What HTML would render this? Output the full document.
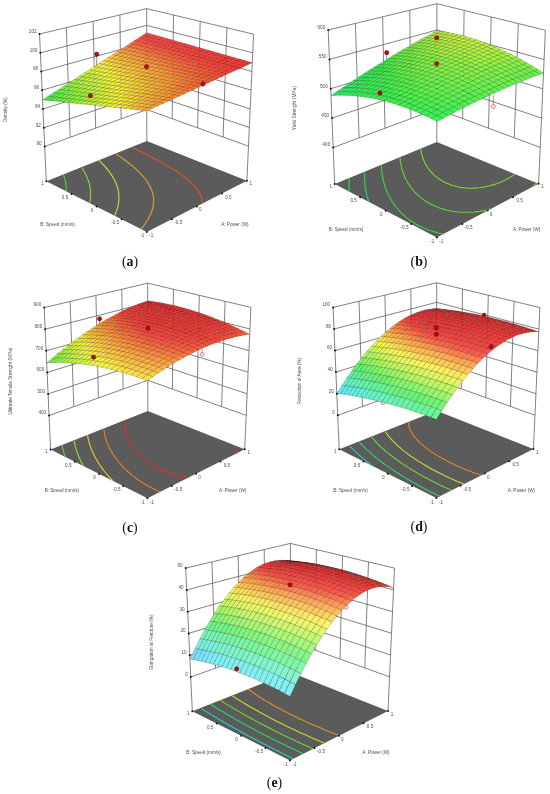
<!DOCTYPE html>
<html><head><meta charset="utf-8"><title>Figure</title>
<style>html,body{margin:0;padding:0;background:#fff}svg{display:block}</style></head>
<body><svg width="550" height="794" viewBox="0 0 550 794">
<rect width="550" height="794" fill="#fff"/>
<polygon points="46.3,181.2 146.8,232 246.9,180.8 146.8,141.1" fill="#5b5b5b"/>
<polyline points="66.3,191.3 66.3,190 66.3,188.7 66.2,187.5 66.1,186.5 66,185.5 65.9,184.5 65.7,183.3 65.5,181.9 65.2,180.7 65,179.7 64.7,178.8 64.4,177.7 64,176.3 63.7,175.3 63.3,174.4" fill="none" stroke="#44d838" stroke-width="1.1"/>
<polyline points="89.7,203.1 89.9,201.9 90.1,200.6 90.3,199.4 90.5,198.2 90.6,196.9 90.6,195.7 90.6,194.6 90.6,193.5 90.6,192.4 90.5,191.3 90.4,190.2 90.3,189.1 90.1,187.7 89.9,186.4 89.6,185.1 89.4,184.2 89.1,183.2 88.9,182.2 88.4,180.8 87.9,179.5 87.6,178.6 87.2,177.7 86.7,176.4 86.1,175.1 85.7,174.3 85.2,173.4 84.4,171.8 83.9,171 83.4,170.2 82.5,168.7 82,167.9" fill="none" stroke="#8cdc2d" stroke-width="1.1"/>
<polyline points="114.6,215.7 115.1,214.5 115.6,213.3 116.2,211.7 116.8,210.2 117.2,208.8 117.6,207.6 117.9,206.4 118.1,205.2 118.4,204 118.5,202.8 118.7,201.6 118.8,200.4 118.9,199.1 118.9,197.9 118.9,196.6 118.9,195.3 118.7,194 118.6,192.7 118.4,191.4 118.2,190.4 118,189.4 117.7,188.3 117.4,187.3 117,185.9 116.4,184.5 116.1,183.5 115.7,182.6 115.2,181.5 114.5,180 113.9,179 113.5,178.2 112.8,177 112,175.7 111.4,174.8 110.7,173.7 109.8,172.4 109.2,171.7 108.2,170.4 107.4,169.4 106.8,168.6 105.5,167.2 104.9,166.4 103.6,165 102.9,164.3 101.8,163.2 100.9,162.2 99.9,161.2 98.8,160.2" fill="none" stroke="#d1dc2d" stroke-width="1.1"/>
<polyline points="141.1,229.1 142.7,227 143.5,226 144.5,224.6 145.7,222.9 146.4,221.8 147.3,220.5 148.3,218.7 148.9,217.6 149.4,216.5 150.2,214.9 150.9,213.3 151.4,212.2 151.8,211.1 152.1,209.9 152.6,208.5 152.9,207 153.2,205.6 153.4,204.2 153.5,203 153.6,201.8 153.6,200.5 153.6,199.3 153.5,198 153.4,196.8 153.2,195.6 152.9,194.5 152.7,193.4 152.4,192.3 152.1,191.3 151.6,190 151,188.6 150.5,187.3 150,186.4 149.5,185.5 148.7,184.1 147.9,182.8 147.3,181.9 146.7,181 145.5,179.4 144.9,178.5 144.1,177.6 142.9,176.1 142.2,175.4 141,174 140.1,173.1 139.1,172.1 137.8,170.9 137.1,170.1 135.5,168.7 134.8,168 133.2,166.7 132.4,166 130.8,164.6 129.8,163.8 128.3,162.7 126.8,161.5 125.8,160.8 124.1,159.5 123.3,158.9 121.6,157.7 120,156.6 119,155.9 117.3,154.7 116.1,153.9" fill="none" stroke="#e3a32a" stroke-width="1.1"/>
<polyline points="202.2,203.7 202.2,202.3 202.2,201 202,199.7 201.8,198.5 201.5,197.4 201.1,196.3 200.7,195.2 200.2,194.1 199.7,193 198.8,191.5 197.9,190.2 197.3,189.3 196.5,188.3 195.1,186.6 194.3,185.8 193.4,184.8 191.9,183.3 191.1,182.5 189.3,181 188.4,180.2 186.6,178.7 185.7,178 183.8,176.6 182.8,175.9 180.9,174.5 179.9,173.8 178,172.5 176,171.2 175,170.5 173,169.3 170.9,168 169.9,167.4 167.9,166.2 165.8,165 164.8,164.4 162.7,163.2 160.6,162 158.6,160.9 157.5,160.3 155.5,159.2 153.4,158.1 151.3,157 150.1,156.4 148.2,155.4 146.1,154.3 144,153.2 142,152.2 140.2,151.3 138.9,150.6 136.8,149.6 134.7,148.6 132.7,147.6" fill="none" stroke="#e34e29" stroke-width="1.1"/>
<path d="M44.7,146.5 L146.8,109.6 L248.5,146.2 M43.9,127.7 L146.8,92.8 L249.4,127.5 M43,109 L146.8,75.9 L250.2,108.9 M42.1,90.2 L146.7,59.1 L251.1,90.2 M41.2,71.5 L146.7,42.3 L251.9,71.5 M40.4,52.8 L146.7,25.4 L252.8,52.8 M39.5,34 L146.7,8.6 L253.6,34.2 M70.2,137.2 L66.3,27.7 M172.2,118.8 L173.5,15 M95.7,128 L93.1,21.3 M197.6,127.9 L200.2,21.4 M121.2,118.8 L119.9,15 M223.1,137.1 L226.9,27.8 M46.3,181.2 L39.5,34 M146.8,141.1 L146.7,8.6 M246.9,180.8 L253.6,34.2" fill="none" stroke="#585858" stroke-width="0.75"/>
<g stroke="#000" stroke-opacity="0.42" stroke-width="0.42" stroke-linejoin="round">
<polygon points="146.7,36.5 150.8,33.9 146.7,32.7 142.7,35.3" fill="#f4413e"/>
<polygon points="142.6,39.1 146.7,36.5 142.7,35.3 138.5,38" fill="#f9463e"/>
<polygon points="150.9,37.6 155,35 150.8,33.9 146.7,36.5" fill="#f5413d"/>
<polygon points="138.4,41.8 142.6,39.1 138.5,38 134.3,40.7" fill="#fc4c3f"/>
<polygon points="146.7,40.2 150.9,37.6 146.7,36.5 142.6,39.1" fill="#f9463d"/>
<polygon points="155.1,38.8 159.2,36.2 155,35 150.9,37.6" fill="#f5403d"/>
<polygon points="134.2,44.5 138.4,41.8 134.3,40.7 130.1,43.4" fill="#fd623f"/>
<polygon points="142.5,42.8 146.7,40.2 142.6,39.1 138.4,41.8" fill="#fc4b3f"/>
<polygon points="151,41.3 155.1,38.8 150.9,37.6 146.7,40.2" fill="#f9453d"/>
<polygon points="159.4,39.9 163.5,37.4 159.2,36.2 155.1,38.8" fill="#f5403c"/>
<polygon points="129.8,47.2 134.2,44.5 130.1,43.4 125.8,46.2" fill="#fe773d"/>
<polygon points="138.3,45.5 142.5,42.8 138.4,41.8 134.2,44.5" fill="#fd5f3e"/>
<polygon points="146.8,43.9 151,41.3 146.7,40.2 142.5,42.8" fill="#fc493e"/>
<polygon points="155.2,42.5 159.4,39.9 155.1,38.8 151,41.3" fill="#f9453c"/>
<polygon points="163.7,41.1 167.8,38.7 163.5,37.4 159.4,39.9" fill="#f5403b"/>
<polygon points="125.5,50 129.8,47.2 125.8,46.2 121.4,49" fill="#fe8d3d"/>
<polygon points="134,48.2 138.3,45.5 134.2,44.5 129.8,47.2" fill="#fe743d"/>
<polygon points="142.5,46.6 146.8,43.9 142.5,42.8 138.3,45.5" fill="#fd5d3d"/>
<polygon points="151,45.1 155.2,42.5 151,41.3 146.8,43.9" fill="#fc493d"/>
<polygon points="159.6,43.6 163.7,41.1 159.4,39.9 155.2,42.5" fill="#f9433c"/>
<polygon points="168.1,42.3 172.2,39.9 167.8,38.7 163.7,41.1" fill="#f53f3b"/>
<polygon points="121,52.8 125.5,50 121.4,49 117,51.9" fill="#ffa23c"/>
<polygon points="129.6,51 134,48.2 129.8,47.2 125.5,50" fill="#fe8a3c"/>
<polygon points="138.2,49.3 142.5,46.6 138.3,45.5 134,48.2" fill="#fd723d"/>
<polygon points="146.8,47.7 151,45.1 146.8,43.9 142.5,46.6" fill="#fd5b3d"/>
<polygon points="155.3,46.2 159.6,43.6 155.2,42.5 151,45.1" fill="#fc473d"/>
<polygon points="163.9,44.8 168.1,42.3 163.7,41.1 159.6,43.6" fill="#f8423b"/>
<polygon points="172.6,43.6 176.6,41.2 172.2,39.9 168.1,42.3" fill="#f53f3a"/>
<polygon points="116.5,55.7 121,52.8 117,51.9 112.5,54.8" fill="#feb33c"/>
<polygon points="125.2,53.8 129.6,51 125.5,50 121,52.8" fill="#ff9f3b"/>
<polygon points="133.8,52 138.2,49.3 134,48.2 129.6,51" fill="#fe863b"/>
<polygon points="142.4,50.3 146.8,47.7 142.5,46.6 138.2,49.3" fill="#fd6f3c"/>
<polygon points="151.1,48.8 155.3,46.2 151,45.1 146.8,47.7" fill="#fd593c"/>
<polygon points="159.7,47.3 163.9,44.8 159.6,43.6 155.3,46.2" fill="#fb473c"/>
<polygon points="168.4,46 172.6,43.6 168.1,42.3 163.9,44.8" fill="#f8423a"/>
<polygon points="177.1,44.8 181.2,42.5 176.6,41.2 172.6,43.6" fill="#f53e39"/>
<polygon points="112,58.6 116.5,55.7 112.5,54.8 107.9,57.7" fill="#fdc43d"/>
<polygon points="120.7,56.6 125.2,53.8 121,52.8 116.5,55.7" fill="#feb03c"/>
<polygon points="129.4,54.7 133.8,52 129.6,51 125.2,53.8" fill="#ff9b3b"/>
<polygon points="138.1,53 142.4,50.3 138.2,49.3 133.8,52" fill="#fe833b"/>
<polygon points="146.8,51.4 151.1,48.8 146.8,47.7 142.4,50.3" fill="#fd6c3c"/>
<polygon points="155.5,49.9 159.7,47.3 155.3,46.2 151.1,48.8" fill="#fd573c"/>
<polygon points="164.2,48.5 168.4,46 163.9,44.8 159.7,47.3" fill="#fb463c"/>
<polygon points="172.9,47.2 177.1,44.8 172.6,43.6 168.4,46" fill="#f8413a"/>
<polygon points="181.7,46.1 185.8,43.8 181.2,42.5 177.1,44.8" fill="#f53e39"/>
<polygon points="107.4,61.5 112,58.6 107.9,57.7 103.3,60.7" fill="#fcd63d"/>
<polygon points="116.1,59.5 120.7,56.6 116.5,55.7 112,58.6" fill="#fdc03c"/>
<polygon points="124.9,57.5 129.4,54.7 125.2,53.8 120.7,56.6" fill="#feac3b"/>
<polygon points="133.6,55.7 138.1,53 133.8,52 129.4,54.7" fill="#ff973a"/>
<polygon points="142.4,54 146.8,51.4 142.4,50.3 138.1,53" fill="#fe803a"/>
<polygon points="151.1,52.4 155.5,49.9 151.1,48.8 146.8,51.4" fill="#fd693b"/>
<polygon points="159.9,51 164.2,48.5 159.7,47.3 155.5,49.9" fill="#fc543b"/>
<polygon points="168.7,49.7 172.9,47.2 168.4,46 164.2,48.5" fill="#fb453b"/>
<polygon points="177.5,48.5 181.7,46.1 177.1,44.8 172.9,47.2" fill="#f84139"/>
<polygon points="102.7,64.5 107.4,61.5 103.3,60.7 98.7,63.7" fill="#fbe73d"/>
<polygon points="186.3,47.4 190.4,45.1 185.8,43.8 181.7,46.1" fill="#f63d38"/>
<polygon points="111.5,62.4 116.1,59.5 112,58.6 107.4,61.5" fill="#fcd13c"/>
<polygon points="120.3,60.4 124.9,57.5 120.7,56.6 116.1,59.5" fill="#fdbb3b"/>
<polygon points="129.1,58.5 133.6,55.7 129.4,54.7 124.9,57.5" fill="#fea83b"/>
<polygon points="137.9,56.7 142.4,54 138.1,53 133.6,55.7" fill="#ff933a"/>
<polygon points="146.8,55.1 151.1,52.4 146.8,51.4 142.4,54" fill="#fe7b3a"/>
<polygon points="155.6,53.5 159.9,51 155.5,49.9 151.1,52.4" fill="#fd663b"/>
<polygon points="164.5,52.1 168.7,49.7 164.2,48.5 159.9,51" fill="#fc523b"/>
<polygon points="173.3,50.9 177.5,48.5 172.9,47.2 168.7,49.7" fill="#fb453a"/>
<polygon points="97.9,67.5 102.7,64.5 98.7,63.7 93.9,66.8" fill="#f7f63e"/>
<polygon points="182.2,49.7 186.3,47.4 181.7,46.1 177.5,48.5" fill="#f84039"/>
<polygon points="106.8,65.3 111.5,62.4 107.4,61.5 102.7,64.5" fill="#fbe23d"/>
<polygon points="191.1,48.7 195.2,46.4 190.4,45.1 186.3,47.4" fill="#f63c38"/>
<polygon points="115.7,63.2 120.3,60.4 116.1,59.5 111.5,62.4" fill="#fccc3c"/>
<polygon points="124.5,61.3 129.1,58.5 124.9,57.5 120.3,60.4" fill="#fdb73b"/>
<polygon points="133.4,59.4 137.9,56.7 133.6,55.7 129.1,58.5" fill="#ffa439"/>
<polygon points="142.3,57.7 146.8,55.1 142.4,54 137.9,56.7" fill="#ff8f39"/>
<polygon points="151.2,56.1 155.6,53.5 151.1,52.4 146.8,55.1" fill="#fe7839"/>
<polygon points="160.1,54.6 164.5,52.1 159.9,51 155.6,53.5" fill="#fd633a"/>
<polygon points="169,53.3 173.3,50.9 168.7,49.7 164.5,52.1" fill="#fc513a"/>
<polygon points="93.1,70.6 97.9,67.5 93.9,66.8 89.1,69.9" fill="#e5f63d"/>
<polygon points="178,52.1 182.2,49.7 177.5,48.5 173.3,50.9" fill="#fb4339"/>
<polygon points="102,68.3 106.8,65.3 102.7,64.5 97.9,67.5" fill="#faf43d"/>
<polygon points="186.9,51 191.1,48.7 186.3,47.4 182.2,49.7" fill="#f84038"/>
<polygon points="195.9,50 200,47.8 195.2,46.4 191.1,48.7" fill="#f63d37"/>
<polygon points="111,66.1 115.7,63.2 111.5,62.4 106.8,65.3" fill="#fbdd3c"/>
<polygon points="119.9,64.1 124.5,61.3 120.3,60.4 115.7,63.2" fill="#fdc73a"/>
<polygon points="128.8,62.2 133.4,59.4 129.1,58.5 124.5,61.3" fill="#feb339"/>
<polygon points="137.8,60.4 142.3,57.7 137.9,56.7 133.4,59.4" fill="#ffa038"/>
<polygon points="146.8,58.7 151.2,56.1 146.8,55.1 142.3,57.7" fill="#fe8a38"/>
<polygon points="155.7,57.2 160.1,54.6 155.6,53.5 151.2,56.1" fill="#fe7538"/>
<polygon points="164.7,55.8 169,53.3 164.5,52.1 160.1,54.6" fill="#fd6039"/>
<polygon points="88.2,73.7 93.1,70.6 89.1,69.9 84.2,73" fill="#d3f63c"/>
<polygon points="173.7,54.5 178,52.1 173.3,50.9 169,53.3" fill="#fc4e39"/>
<polygon points="97.2,71.3 102,68.3 97.9,67.5 93.1,70.6" fill="#ebf63c"/>
<polygon points="182.7,53.3 186.9,51 182.2,49.7 178,52.1" fill="#fb4338"/>
<polygon points="191.7,52.3 195.9,50 191.1,48.7 186.9,51" fill="#f83f37"/>
<polygon points="106.2,69.1 111,66.1 106.8,65.3 102,68.3" fill="#faed3c"/>
<polygon points="200.7,51.4 204.8,49.2 200,47.8 195.9,50" fill="#f63c36"/>
<polygon points="115.2,67 119.9,64.1 115.7,63.2 111,66.1" fill="#fcd73b"/>
<polygon points="124.2,65 128.8,62.2 124.5,61.3 119.9,64.1" fill="#fdc23a"/>
<polygon points="133.2,63.1 137.8,60.4 133.4,59.4 128.8,62.2" fill="#feae39"/>
<polygon points="142.2,61.4 146.8,58.7 142.3,57.7 137.8,60.4" fill="#ff9c38"/>
<polygon points="151.3,59.8 155.7,57.2 151.2,56.1 146.8,58.7" fill="#fe8638"/>
<polygon points="160.3,58.3 164.7,55.8 160.1,54.6 155.7,57.2" fill="#fe7138"/>
<polygon points="83.3,76.9 88.2,73.7 84.2,73 79.3,76.2" fill="#c2f53c"/>
<polygon points="169.4,56.9 173.7,54.5 169,53.3 164.7,55.8" fill="#fd5e39"/>
<polygon points="92.3,74.4 97.2,71.3 93.1,70.6 88.2,73.7" fill="#daf53c"/>
<polygon points="178.4,55.7 182.7,53.3 178,52.1 173.7,54.5" fill="#fc4c39"/>
<polygon points="187.5,54.6 191.7,52.3 186.9,51 182.7,53.3" fill="#fa4238"/>
<polygon points="101.4,72.1 106.2,69.1 102,68.3 97.2,71.3" fill="#f2f53c"/>
<polygon points="196.6,53.6 200.7,51.4 195.9,50 191.7,52.3" fill="#f83e37"/>
<polygon points="110.4,69.9 115.2,67 111,66.1 106.2,69.1" fill="#fbe73b"/>
<polygon points="205.7,52.7 209.8,50.6 204.8,49.2 200.7,51.4" fill="#f63b36"/>
<polygon points="119.5,67.8 124.2,65 119.9,64.1 115.2,67" fill="#fcd13a"/>
<polygon points="128.6,65.9 133.2,63.1 128.8,62.2 124.2,65" fill="#fdbd39"/>
<polygon points="137.7,64.1 142.2,61.4 137.8,60.4 133.2,63.1" fill="#feaa38"/>
<polygon points="146.8,62.4 151.3,59.8 146.8,58.7 142.2,61.4" fill="#ff9737"/>
<polygon points="155.9,60.8 160.3,58.3 155.7,57.2 151.3,59.8" fill="#fe8137"/>
<polygon points="78.3,80.1 83.3,76.9 79.3,76.2 74.3,79.4" fill="#b0f53b"/>
<polygon points="165,59.4 169.4,56.9 164.7,55.8 160.3,58.3" fill="#fd6d38"/>
<polygon points="87.4,77.5 92.3,74.4 88.2,73.7 83.3,76.9" fill="#c9f53b"/>
<polygon points="174.1,58.1 178.4,55.7 173.7,54.5 169.4,56.9" fill="#fd5a38"/>
<polygon points="183.3,56.9 187.5,54.6 182.7,53.3 178.4,55.7" fill="#fc4938"/>
<polygon points="96.5,75.1 101.4,72.1 97.2,71.3 92.3,74.4" fill="#e1f53b"/>
<polygon points="192.4,55.8 196.6,53.6 191.7,52.3 187.5,54.6" fill="#fa4237"/>
<polygon points="105.6,72.8 110.4,69.9 106.2,69.1 101.4,72.1" fill="#f8f53b"/>
<polygon points="201.6,54.9 205.7,52.7 200.7,51.4 196.6,53.6" fill="#f73e36"/>
<polygon points="114.7,70.7 119.5,67.8 115.2,67 110.4,69.9" fill="#fbe13a"/>
<polygon points="210.7,54.1 214.8,52 209.8,50.6 205.7,52.7" fill="#f53b35"/>
<polygon points="123.9,68.7 128.6,65.9 124.2,65 119.5,67.8" fill="#fccc39"/>
<polygon points="133,66.8 137.7,64.1 133.2,63.1 128.6,65.9" fill="#fdb838"/>
<polygon points="142.2,65 146.8,62.4 142.2,61.4 137.7,64.1" fill="#fea537"/>
<polygon points="151.4,63.4 155.9,60.8 151.3,59.8 146.8,62.4" fill="#ff9237"/>
<polygon points="73.2,83.3 78.3,80.1 74.3,79.4 69.2,82.7" fill="#9df53b"/>
<polygon points="160.5,61.9 165,59.4 160.3,58.3 155.9,60.8" fill="#fe7d37"/>
<polygon points="82.3,80.7 87.4,77.5 83.3,76.9 78.3,80.1" fill="#b7f53b"/>
<polygon points="169.7,60.5 174.1,58.1 169.4,56.9 165,59.4" fill="#fd6937"/>
<polygon points="178.9,59.2 183.3,56.9 178.4,55.7 174.1,58.1" fill="#fd5737"/>
<polygon points="91.5,78.2 96.5,75.1 92.3,74.4 87.4,77.5" fill="#d0f53b"/>
<polygon points="188.1,58.1 192.4,55.8 187.5,54.6 183.3,56.9" fill="#fc4737"/>
<polygon points="100.7,75.9 105.6,72.8 101.4,72.1 96.5,75.1" fill="#e8f53b"/>
<polygon points="197.4,57.1 201.6,54.9 196.6,53.6 192.4,55.8" fill="#fa4036"/>
<polygon points="109.9,73.6 114.7,70.7 110.4,69.9 105.6,72.8" fill="#faf13b"/>
<polygon points="206.6,56.3 210.7,54.1 205.7,52.7 201.6,54.9" fill="#f73d35"/>
<polygon points="119.1,71.5 123.9,68.7 119.5,67.8 114.7,70.7" fill="#fbdc3a"/>
<polygon points="215.9,55.5 219.9,53.5 214.8,52 210.7,54.1" fill="#f53a34"/>
<polygon points="128.3,69.6 133,66.8 128.6,65.9 123.9,68.7" fill="#fdc738"/>
<polygon points="137.5,67.7 142.2,65 137.7,64.1 133,66.8" fill="#feb337"/>
<polygon points="146.8,66 151.4,63.4 146.8,62.4 142.2,65" fill="#ffa136"/>
<polygon points="68,86.6 73.2,83.3 69.2,82.7 64,86" fill="#8bf43d"/>
<polygon points="156,64.4 160.5,61.9 155.9,60.8 151.4,63.4" fill="#ff8d36"/>
<polygon points="77.2,83.9 82.3,80.7 78.3,80.1 73.2,83.3" fill="#a6f53a"/>
<polygon points="165.3,63 169.7,60.5 165,59.4 160.5,61.9" fill="#fe7836"/>
<polygon points="174.5,61.6 178.9,59.2 174.1,58.1 169.7,60.5" fill="#fd6637"/>
<polygon points="86.5,81.3 91.5,78.2 87.4,77.5 82.3,80.7" fill="#c0f53a"/>
<polygon points="183.8,60.4 188.1,58.1 183.3,56.9 178.9,59.2" fill="#fd5537"/>
<polygon points="95.7,78.9 100.7,75.9 96.5,75.1 91.5,78.2" fill="#d8f53a"/>
<polygon points="193.1,59.4 197.4,57.1 192.4,55.8 188.1,58.1" fill="#fc4537"/>
<polygon points="105,76.6 109.9,73.6 105.6,72.8 100.7,75.9" fill="#eff53a"/>
<polygon points="202.4,58.4 206.6,56.3 201.6,54.9 197.4,57.1" fill="#fa3f36"/>
<polygon points="114.2,74.4 119.1,71.5 114.7,70.7 109.9,73.6" fill="#fbeb39"/>
<polygon points="211.7,57.6 215.9,55.5 210.7,54.1 206.6,56.3" fill="#f73d35"/>
<polygon points="123.5,72.4 128.3,69.6 123.9,68.7 119.1,71.5" fill="#fcd538"/>
<polygon points="221,57 225.1,54.9 219.9,53.5 215.9,55.5" fill="#f53a34"/>
<polygon points="132.8,70.4 137.5,67.7 133,66.8 128.3,69.6" fill="#fdc137"/>
<polygon points="142.1,68.7 146.8,66 142.2,65 137.5,67.7" fill="#feae36"/>
<polygon points="62.7,89.9 68,86.6 64,86 58.8,89.4" fill="#77f33f"/>
<polygon points="151.4,67 156,64.4 151.4,63.4 146.8,66" fill="#ff9c35"/>
<polygon points="72,87.2 77.2,83.9 73.2,83.3 68,86.6" fill="#94f53a"/>
<polygon points="160.7,65.5 165.3,63 160.5,61.9 156,64.4" fill="#fe8835"/>
<polygon points="170.1,64.1 174.5,61.6 169.7,60.5 165.3,63" fill="#fe7435"/>
<polygon points="81.3,84.5 86.5,81.3 82.3,80.7 77.2,83.9" fill="#aef539"/>
<polygon points="179.4,62.8 183.8,60.4 178.9,59.2 174.5,61.6" fill="#fd6136"/>
<polygon points="90.7,82 95.7,78.9 91.5,78.2 86.5,81.3" fill="#c7f539"/>
<polygon points="188.8,61.7 193.1,59.4 188.1,58.1 183.8,60.4" fill="#fd5136"/>
<polygon points="100,79.6 105,76.6 100.7,75.9 95.7,78.9" fill="#dff539"/>
<polygon points="198.1,60.7 202.4,58.4 197.4,57.1 193.1,59.4" fill="#fc4336"/>
<polygon points="109.3,77.3 114.2,74.4 109.9,73.6 105,76.6" fill="#f6f539"/>
<polygon points="207.5,59.8 211.7,57.6 206.6,56.3 202.4,58.4" fill="#fa3f35"/>
<polygon points="118.7,75.2 123.5,72.4 119.1,71.5 114.2,74.4" fill="#fbe439"/>
<polygon points="216.9,59 221,57 215.9,55.5 211.7,57.6" fill="#f73c34"/>
<polygon points="128,73.2 132.8,70.4 128.3,69.6 123.5,72.4" fill="#fccf38"/>
<polygon points="226.3,58.4 230.4,56.4 225.1,54.9 221,57" fill="#f63a33"/>
<polygon points="137.4,71.3 142.1,68.7 137.5,67.7 132.8,70.4" fill="#fdbc37"/>
<polygon points="57.4,93.3 62.7,89.9 58.8,89.4 53.4,92.8" fill="#64f242"/>
<polygon points="146.8,69.6 151.4,67 146.8,66 142.1,68.7" fill="#fea836"/>
<polygon points="66.8,90.5 72,87.2 68,86.6 62.7,89.9" fill="#81f43d"/>
<polygon points="156.2,68 160.7,65.5 156,64.4 151.4,67" fill="#ff9735"/>
<polygon points="165.6,66.5 170.1,64.1 165.3,63 160.7,65.5" fill="#fe8335"/>
<polygon points="76.1,87.7 81.3,84.5 77.2,83.9 72,87.2" fill="#9df539"/>
<polygon points="175,65.2 179.4,62.8 174.5,61.6 170.1,64.1" fill="#fe6f35"/>
<polygon points="85.5,85.1 90.7,82 86.5,81.3 81.3,84.5" fill="#b6f539"/>
<polygon points="184.4,64 188.8,61.7 183.8,60.4 179.4,62.8" fill="#fd5e36"/>
<polygon points="94.9,82.7 100,79.6 95.7,78.9 90.7,82" fill="#d0f539"/>
<polygon points="193.8,62.9 198.1,60.7 193.1,59.4 188.8,61.7" fill="#fc4f36"/>
<polygon points="104.3,80.3 109.3,77.3 105,76.6 100,79.6" fill="#e7f539"/>
<polygon points="203.3,62 207.5,59.8 202.4,58.4 198.1,60.7" fill="#fc4136"/>
<polygon points="113.7,78.1 118.7,75.2 114.2,74.4 109.3,77.3" fill="#faf239"/>
<polygon points="212.7,61.1 216.9,59 211.7,57.6 207.5,59.8" fill="#f93e35"/>
<polygon points="123.2,76 128,73.2 123.5,72.4 118.7,75.2" fill="#fbdc38"/>
<polygon points="222.2,60.5 226.3,58.4 221,57 216.9,59" fill="#f73b34"/>
<polygon points="132.6,74.1 137.4,71.3 132.8,70.4 128,73.2" fill="#fcc837"/>
<polygon points="231.7,59.9 235.7,57.9 230.4,56.4 226.3,58.4" fill="#f63933"/>
<polygon points="52,96.8 57.4,93.3 53.4,92.8 48,96.3" fill="#50f145"/>
<polygon points="142,72.3 146.8,69.6 142.1,68.7 137.4,71.3" fill="#fdb636"/>
<polygon points="61.4,93.8 66.8,90.5 62.7,89.9 57.4,93.3" fill="#6ef340"/>
<polygon points="151.5,70.6 156.2,68 151.4,67 146.8,69.6" fill="#fea335"/>
<polygon points="161,69 165.6,66.5 160.7,65.5 156.2,68" fill="#ff9134"/>
<polygon points="70.9,91 76.1,87.7 72,87.2 66.8,90.5" fill="#8bf43b"/>
<polygon points="170.4,67.6 175,65.2 170.1,64.1 165.6,66.5" fill="#fe7d34"/>
<polygon points="80.3,88.3 85.5,85.1 81.3,84.5 76.1,87.7" fill="#a6f538"/>
<polygon points="179.9,66.3 184.4,64 179.4,62.8 175,65.2" fill="#fd6b35"/>
<polygon points="89.8,85.8 94.9,82.7 90.7,82 85.5,85.1" fill="#c0f538"/>
<polygon points="189.4,65.2 193.8,62.9 188.8,61.7 184.4,64" fill="#fd5a35"/>
<polygon points="99.3,83.3 104.3,80.3 100,79.6 94.9,82.7" fill="#d7f538"/>
<polygon points="199,64.2 203.3,62 198.1,60.7 193.8,62.9" fill="#fc4b35"/>
<polygon points="108.7,81 113.7,78.1 109.3,77.3 104.3,80.3" fill="#eff538"/>
<polygon points="208.5,63.3 212.7,61.1 207.5,59.8 203.3,62" fill="#fb4035"/>
<polygon points="118.2,78.9 123.2,76 118.7,75.2 113.7,78.1" fill="#fbeb37"/>
<polygon points="218,62.5 222.2,60.5 216.9,59 212.7,61.1" fill="#f93d34"/>
<polygon points="127.7,76.9 132.6,74.1 128,73.2 123.2,76" fill="#fcd536"/>
<polygon points="227.6,61.9 231.7,59.9 226.3,58.4 222.2,60.5" fill="#f73b33"/>
<polygon points="46.5,100.3 52,96.8 48,96.3 42.6,99.9" fill="#3df048"/>
<polygon points="137.2,75 142,72.3 137.4,71.3 132.6,74.1" fill="#fdc235"/>
<polygon points="237.1,61.4 241.2,59.5 235.7,57.9 231.7,59.9" fill="#f63933"/>
<polygon points="56,97.2 61.4,93.8 57.4,93.3 52,96.8" fill="#5bf242"/>
<polygon points="146.8,73.2 151.5,70.6 146.8,69.6 142,72.3" fill="#feb034"/>
<polygon points="156.3,71.6 161,69 156.2,68 151.5,70.6" fill="#ff9e33"/>
<polygon points="65.5,94.3 70.9,91 66.8,90.5 61.4,93.8" fill="#79f33d"/>
<polygon points="165.9,70.1 170.4,67.6 165.6,66.5 161,69" fill="#ff8b33"/>
<polygon points="75,91.6 80.3,88.3 76.1,87.7 70.9,91" fill="#95f539"/>
<polygon points="175.4,68.7 179.9,66.3 175,65.2 170.4,67.6" fill="#fe7733"/>
<polygon points="84.6,88.9 89.8,85.8 85.5,85.1 80.3,88.3" fill="#aff538"/>
<polygon points="185,67.5 189.4,65.2 184.4,64 179.9,66.3" fill="#fd6634"/>
<polygon points="94.1,86.4 99.3,83.3 94.9,82.7 89.8,85.8" fill="#c9f538"/>
<polygon points="194.6,66.4 199,64.2 193.8,62.9 189.4,65.2" fill="#fd5634"/>
<polygon points="103.7,84 108.7,81 104.3,80.3 99.3,83.3" fill="#e0f538"/>
<polygon points="204.2,65.4 208.5,63.3 203.3,62 199,64.2" fill="#fc4834"/>
<polygon points="113.2,81.8 118.2,78.9 113.7,78.1 108.7,81" fill="#f6f538"/>
<polygon points="213.8,64.6 218,62.5 212.7,61.1 208.5,63.3" fill="#fb3f34"/>
<polygon points="122.8,79.7 127.7,76.9 123.2,76 118.2,78.9" fill="#fbe437"/>
<polygon points="223.4,63.9 227.6,61.9 222.2,60.5 218,62.5" fill="#f93c33"/>
<polygon points="132.4,77.7 137.2,75 132.6,74.1 127.7,76.9" fill="#fcce36"/>
<polygon points="233,63.4 237.1,61.4 231.7,59.9 227.6,61.9" fill="#f73a32"/>
<polygon points="50.5,100.7 56,97.2 52,96.8 46.5,100.3" fill="#48f145"/>
<polygon points="142,75.9 146.8,73.2 142,72.3 137.2,75" fill="#fdbc35"/>
<polygon points="242.7,62.9 246.7,61.1 241.2,59.5 237.1,61.4" fill="#f63832"/>
<polygon points="151.6,74.2 156.3,71.6 151.5,70.6 146.8,73.2" fill="#fea934"/>
<polygon points="60.1,97.7 65.5,94.3 61.4,93.8 56,97.2" fill="#67f340"/>
<polygon points="161.2,72.6 165.9,70.1 161,69 156.3,71.6" fill="#ff9933"/>
<polygon points="69.7,94.8 75,91.6 70.9,91 65.5,94.3" fill="#84f43b"/>
<polygon points="170.8,71.1 175.4,68.7 170.4,67.6 165.9,70.1" fill="#fe8533"/>
<polygon points="79.3,92.1 84.6,88.9 80.3,88.3 75,91.6" fill="#9ff537"/>
<polygon points="180.5,69.8 185,67.5 179.9,66.3 175.4,68.7" fill="#fe7233"/>
<polygon points="88.9,89.5 94.1,86.4 89.8,85.8 84.6,88.9" fill="#b9f537"/>
<polygon points="190.1,68.7 194.6,66.4 189.4,65.2 185,67.5" fill="#fd6134"/>
<polygon points="98.5,87.1 103.7,84 99.3,83.3 94.1,86.4" fill="#d1f537"/>
<polygon points="199.8,67.6 204.2,65.4 199,64.2 194.6,66.4" fill="#fd5234"/>
<polygon points="108.1,84.7 113.2,81.8 108.7,81 103.7,84" fill="#e9f537"/>
<polygon points="209.5,66.7 213.8,64.6 208.5,63.3 204.2,65.4" fill="#fc4434"/>
<polygon points="117.8,82.5 122.8,79.7 118.2,78.9 113.2,81.8" fill="#faf137"/>
<polygon points="219.2,66 223.4,63.9 218,62.5 213.8,64.6" fill="#fb3d34"/>
<polygon points="127.4,80.5 132.4,77.7 127.7,76.9 122.8,79.7" fill="#fbdc36"/>
<polygon points="228.9,65.3 233,63.4 227.6,61.9 223.4,63.9" fill="#f93b33"/>
<polygon points="137.1,78.6 142,75.9 137.2,75 132.4,77.7" fill="#fcc735"/>
<polygon points="238.6,64.8 242.7,62.9 237.1,61.4 233,63.4" fill="#f73932"/>
<polygon points="146.8,76.8 151.6,74.2 146.8,73.2 142,75.9" fill="#fdb534"/>
<polygon points="54.5,101.1 60.1,97.7 56,97.2 50.5,100.7" fill="#55f242"/>
<polygon points="248.3,64.5 252.3,62.7 246.7,61.1 242.7,62.9" fill="#f63732"/>
<polygon points="156.5,75.1 161.2,72.6 156.3,71.6 151.6,74.2" fill="#fea333"/>
<polygon points="64.2,98.2 69.7,94.8 65.5,94.3 60.1,97.7" fill="#72f33d"/>
<polygon points="166.2,73.6 170.8,71.1 165.9,70.1 161.2,72.6" fill="#ff9232"/>
<polygon points="73.9,95.4 79.3,92.1 75,91.6 69.7,94.8" fill="#8ef538"/>
<polygon points="175.9,72.2 180.5,69.8 175.4,68.7 170.8,71.1" fill="#fe7e32"/>
<polygon points="83.6,92.7 88.9,89.5 84.6,88.9 79.3,92.1" fill="#a9f536"/>
<polygon points="185.6,71 190.1,68.7 185,67.5 180.5,69.8" fill="#fe6d32"/>
<polygon points="93.3,90.1 98.5,87.1 94.1,86.4 88.9,89.5" fill="#c2f536"/>
<polygon points="195.3,69.9 199.8,67.6 194.6,66.4 190.1,68.7" fill="#fd5c33"/>
<polygon points="103,87.7 108.1,84.7 103.7,84 98.5,87.1" fill="#daf536"/>
<polygon points="205.1,68.9 209.5,66.7 204.2,65.4 199.8,67.6" fill="#fd4e33"/>
<polygon points="112.7,85.4 117.8,82.5 113.2,81.8 108.1,84.7" fill="#f0f536"/>
<polygon points="214.9,68 219.2,66 213.8,64.6 209.5,66.7" fill="#fc4233"/>
<polygon points="122.4,83.3 127.4,80.5 122.8,79.7 117.8,82.5" fill="#fbe936"/>
<polygon points="224.6,67.3 228.9,65.3 223.4,63.9 219.2,66" fill="#fa3d32"/>
<polygon points="132.2,81.3 137.1,78.6 132.4,77.7 127.4,80.5" fill="#fcd435"/>
<polygon points="234.4,66.8 238.6,64.8 233,63.4 228.9,65.3" fill="#f93b32"/>
<polygon points="141.9,79.4 146.8,76.8 142,75.9 137.1,78.6" fill="#fdc034"/>
<polygon points="244.2,66.4 248.3,64.5 242.7,62.9 238.6,64.8" fill="#f73931"/>
<polygon points="151.7,77.7 156.5,75.1 151.6,74.2 146.8,76.8" fill="#feaf33"/>
<polygon points="58.7,101.6 64.2,98.2 60.1,97.7 54.5,101.1" fill="#60f23f"/>
<polygon points="161.4,76.1 166.2,73.6 161.2,72.6 156.5,75.1" fill="#ff9d32"/>
<polygon points="68.4,98.7 73.9,95.4 69.7,94.8 64.2,98.2" fill="#7df43b"/>
<polygon points="171.2,74.6 175.9,72.2 170.8,71.1 166.2,73.6" fill="#ff8b32"/>
<polygon points="78.2,95.9 83.6,92.7 79.3,92.1 73.9,95.4" fill="#99f536"/>
<polygon points="181,73.3 185.6,71 180.5,69.8 175.9,72.2" fill="#fe7832"/>
<polygon points="87.9,93.3 93.3,90.1 88.9,89.5 83.6,92.7" fill="#b3f536"/>
<polygon points="190.8,72.1 195.3,69.9 190.1,68.7 185.6,71" fill="#fd6733"/>
<polygon points="97.7,90.8 103,87.7 98.5,87.1 93.3,90.1" fill="#ccf536"/>
<polygon points="200.6,71.1 205.1,68.9 199.8,67.6 195.3,69.9" fill="#fd5833"/>
<polygon points="107.5,88.4 112.7,85.4 108.1,84.7 103,87.7" fill="#e4f536"/>
<polygon points="210.5,70.2 214.9,68 209.5,66.7 205.1,68.9" fill="#fc4a32"/>
<polygon points="117.3,86.2 122.4,83.3 117.8,82.5 112.7,85.4" fill="#f9f536"/>
<polygon points="220.3,69.4 224.6,67.3 219.2,66 214.9,68" fill="#fc3e32"/>
<polygon points="127.1,84.1 132.2,81.3 127.4,80.5 122.4,83.3" fill="#fbe135"/>
<polygon points="230.2,68.8 234.4,66.8 228.9,65.3 224.6,67.3" fill="#fa3c31"/>
<polygon points="136.9,82.1 141.9,79.4 137.1,78.6 132.2,81.3" fill="#fccc34"/>
<polygon points="240.1,68.3 244.2,66.4 238.6,64.8 234.4,66.8" fill="#f83931"/>
<polygon points="146.8,80.3 151.7,77.7 146.8,76.8 141.9,79.4" fill="#fdb933"/>
<polygon points="156.6,78.6 161.4,76.1 156.5,75.1 151.7,77.7" fill="#fea832"/>
<polygon points="62.9,102 68.4,98.7 64.2,98.2 58.7,101.6" fill="#6cf33d"/>
<polygon points="166.5,77.1 171.2,74.6 166.2,73.6 161.4,76.1" fill="#ff9731"/>
<polygon points="72.7,99.1 78.2,95.9 73.9,95.4 68.4,98.7" fill="#89f438"/>
<polygon points="176.4,75.7 181,73.3 175.9,72.2 171.2,74.6" fill="#fe8331"/>
<polygon points="82.5,96.4 87.9,93.3 83.6,92.7 78.2,95.9" fill="#a3f535"/>
<polygon points="186.2,74.4 190.8,72.1 185.6,71 181,73.3" fill="#fe7231"/>
<polygon points="92.4,93.8 97.7,90.8 93.3,90.1 87.9,93.3" fill="#bdf535"/>
<polygon points="196.1,73.3 200.6,71.1 195.3,69.9 190.8,72.1" fill="#fd6132"/>
<polygon points="102.3,91.4 107.5,88.4 103,87.7 97.7,90.8" fill="#d6f535"/>
<polygon points="206,72.3 210.5,70.2 205.1,68.9 200.6,71.1" fill="#fd5332"/>
<polygon points="112.1,89.1 117.3,86.2 112.7,85.4 107.5,88.4" fill="#ecf535"/>
<polygon points="216,71.5 220.3,69.4 214.9,68 210.5,70.2" fill="#fc4632"/>
<polygon points="122,86.9 127.1,84.1 122.4,83.3 117.3,86.2" fill="#faed35"/>
<polygon points="225.9,70.8 230.2,68.8 224.6,67.3 220.3,69.4" fill="#fb3d32"/>
<polygon points="131.9,84.9 136.9,82.1 132.2,81.3 127.1,84.1" fill="#fcd833"/>
<polygon points="235.8,70.2 240.1,68.3 234.4,66.8 230.2,68.8" fill="#fa3b31"/>
<polygon points="141.8,83 146.8,80.3 141.9,79.4 136.9,82.1" fill="#fdc432"/>
<polygon points="151.7,81.2 156.6,78.6 151.7,77.7 146.8,80.3" fill="#feb231"/>
<polygon points="161.7,79.6 166.5,77.1 161.4,76.1 156.6,78.6" fill="#ffa130"/>
<polygon points="67.1,102.5 72.7,99.1 68.4,98.7 62.9,102" fill="#79f33a"/>
<polygon points="171.6,78.1 176.4,75.7 171.2,74.6 166.5,77.1" fill="#ff8f30"/>
<polygon points="77.1,99.6 82.5,96.4 78.2,95.9 72.7,99.1" fill="#94f536"/>
<polygon points="181.6,76.8 186.2,74.4 181,73.3 176.4,75.7" fill="#fe7c30"/>
<polygon points="87,97 92.4,93.8 87.9,93.3 82.5,96.4" fill="#aff535"/>
<polygon points="191.5,75.6 196.1,73.3 190.8,72.1 186.2,74.4" fill="#fe6b30"/>
<polygon points="96.9,94.4 102.3,91.4 97.7,90.8 92.4,93.8" fill="#c8f535"/>
<polygon points="201.5,74.5 206,72.3 200.6,71.1 196.1,73.3" fill="#fd5c31"/>
<polygon points="106.9,92 112.1,89.1 107.5,88.4 102.3,91.4" fill="#dff535"/>
<polygon points="211.5,73.6 216,71.5 210.5,70.2 206,72.3" fill="#fd4e31"/>
<polygon points="116.8,89.8 122,86.9 117.3,86.2 112.1,89.1" fill="#f6f535"/>
<polygon points="221.5,72.8 225.9,70.8 220.3,69.4 216,71.5" fill="#fc4231"/>
<polygon points="126.8,87.7 131.9,84.9 127.1,84.1 122,86.9" fill="#fbe434"/>
<polygon points="231.6,72.1 235.8,70.2 230.2,68.8 225.9,70.8" fill="#fb3c31"/>
<polygon points="136.8,85.7 141.8,83 136.9,82.1 131.9,84.9" fill="#fcd033"/>
<polygon points="146.8,83.8 151.7,81.2 146.8,80.3 141.8,83" fill="#fdbc32"/>
<polygon points="156.8,82.1 161.7,79.6 156.6,78.6 151.7,81.2" fill="#feaa31"/>
<polygon points="166.8,80.6 171.6,78.1 166.5,77.1 161.7,79.6" fill="#ff9a30"/>
<polygon points="71.5,102.9 77.1,99.6 72.7,99.1 67.1,102.5" fill="#84f437"/>
<polygon points="176.8,79.1 181.6,76.8 176.4,75.7 171.6,78.1" fill="#fe8830"/>
<polygon points="81.5,100.2 87,97 82.5,96.4 77.1,99.6" fill="#a0f534"/>
<polygon points="186.9,77.9 191.5,75.6 186.2,74.4 181.6,76.8" fill="#fe7530"/>
<polygon points="91.5,97.5 96.9,94.4 92.4,93.8 87,97" fill="#baf534"/>
<polygon points="197,76.7 201.5,74.5 196.1,73.3 191.5,75.6" fill="#fd6531"/>
<polygon points="101.5,95 106.9,92 102.3,91.4 96.9,94.4" fill="#d2f534"/>
<polygon points="207,75.7 211.5,73.6 206,72.3 201.5,74.5" fill="#fd5631"/>
<polygon points="111.6,92.7 116.8,89.8 112.1,89.1 106.9,92" fill="#e9f534"/>
<polygon points="217.1,74.9 221.5,72.8 216,71.5 211.5,73.6" fill="#fc4931"/>
<polygon points="121.6,90.5 126.8,87.7 122,86.9 116.8,89.8" fill="#faf034"/>
<polygon points="227.2,74.1 231.6,72.1 225.9,70.8 221.5,72.8" fill="#fc3d31"/>
<polygon points="131.7,88.4 136.8,85.7 131.9,84.9 126.8,87.7" fill="#fbda33"/>
<polygon points="141.7,86.5 146.8,83.8 141.8,83 136.8,85.7" fill="#fcc732"/>
<polygon points="151.8,84.7 156.8,82.1 151.7,81.2 146.8,83.8" fill="#fdb531"/>
<polygon points="161.9,83.1 166.8,80.6 161.7,79.6 156.8,82.1" fill="#fea330"/>
<polygon points="172,81.6 176.8,79.1 171.6,78.1 166.8,80.6" fill="#ff922f"/>
<polygon points="75.9,103.4 81.5,100.2 77.1,99.6 71.5,102.9" fill="#91f534"/>
<polygon points="182.2,80.2 186.9,77.9 181.6,76.8 176.8,79.1" fill="#fe7f2f"/>
<polygon points="86,100.7 91.5,97.5 87,97 81.5,100.2" fill="#acf533"/>
<polygon points="192.3,79 197,76.7 191.5,75.6 186.9,77.9" fill="#fe6d2f"/>
<polygon points="96.1,98.1 101.5,95 96.9,94.4 91.5,97.5" fill="#c4f533"/>
<polygon points="202.4,77.9 207,75.7 201.5,74.5 197,76.7" fill="#fd5e30"/>
<polygon points="106.2,95.7 111.6,92.7 106.9,92 101.5,95" fill="#dcf533"/>
<polygon points="212.6,77 217.1,74.9 211.5,73.6 207,75.7" fill="#fd5030"/>
<polygon points="116.3,93.4 121.6,90.5 116.8,89.8 111.6,92.7" fill="#f3f533"/>
<polygon points="222.8,76.2 227.2,74.1 221.5,72.8 217.1,74.9" fill="#fc4430"/>
<polygon points="126.5,91.2 131.7,88.4 126.8,87.7 121.6,90.5" fill="#fbe632"/>
<polygon points="136.6,89.2 141.7,86.5 136.8,85.7 131.7,88.4" fill="#fcd131"/>
<polygon points="146.8,87.3 151.8,84.7 146.8,83.8 141.7,86.5" fill="#fdbe30"/>
<polygon points="157,85.6 161.9,83.1 156.8,82.1 151.8,84.7" fill="#fead2f"/>
<polygon points="167.2,84 172,81.6 166.8,80.6 161.9,83.1" fill="#ff9c2e"/>
<polygon points="177.4,82.6 182.2,80.2 176.8,79.1 172,81.6" fill="#ff892e"/>
<polygon points="80.4,103.9 86,100.7 81.5,100.2 75.9,103.4" fill="#9df533"/>
<polygon points="187.6,81.3 192.3,79 186.9,77.9 182.2,80.2" fill="#fe772e"/>
<polygon points="90.6,101.2 96.1,98.1 91.5,97.5 86,100.7" fill="#b7f533"/>
<polygon points="197.8,80.1 202.4,77.9 197,76.7 192.3,79" fill="#fd662f"/>
<polygon points="100.8,98.7 106.2,95.7 101.5,95 96.1,98.1" fill="#d0f533"/>
<polygon points="208,79.1 212.6,77 207,75.7 202.4,77.9" fill="#fd572f"/>
<polygon points="111,96.3 116.3,93.4 111.6,92.7 106.2,95.7" fill="#e7f533"/>
<polygon points="218.3,78.2 222.8,76.2 217.1,74.9 212.6,77" fill="#fc4a2f"/>
<polygon points="121.2,94 126.5,91.2 121.6,90.5 116.3,93.4" fill="#faf233"/>
<polygon points="131.4,91.9 136.6,89.2 131.7,88.4 126.5,91.2" fill="#fbdc32"/>
<polygon points="141.7,90 146.8,87.3 141.7,86.5 136.6,89.2" fill="#fcc831"/>
<polygon points="151.9,88.2 157,85.6 151.8,84.7 146.8,87.3" fill="#fdb530"/>
<polygon points="162.2,86.5 167.2,84 161.9,83.1 157,85.6" fill="#fea42f"/>
<polygon points="172.5,85 177.4,82.6 172,81.6 167.2,84" fill="#ff932e"/>
<polygon points="182.8,83.6 187.6,81.3 182.2,80.2 177.4,82.6" fill="#fe802e"/>
<polygon points="85,104.3 90.6,101.2 86,100.7 80.4,103.9" fill="#a9f532"/>
<polygon points="193.1,82.3 197.8,80.1 192.3,79 187.6,81.3" fill="#fe6f2e"/>
<polygon points="95.2,101.7 100.8,98.7 96.1,98.1 90.6,101.2" fill="#c3f532"/>
<polygon points="203.4,81.2 208,79.1 202.4,77.9 197.8,80.1" fill="#fd5f2f"/>
<polygon points="105.5,99.2 111,96.3 106.2,95.7 100.8,98.7" fill="#dbf532"/>
<polygon points="213.7,80.3 218.3,78.2 212.6,77 208,79.1" fill="#fd512f"/>
<polygon points="115.8,96.9 121.2,94 116.3,93.4 111,96.3" fill="#f2f532"/>
<polygon points="126.1,94.7 131.4,91.9 126.5,91.2 121.2,94" fill="#fbe731"/>
<polygon points="136.5,92.7 141.7,90 136.6,89.2 131.4,91.9" fill="#fcd230"/>
<polygon points="146.8,90.8 151.9,88.2 146.8,87.3 141.7,90" fill="#fdbf2f"/>
<polygon points="157.1,89 162.2,86.5 157,85.6 151.9,88.2" fill="#feac2e"/>
<polygon points="167.5,87.4 172.5,85 167.2,84 162.2,86.5" fill="#ff9c2d"/>
<polygon points="177.9,85.9 182.8,83.6 177.4,82.6 172.5,85" fill="#ff892d"/>
<polygon points="188.3,84.6 193.1,82.3 187.6,81.3 182.8,83.6" fill="#fe772d"/>
<polygon points="89.6,104.8 95.2,101.7 90.6,101.2 85,104.3" fill="#b6f532"/>
<polygon points="198.7,83.4 203.4,81.2 197.8,80.1 193.1,82.3" fill="#fd662e"/>
<polygon points="100,102.3 105.5,99.2 100.8,98.7 95.2,101.7" fill="#cff532"/>
<polygon points="209.1,82.4 213.7,80.3 208,79.1 203.4,81.2" fill="#fd572e"/>
<polygon points="110.4,99.8 115.8,96.9 111,96.3 105.5,99.2" fill="#e7f532"/>
<polygon points="120.8,97.6 126.1,94.7 121.2,94 115.8,96.9" fill="#faf232"/>
<polygon points="131.2,95.4 136.5,92.7 131.4,91.9 126.1,94.7" fill="#fbdd31"/>
<polygon points="141.6,93.4 146.8,90.8 141.7,90 136.5,92.7" fill="#fcc830"/>
<polygon points="152,91.6 157.1,89 151.9,88.2 146.8,90.8" fill="#fdb52f"/>
<polygon points="162.5,89.9 167.5,87.4 162.2,86.5 157.1,89" fill="#fea42e"/>
<polygon points="172.9,88.3 177.9,85.9 172.5,85 167.5,87.4" fill="#ff932d"/>
<polygon points="183.4,86.9 188.3,84.6 182.8,83.6 177.9,85.9" fill="#fe7f2d"/>
<polygon points="193.9,85.7 198.7,83.4 193.1,82.3 188.3,84.6" fill="#fe6e2d"/>
<polygon points="94.4,105.3 100,102.3 95.2,101.7 89.6,104.8" fill="#c3f532"/>
<polygon points="204.4,84.6 209.1,82.4 203.4,81.2 198.7,83.4" fill="#fd5e2e"/>
<polygon points="104.8,102.8 110.4,99.8 105.5,99.2 100,102.3" fill="#dbf532"/>
<polygon points="115.3,100.4 120.8,97.6 115.8,96.9 110.4,99.8" fill="#f2f532"/>
<polygon points="125.8,98.2 131.2,95.4 126.1,94.7 120.8,97.6" fill="#fbe731"/>
<polygon points="136.3,96.1 141.6,93.4 136.5,92.7 131.2,95.4" fill="#fcd230"/>
<polygon points="146.8,94.2 152,91.6 146.8,90.8 141.6,93.4" fill="#fdbe2f"/>
<polygon points="157.3,92.4 162.5,89.9 157.1,89 152,91.6" fill="#feac2e"/>
<polygon points="167.9,90.8 172.9,88.3 167.5,87.4 162.5,89.9" fill="#ff9b2d"/>
<polygon points="178.4,89.3 183.4,86.9 177.9,85.9 172.9,88.3" fill="#ff882d"/>
<polygon points="189,88 193.9,85.7 188.3,84.6 183.4,86.9" fill="#fe762d"/>
<polygon points="199.6,86.8 204.4,84.6 198.7,83.4 193.9,85.7" fill="#fd652e"/>
<polygon points="99.2,105.8 104.8,102.8 100,102.3 94.4,105.3" fill="#d0f532"/>
<polygon points="109.7,103.4 115.3,100.4 110.4,99.8 104.8,102.8" fill="#e7f532"/>
<polygon points="120.3,101.1 125.8,98.2 120.8,97.6 115.3,100.4" fill="#faf132"/>
<polygon points="130.9,98.9 136.3,96.1 131.2,95.4 125.8,98.2" fill="#fbdc31"/>
<polygon points="141.5,96.9 146.8,94.2 141.6,93.4 136.3,96.1" fill="#fcc730"/>
<polygon points="152.1,95 157.3,92.4 152,91.6 146.8,94.2" fill="#fdb42f"/>
<polygon points="162.7,93.3 167.9,90.8 162.5,89.9 157.3,92.4" fill="#fea32e"/>
<polygon points="173.4,91.7 178.4,89.3 172.9,88.3 167.9,90.8" fill="#ff912d"/>
<polygon points="184,90.3 189,88 183.4,86.9 178.4,89.3" fill="#fe7e2d"/>
<polygon points="194.7,89 199.6,86.8 193.9,85.7 189,88" fill="#fe6c2d"/>
<polygon points="104.1,106.4 109.7,103.4 104.8,102.8 99.2,105.8" fill="#dcf532"/>
<polygon points="114.7,104 120.3,101.1 115.3,100.4 109.7,103.4" fill="#f4f532"/>
<polygon points="125.4,101.7 130.9,98.9 125.8,98.2 120.3,101.1" fill="#fbe531"/>
<polygon points="136.1,99.6 141.5,96.9 136.3,96.1 130.9,98.9" fill="#fcd030"/>
<polygon points="146.8,97.6 152.1,95 146.8,94.2 141.5,96.9" fill="#fdbc2f"/>
<polygon points="157.5,95.8 162.7,93.3 157.3,92.4 152.1,95" fill="#feaa2e"/>
<polygon points="168.2,94.1 173.4,91.7 167.9,90.8 162.7,93.3" fill="#ff992d"/>
<polygon points="179,92.6 184,90.3 178.4,89.3 173.4,91.7" fill="#fe862d"/>
<polygon points="189.7,91.3 194.7,89 189,88 184,90.3" fill="#fe732d"/>
<polygon points="109.1,106.9 114.7,104 109.7,103.4 104.1,106.4" fill="#e9f532"/>
<polygon points="119.8,104.5 125.4,101.7 120.3,101.1 114.7,104" fill="#faef32"/>
<polygon points="130.6,102.3 136.1,99.6 130.9,98.9 125.4,101.7" fill="#fbd931"/>
<polygon points="141.4,100.3 146.8,97.6 141.5,96.9 136.1,99.6" fill="#fdc52f"/>
<polygon points="152.2,98.4 157.5,95.8 152.1,95 146.8,97.6" fill="#feb22e"/>
<polygon points="163,96.6 168.2,94.1 162.7,93.3 157.5,95.8" fill="#fea02e"/>
<polygon points="173.8,95 179,92.6 173.4,91.7 168.2,94.1" fill="#ff8e2d"/>
<polygon points="184.7,93.6 189.7,91.3 184,90.3 179,92.6" fill="#fe7a2d"/>
<polygon points="114.2,107.4 119.8,104.5 114.7,104 109.1,106.9" fill="#f6f532"/>
<polygon points="125,105.1 130.6,102.3 125.4,101.7 119.8,104.5" fill="#fbe231"/>
<polygon points="135.9,103 141.4,100.3 136.1,99.6 130.6,102.3" fill="#fccd30"/>
<polygon points="146.8,101 152.2,98.4 146.8,97.6 141.4,100.3" fill="#fdb92f"/>
<polygon points="157.7,99.1 163,96.6 157.5,95.8 152.2,98.4" fill="#fea72e"/>
<polygon points="168.6,97.5 173.8,95 168.2,94.1 163,96.6" fill="#ff962d"/>
<polygon points="179.6,95.9 184.7,93.6 179,92.6 173.8,95" fill="#fe812d"/>
<polygon points="119.4,108 125,105.1 119.8,104.5 114.2,107.4" fill="#fbeb31"/>
<polygon points="130.3,105.7 135.9,103 130.6,102.3 125,105.1" fill="#fcd530"/>
<polygon points="141.3,103.6 146.8,101 141.4,100.3 135.9,103" fill="#fdc12f"/>
<polygon points="152.3,101.7 157.7,99.1 152.2,98.4 146.8,101" fill="#feae2e"/>
<polygon points="163.3,99.9 168.6,97.5 163,96.6 157.7,99.1" fill="#ff9c2d"/>
<polygon points="174.3,98.3 179.6,95.9 173.8,95 168.6,97.5" fill="#ff882d"/>
<polygon points="124.6,108.5 130.3,105.7 125,105.1 119.4,108" fill="#fbde31"/>
<polygon points="135.7,106.4 141.3,103.6 135.9,103 130.3,105.7" fill="#fcc930"/>
<polygon points="146.8,104.3 152.3,101.7 146.8,101 141.3,103.6" fill="#fdb52f"/>
<polygon points="157.9,102.4 163.3,99.9 157.7,99.1 152.3,101.7" fill="#fea22e"/>
<polygon points="169,100.7 174.3,98.3 168.6,97.5 163.3,99.9" fill="#ff8f2d"/>
<polygon points="130,109.1 135.7,106.4 130.3,105.7 124.6,108.5" fill="#fcd030"/>
<polygon points="141.2,107 146.8,104.3 141.3,103.6 135.7,106.4" fill="#fdbc2f"/>
<polygon points="152.4,105 157.9,102.4 152.3,101.7 146.8,104.3" fill="#fea82e"/>
<polygon points="163.6,103.2 169,100.7 163.3,99.9 157.9,102.4" fill="#ff962d"/>
<polygon points="135.5,109.7 141.2,107 135.7,106.4 130,109.1" fill="#fdc32f"/>
<polygon points="146.8,107.6 152.4,105 146.8,104.3 141.2,107" fill="#feaf2e"/>
<polygon points="158.1,105.7 163.6,103.2 157.9,102.4 152.4,105" fill="#ff9c2d"/>
<polygon points="141.1,110.3 146.8,107.6 141.2,107 135.5,109.7" fill="#fdb52f"/>
<polygon points="152.5,108.3 158.1,105.7 152.4,105 146.8,107.6" fill="#fea22e"/>
<polygon points="146.8,110.9 152.5,108.3 146.8,107.6 141.1,110.3" fill="#fea72e"/>
</g>
<line x1="96.7" y1="54.2" x2="96.7" y2="66" stroke="#444" stroke-width="0.6"/>
<circle cx="96.7" cy="54.2" r="2.1" fill="#b80d14" stroke="#700000" stroke-width="0.6"/>
<circle cx="90.4" cy="95.7" r="2.1" fill="#b80d14" stroke="#700000" stroke-width="0.6"/>
<circle cx="146.5" cy="66.7" r="2.1" fill="#b80d14" stroke="#700000" stroke-width="0.6"/>
<circle cx="203" cy="84" r="2.1" fill="#b80d14" stroke="#700000" stroke-width="0.6"/>
<g font-family="'Liberation Sans',sans-serif" font-size="4.6" fill="#4d4d4d">
<circle cx="44.7" cy="146.5" r="1" fill="#111"/>
<text x="41.7" y="145.3" text-anchor="end">90</text>
<circle cx="43.9" cy="127.7" r="1" fill="#111"/>
<text x="40.9" y="126.5" text-anchor="end">92</text>
<circle cx="43" cy="109" r="1" fill="#111"/>
<text x="40" y="107.8" text-anchor="end">94</text>
<circle cx="42.1" cy="90.2" r="1" fill="#111"/>
<text x="39.1" y="89" text-anchor="end">96</text>
<circle cx="41.2" cy="71.5" r="1" fill="#111"/>
<text x="38.2" y="70.3" text-anchor="end">98</text>
<circle cx="40.4" cy="52.8" r="1" fill="#111"/>
<text x="37.4" y="51.6" text-anchor="end">100</text>
<circle cx="39.5" cy="34" r="1" fill="#111"/>
<text x="36.5" y="32.8" text-anchor="end">102</text>
<circle cx="46.3" cy="181.2" r="1" fill="#111"/>
<text x="42.3" y="185.2" text-anchor="middle">1</text>
<circle cx="246.9" cy="180.8" r="1" fill="#111"/>
<text x="250.9" y="185.4" text-anchor="middle">1</text>
<circle cx="71.5" cy="193.9" r="1" fill="#111"/>
<text x="65" y="198.9" text-anchor="middle">0.5</text>
<circle cx="221.9" cy="193.6" r="1" fill="#111"/>
<text x="228.4" y="198.6" text-anchor="middle">0.5</text>
<circle cx="96.6" cy="206.6" r="1" fill="#111"/>
<text x="92.1" y="211.6" text-anchor="middle">0</text>
<circle cx="196.9" cy="206.4" r="1" fill="#111"/>
<text x="200.3" y="211.4" text-anchor="middle">0</text>
<circle cx="121.7" cy="219.3" r="1" fill="#111"/>
<text x="115.2" y="224.3" text-anchor="middle">-0.5</text>
<circle cx="171.8" cy="219.2" r="1" fill="#111"/>
<text x="178.3" y="224.2" text-anchor="middle">-0.5</text>
<circle cx="146.8" cy="232" r="1" fill="#111"/>
<text x="142.3" y="237.4" text-anchor="middle">-1</text>
<text x="151.3" y="237.4" text-anchor="middle">-1</text>
<text x="57.6" y="225.8" text-anchor="middle">B: Speed (mm/s)</text>
<text x="234.9" y="225.8" text-anchor="middle">A: Power (W)</text>
<text transform="translate(7,109.7) rotate(-90)" text-anchor="middle" font-size="4.75">Density (%)</text>
</g>
<text x="130" y="266" text-anchor="middle" font-family="'Liberation Serif',serif" font-size="13.8" fill="#111">(<tspan font-weight="bold">a</tspan>)</text>
<polygon points="334.7,183.9 436.8,237.5 538.6,183.7 436.8,141.9" fill="#5b5b5b"/>
<polyline points="349.2,191.5 349.1,190.1 349.1,188.7 349.1,187.5 349,186.4 349,185.3 349,184.3 349.1,183.2 349.1,182 349.1,180.8 349.2,179.5 349.3,178.3" fill="none" stroke="#29d86b" stroke-width="1.1"/>
<polyline points="368.9,201.8 368.5,200.6 368.1,199.6 367.8,198.5 367.3,196.8 367,195.4 366.7,194.4 366.5,193.4 366.2,192.2 365.9,190.7 365.7,189.2 365.5,188.2 365.3,187.1 365.2,186.1 365,185 364.9,183.6 364.8,182.3 364.7,180.9 364.6,179.9 364.5,178.8 364.5,177.8 364.5,176.8 364.4,175.7 364.4,174.6 364.4,173.3 364.5,172.1" fill="none" stroke="#2ad84d" stroke-width="1.1"/>
<polyline points="443.4,234 440.6,233.5 437.3,232.7 435.2,232.1 431.7,231.1 428.3,229.9 426.7,229.3 423.6,228 420.6,226.6 417.8,225.2 415.2,223.7 412.7,222.1 411.3,221.2 409.2,219.7 407.1,218.1 405.3,216.6 404.1,215.5 402.2,213.8 401.3,212.9 399.6,211.1 398.7,210.2 397.2,208.4 396.4,207.5 395,205.6 394.3,204.7 393.4,203.4 392.3,201.9 391.7,200.9 390.8,199.4 390.1,198.1 389.5,197.1 388.8,195.7 388.1,194.2 387.6,193.2 387.1,192.2 386.4,190.5 386,189.4 385.6,188.4 385.3,187.4 384.7,185.8 384.3,184.5 384,183.5 383.8,182.5 383.5,181.5 383.2,180.1 382.9,178.7 382.6,177.6 382.5,176.6 382.3,175.6 382.1,174.6 382,173.4 381.8,172.1 381.7,170.9 381.6,169.7 381.5,168.6 381.5,167.6 381.4,166.7 381.4,165.7 381.4,164.7" fill="none" stroke="#3bd83a" stroke-width="1.1"/>
<polyline points="490.7,209 487.7,209.8 485.7,210.2 482,210.9 479.9,211.3 477.6,211.6 474.2,212 471,212.2 468.4,212.3 465.8,212.3 462.9,212.3 460.2,212.2 457.8,212 455.6,211.7 452.6,211.3 449.4,210.7 447.5,210.3 443.9,209.4 442.1,208.8 439,207.8 436,206.6 433.2,205.3 430.5,204 428.1,202.6 425.7,201.2 423.8,199.9 422.5,198.9 420.5,197.4 419.4,196.4 417.8,195 416.4,193.7 415.2,192.5 414.2,191.4 413,190 412.3,189.2 410.9,187.4 410.3,186.6 409.5,185.4 408.5,183.9 407.9,183 407.3,181.9 406.4,180.3 405.9,179.4 405.5,178.5 404.9,177.2 404.2,175.8 403.9,174.9 403.5,173.9 403.1,172.8 402.7,171.5 402.3,170.2 402,169.3 401.7,168.4 401.5,167.4 401.2,166.3 401,165 400.7,163.8 400.6,162.7 400.4,161.8 400.3,160.8 400.2,159.9 400.1,158.9 400,158" fill="none" stroke="#5cda34" stroke-width="1.1"/>
<polyline points="536.6,182.9 535.5,184 534.3,185.1 532.7,186.6" fill="none" stroke="#5cda34" stroke-width="1.1"/>
<polyline points="515.2,174.1 513.3,175.4 511.3,176.6 509.2,177.8 507,179 504.8,180.2 502.4,181.3 499.8,182.4 497.2,183.4 494.4,184.4 492.9,184.9 489.8,185.8 487.6,186.3 484.7,186.9 482.9,187.2 479.7,187.7 476.8,188 474.6,188.1 472.2,188.2 469.6,188.2 466.7,188.1 464,187.8 461.9,187.6 459.6,187.2 456.4,186.5 454.4,186 451.6,185.2 448.8,184.1 446.1,183 443.7,181.7 441.4,180.5 439.4,179.2 438.3,178.4 436.4,177 435.5,176.3 433.9,174.8 433.1,174 431.6,172.5 430.9,171.7 429.7,170.3 428.9,169.3 428.3,168.5 427.3,167 426.7,166 426.2,165.2 425.5,164.1 424.8,162.7 424.4,161.8 424,160.9 423.6,160.1 423.1,158.8 422.7,157.6 422.4,156.6 422.1,155.7 421.8,154.8 421.6,153.9 421.4,152.9 421.2,151.8 421,150.7 420.8,149.6 420.7,148.6" fill="none" stroke="#7cdb2e" stroke-width="1.1"/>
<path d="M333.2,147.5 L436.8,109 L540.2,147.4 M332,118.1 L436.8,82.7 L541.5,118.1 M330.7,88.7 L436.9,56.4 L542.8,88.8 M329.5,59.4 L436.9,30 L544.1,59.5 M328.2,30 L436.9,3.7 L545.4,30.2 M359.1,137.9 L355.4,23.4 M462.7,118.6 L464.1,10.3 M385,128.2 L382.6,16.9 M488.5,128.2 L491.2,17 M410.9,118.6 L409.8,10.3 M514.3,137.8 L518.3,23.6 M334.7,183.9 L328.2,30 M436.8,141.9 L436.9,3.7 M538.6,183.7 L545.4,30.2" fill="none" stroke="#585858" stroke-width="0.75"/>
<line x1="493.3" y1="106.6" x2="493.3" y2="95" stroke="#555" stroke-width="0.6"/>
<circle cx="493.3" cy="106.6" r="2.1" fill="#fbd5dc" stroke="#c0606e" stroke-width="0.6"/>
<g stroke="#000" stroke-opacity="0.42" stroke-width="0.42" stroke-linejoin="round">
<polygon points="436.9,33.4 441.1,31.3 436.9,30.7 432.8,32.9" fill="#b9f537"/>
<polygon points="432.7,35.7 436.9,33.4 432.8,32.9 428.6,35.2" fill="#aef536"/>
<polygon points="441.1,34 445.3,31.9 441.1,31.3 436.9,33.4" fill="#bff537"/>
<polygon points="428.5,37.9 432.7,35.7 428.6,35.2 424.3,37.5" fill="#a4f536"/>
<polygon points="436.9,36.2 441.1,34 436.9,33.4 432.7,35.7" fill="#b5f537"/>
<polygon points="445.4,34.8 449.5,32.7 445.3,31.9 441.1,34" fill="#c3f538"/>
<polygon points="424.1,40.3 428.5,37.9 424.3,37.5 420,39.9" fill="#99f536"/>
<polygon points="432.7,38.5 436.9,36.2 432.7,35.7 428.5,37.9" fill="#aaf537"/>
<polygon points="441.2,36.9 445.4,34.8 441.1,34 436.9,36.2" fill="#baf537"/>
<polygon points="449.7,35.6 453.8,33.5 449.5,32.7 445.4,34.8" fill="#c4f538"/>
<polygon points="419.8,42.7 424.1,40.3 420,39.9 415.6,42.3" fill="#8df438"/>
<polygon points="428.3,40.8 432.7,38.5 428.5,37.9 424.1,40.3" fill="#a0f537"/>
<polygon points="436.9,39.1 441.2,36.9 436.9,36.2 432.7,38.5" fill="#b0f537"/>
<polygon points="445.5,37.7 449.7,35.6 445.4,34.8 441.2,36.9" fill="#bef538"/>
<polygon points="454.1,36.6 458.2,34.5 453.8,33.5 449.7,35.6" fill="#c4f539"/>
<polygon points="415.3,45.2 419.8,42.7 415.6,42.3 411.2,44.9" fill="#82f439"/>
<polygon points="424,43.2 428.3,40.8 424.1,40.3 419.8,42.7" fill="#95f537"/>
<polygon points="432.6,41.4 436.9,39.1 432.7,38.5 428.3,40.8" fill="#a6f537"/>
<polygon points="441.2,39.9 445.5,37.7 441.2,36.9 436.9,39.1" fill="#b5f538"/>
<polygon points="449.9,38.6 454.1,36.6 449.7,35.6 445.5,37.7" fill="#c2f539"/>
<polygon points="458.5,37.6 462.7,35.6 458.2,34.5 454.1,36.6" fill="#c4f539"/>
<polygon points="410.8,47.8 415.3,45.2 411.2,44.9 406.7,47.5" fill="#78f33b"/>
<polygon points="419.5,45.6 424,43.2 419.8,42.7 415.3,45.2" fill="#89f439"/>
<polygon points="428.2,43.8 432.6,41.4 428.3,40.8 424,43.2" fill="#9cf537"/>
<polygon points="436.9,42.2 441.2,39.9 436.9,39.1 432.6,41.4" fill="#abf538"/>
<polygon points="445.6,40.8 449.9,38.6 445.5,37.7 441.2,39.9" fill="#b9f538"/>
<polygon points="454.3,39.7 458.5,37.6 454.1,36.6 449.9,38.6" fill="#c4f539"/>
<polygon points="463.1,38.8 467.2,36.9 462.7,35.6 458.5,37.6" fill="#c4f53a"/>
<polygon points="406.3,50.4 410.8,47.8 406.7,47.5 402.2,50.1" fill="#6ff33c"/>
<polygon points="415,48.2 419.5,45.6 415.3,45.2 410.8,47.8" fill="#7ff43a"/>
<polygon points="423.8,46.2 428.2,43.8 424,43.2 419.5,45.6" fill="#92f538"/>
<polygon points="432.5,44.5 436.9,42.2 432.6,41.4 428.2,43.8" fill="#a2f537"/>
<polygon points="441.3,43 445.6,40.8 441.2,39.9 436.9,42.2" fill="#b0f538"/>
<polygon points="450.1,41.8 454.3,39.7 449.9,38.6 445.6,40.8" fill="#bcf539"/>
<polygon points="458.9,40.9 463.1,38.8 458.5,37.6 454.3,39.7" fill="#c4f53a"/>
<polygon points="467.7,40.2 471.8,38.3 467.2,36.9 463.1,38.8" fill="#c5f53b"/>
<polygon points="401.6,53.1 406.3,50.4 402.2,50.1 397.5,52.8" fill="#65f23e"/>
<polygon points="410.4,50.7 415,48.2 410.8,47.8 406.3,50.4" fill="#77f33c"/>
<polygon points="419.3,48.7 423.8,46.2 419.5,45.6 415,48.2" fill="#86f439"/>
<polygon points="428.1,46.9 432.5,44.5 428.2,43.8 423.8,46.2" fill="#98f537"/>
<polygon points="436.9,45.3 441.3,43 436.9,42.2 432.5,44.5" fill="#a7f538"/>
<polygon points="445.8,44 450.1,41.8 445.6,40.8 441.3,43" fill="#b4f539"/>
<polygon points="454.6,42.9 458.9,40.9 454.3,39.7 450.1,41.8" fill="#bef53a"/>
<polygon points="463.5,42.2 467.7,40.2 463.1,38.8 458.9,40.9" fill="#c5f53a"/>
<polygon points="472.3,41.6 476.5,39.8 471.8,38.3 467.7,40.2" fill="#c5f53b"/>
<polygon points="396.9,55.8 401.6,53.1 397.5,52.8 392.9,55.6" fill="#5af240"/>
<polygon points="405.8,53.4 410.4,50.7 406.3,50.4 401.6,53.1" fill="#6df33d"/>
<polygon points="414.7,51.2 419.3,48.7 415,48.2 410.4,50.7" fill="#7df43b"/>
<polygon points="423.6,49.3 428.1,46.9 423.8,46.2 419.3,48.7" fill="#8df439"/>
<polygon points="432.5,47.6 436.9,45.3 432.5,44.5 428.1,46.9" fill="#9df538"/>
<polygon points="441.4,46.2 445.8,44 441.3,43 436.9,45.3" fill="#abf539"/>
<polygon points="450.3,45.1 454.6,42.9 450.1,41.8 445.8,44" fill="#b6f539"/>
<polygon points="459.2,44.2 463.5,42.2 458.9,40.9 454.6,42.9" fill="#bff53a"/>
<polygon points="468.1,43.6 472.3,41.6 467.7,40.2 463.5,42.2" fill="#c5f53b"/>
<polygon points="477,43.3 481.2,41.4 476.5,39.8 472.3,41.6" fill="#c5f53c"/>
<polygon points="392.2,58.7 396.9,55.8 392.9,55.6 388.1,58.5" fill="#50f141"/>
<polygon points="401.1,56.1 405.8,53.4 401.6,53.1 396.9,55.8" fill="#63f23e"/>
<polygon points="410,53.8 414.7,51.2 410.4,50.7 405.8,53.4" fill="#74f33d"/>
<polygon points="419,51.8 423.6,49.3 419.3,48.7 414.7,51.2" fill="#82f43b"/>
<polygon points="427.9,50.1 432.5,47.6 428.1,46.9 423.6,49.3" fill="#93f539"/>
<polygon points="436.9,48.5 441.4,46.2 436.9,45.3 432.5,47.6" fill="#a1f538"/>
<polygon points="445.9,47.3 450.3,45.1 445.8,44 441.4,46.2" fill="#adf539"/>
<polygon points="454.9,46.3 459.2,44.2 454.6,42.9 450.3,45.1" fill="#b7f53a"/>
<polygon points="463.9,45.6 468.1,43.6 463.5,42.2 459.2,44.2" fill="#bff53b"/>
<polygon points="472.8,45.2 477,43.3 472.3,41.6 468.1,43.6" fill="#c4f53c"/>
<polygon points="481.8,45 486,43.2 481.2,41.4 477,43.3" fill="#c5f63c"/>
<polygon points="387.4,61.6 392.2,58.7 388.1,58.5 383.3,61.5" fill="#45f143"/>
<polygon points="396.3,58.9 401.1,56.1 396.9,55.8 392.2,58.7" fill="#59f240"/>
<polygon points="405.3,56.5 410,53.8 405.8,53.4 401.1,56.1" fill="#6af33e"/>
<polygon points="414.3,54.4 419,51.8 414.7,51.2 410,53.8" fill="#7af33d"/>
<polygon points="423.4,52.5 427.9,50.1 423.6,49.3 419,51.8" fill="#88f43a"/>
<polygon points="432.4,50.9 436.9,48.5 432.5,47.6 427.9,50.1" fill="#98f538"/>
<polygon points="441.4,49.6 445.9,47.3 441.4,46.2 436.9,48.5" fill="#a5f539"/>
<polygon points="450.5,48.5 454.9,46.3 450.3,45.1 445.9,47.3" fill="#aff53a"/>
<polygon points="459.5,47.7 463.9,45.6 459.2,44.2 454.9,46.3" fill="#b7f53b"/>
<polygon points="468.6,47.2 472.8,45.2 468.1,43.6 463.9,45.6" fill="#bdf53b"/>
<polygon points="477.6,46.9 481.8,45 477,43.3 472.8,45.2" fill="#c1f63c"/>
<polygon points="486.7,46.9 490.8,45.1 486,43.2 481.8,45" fill="#c2f63d"/>
<polygon points="382.5,64.6 387.4,61.6 383.3,61.5 378.4,64.5" fill="#3af045"/>
<polygon points="391.5,61.8 396.3,58.9 392.2,58.7 387.4,61.6" fill="#4ff142"/>
<polygon points="400.6,59.3 405.3,56.5 401.1,56.1 396.3,58.9" fill="#60f240"/>
<polygon points="409.6,57.1 414.3,54.4 410,53.8 405.3,56.5" fill="#70f33d"/>
<polygon points="418.7,55.1 423.4,52.5 419,51.8 414.3,54.4" fill="#7ff43c"/>
<polygon points="427.8,53.4 432.4,50.9 427.9,50.1 423.4,52.5" fill="#8df43a"/>
<polygon points="436.9,51.9 441.4,49.6 436.9,48.5 432.4,50.9" fill="#9bf539"/>
<polygon points="446,50.7 450.5,48.5 445.9,47.3 441.4,49.6" fill="#a7f53a"/>
<polygon points="455.1,49.8 459.5,47.7 454.9,46.3 450.5,48.5" fill="#b0f53a"/>
<polygon points="464.3,49.2 468.6,47.2 463.9,45.6 459.5,47.7" fill="#b6f53b"/>
<polygon points="473.4,48.8 477.6,46.9 472.8,45.2 468.6,47.2" fill="#bbf53c"/>
<polygon points="377.5,67.7 382.5,64.6 378.4,64.5 373.4,67.6" fill="#32f047"/>
<polygon points="482.5,48.7 486.7,46.9 481.8,45 477.6,46.9" fill="#bef63d"/>
<polygon points="491.6,48.9 495.8,47.2 490.8,45.1 486.7,46.9" fill="#bdf63e"/>
<polygon points="386.6,64.8 391.5,61.8 387.4,61.6 382.5,64.6" fill="#43f143"/>
<polygon points="395.7,62.2 400.6,59.3 396.3,58.9 391.5,61.8" fill="#56f241"/>
<polygon points="404.9,59.8 409.6,57.1 405.3,56.5 400.6,59.3" fill="#67f33f"/>
<polygon points="414,57.7 418.7,55.1 414.3,54.4 409.6,57.1" fill="#76f33d"/>
<polygon points="423.2,55.9 427.8,53.4 423.4,52.5 418.7,55.1" fill="#84f43c"/>
<polygon points="432.3,54.3 436.9,51.9 432.4,50.9 427.8,53.4" fill="#93f53a"/>
<polygon points="441.5,53.1 446,50.7 441.4,49.6 436.9,51.9" fill="#9ff539"/>
<polygon points="450.7,52 455.1,49.8 450.5,48.5 446,50.7" fill="#a9f53a"/>
<polygon points="459.9,51.3 464.3,49.2 459.5,47.7 455.1,49.8" fill="#b0f53b"/>
<polygon points="469.1,50.8 473.4,48.8 468.6,47.2 464.3,49.2" fill="#b5f53c"/>
<polygon points="372.4,70.8 377.5,67.7 373.4,67.6 368.4,70.8" fill="#32f04b"/>
<polygon points="478.3,50.6 482.5,48.7 477.6,46.9 473.4,48.8" fill="#b8f63d"/>
<polygon points="487.5,50.7 491.6,48.9 486.7,46.9 482.5,48.7" fill="#b8f63e"/>
<polygon points="496.7,51.1 500.8,49.4 495.8,47.2 491.6,48.9" fill="#b7f63e"/>
<polygon points="381.6,67.8 386.6,64.8 382.5,64.6 377.5,67.7" fill="#38f045"/>
<polygon points="390.8,65.1 395.7,62.2 391.5,61.8 386.6,64.8" fill="#4cf143"/>
<polygon points="400,62.6 404.9,59.8 400.6,59.3 395.7,62.2" fill="#5df241"/>
<polygon points="409.2,60.4 414,57.7 409.6,57.1 404.9,59.8" fill="#6ef33f"/>
<polygon points="418.4,58.5 423.2,55.9 418.7,55.1 414,57.7" fill="#7cf43d"/>
<polygon points="427.7,56.8 432.3,54.3 427.8,53.4 423.2,55.9" fill="#88f43b"/>
<polygon points="436.9,55.4 441.5,53.1 436.9,51.9 432.3,54.3" fill="#96f53a"/>
<polygon points="446.2,54.3 450.7,52 446,50.7 441.5,53.1" fill="#a1f53a"/>
<polygon points="455.4,53.5 459.9,51.3 455.1,49.8 450.7,52" fill="#a9f53b"/>
<polygon points="367.3,74.1 372.4,70.8 368.4,70.8 363.3,74.1" fill="#31f050"/>
<polygon points="464.7,52.9 469.1,50.8 464.3,49.2 459.9,51.3" fill="#aff53c"/>
<polygon points="473.9,52.6 478.3,50.6 473.4,48.8 469.1,50.8" fill="#b2f63d"/>
<polygon points="483.2,52.6 487.5,50.7 482.5,48.7 478.3,50.6" fill="#b3f63d"/>
<polygon points="492.5,52.9 496.7,51.1 491.6,48.9 487.5,50.7" fill="#b3f63e"/>
<polygon points="501.7,53.4 505.8,51.7 500.8,49.4 496.7,51.1" fill="#aff63f"/>
<polygon points="376.6,71 381.6,67.8 377.5,67.7 372.4,70.8" fill="#32f048"/>
<polygon points="385.8,68.1 390.8,65.1 386.6,64.8 381.6,67.8" fill="#41f144"/>
<polygon points="395.1,65.5 400,62.6 395.7,62.2 390.8,65.1" fill="#54f242"/>
<polygon points="404.4,63.2 409.2,60.4 404.9,59.8 400,62.6" fill="#65f23f"/>
<polygon points="413.6,61.2 418.4,58.5 414,57.7 409.2,60.4" fill="#73f33e"/>
<polygon points="422.9,59.4 427.7,56.8 423.2,55.9 418.4,58.5" fill="#80f43d"/>
<polygon points="432.3,57.9 436.9,55.4 432.3,54.3 427.7,56.8" fill="#8cf43b"/>
<polygon points="441.6,56.7 446.2,54.3 441.5,53.1 436.9,55.4" fill="#98f53a"/>
<polygon points="450.9,55.7 455.4,53.5 450.7,52 446.2,54.3" fill="#a1f53b"/>
<polygon points="362.1,77.4 367.3,74.1 363.3,74.1 358.1,77.5" fill="#30f056"/>
<polygon points="460.2,55 464.7,52.9 459.9,51.3 455.4,53.5" fill="#a8f53b"/>
<polygon points="469.6,54.7 473.9,52.6 469.1,50.8 464.7,52.9" fill="#acf63c"/>
<polygon points="478.9,54.6 483.2,52.6 478.3,50.6 473.9,52.6" fill="#aff63d"/>
<polygon points="488.2,54.7 492.5,52.9 487.5,50.7 483.2,52.6" fill="#aff63e"/>
<polygon points="371.4,74.2 376.6,71 372.4,70.8 367.3,74.1" fill="#32f04d"/>
<polygon points="506.9,55.9 511,54.3 505.8,51.7 501.7,53.4" fill="#a7f640"/>
<polygon points="497.6,55.2 501.7,53.4 496.7,51.1 492.5,52.9" fill="#acf63f"/>
<polygon points="380.7,71.2 385.8,68.1 381.6,67.8 376.6,71" fill="#36f046"/>
<polygon points="390.1,68.5 395.1,65.5 390.8,65.1 385.8,68.1" fill="#49f143"/>
<polygon points="399.4,66.1 404.4,63.2 400,62.6 395.1,65.5" fill="#5bf241"/>
<polygon points="408.8,63.9 413.6,61.2 409.2,60.4 404.4,63.2" fill="#6af33f"/>
<polygon points="418.2,62 422.9,59.4 418.4,58.5 413.6,61.2" fill="#78f33e"/>
<polygon points="427.5,60.4 432.3,57.9 427.7,56.8 422.9,59.4" fill="#83f43d"/>
<polygon points="436.9,59.1 441.6,56.7 436.9,55.4 432.3,57.9" fill="#8ff43c"/>
<polygon points="356.9,80.8 362.1,77.4 358.1,77.5 352.8,80.9" fill="#30f05b"/>
<polygon points="446.3,58 450.9,55.7 446.2,54.3 441.6,56.7" fill="#99f53a"/>
<polygon points="455.7,57.3 460.2,55 455.4,53.5 450.9,55.7" fill="#a1f53b"/>
<polygon points="465.1,56.8 469.6,54.7 464.7,52.9 460.2,55" fill="#a7f53c"/>
<polygon points="474.5,56.6 478.9,54.6 473.9,52.6 469.6,54.7" fill="#aaf63d"/>
<polygon points="366.2,77.5 371.4,74.2 367.3,74.1 362.1,77.4" fill="#32f052"/>
<polygon points="483.9,56.6 488.2,54.7 483.2,52.6 478.9,54.6" fill="#aaf63e"/>
<polygon points="512.1,58.6 516.2,57 511,54.3 506.9,55.9" fill="#9ef640"/>
<polygon points="493.3,57 497.6,55.2 492.5,52.9 488.2,54.7" fill="#a9f63f"/>
<polygon points="502.7,57.7 506.9,55.9 501.7,53.4 497.6,55.2" fill="#a4f63f"/>
<polygon points="375.6,74.4 380.7,71.2 376.6,71 371.4,74.2" fill="#33f049"/>
<polygon points="385,71.5 390.1,68.5 385.8,68.1 380.7,71.2" fill="#3ff145"/>
<polygon points="394.4,69 399.4,66.1 395.1,65.5 390.1,68.5" fill="#51f143"/>
<polygon points="403.8,66.7 408.8,63.9 404.4,63.2 399.4,66.1" fill="#61f241"/>
<polygon points="413.3,64.7 418.2,62 413.6,61.2 408.8,63.9" fill="#6ff340"/>
<polygon points="422.7,63 427.5,60.4 422.9,59.4 418.2,62" fill="#7bf33e"/>
<polygon points="432.2,61.6 436.9,59.1 432.3,57.9 427.5,60.4" fill="#86f43d"/>
<polygon points="351.5,84.3 356.9,80.8 352.8,80.9 347.5,84.4" fill="#30f060"/>
<polygon points="441.6,60.4 446.3,58 441.6,56.7 436.9,59.1" fill="#91f53c"/>
<polygon points="451.1,59.5 455.7,57.3 450.9,55.7 446.3,58" fill="#9af53b"/>
<polygon points="460.6,58.9 465.1,56.8 460.2,55 455.7,57.3" fill="#a0f53c"/>
<polygon points="360.9,80.8 366.2,77.5 362.1,77.4 356.9,80.8" fill="#31f056"/>
<polygon points="470.1,58.6 474.5,56.6 469.6,54.7 465.1,56.8" fill="#a4f63d"/>
<polygon points="517.4,61.4 521.5,59.8 516.2,57 512.1,58.6" fill="#93f543"/>
<polygon points="479.5,58.6 483.9,56.6 478.9,54.6 474.5,56.6" fill="#a5f63e"/>
<polygon points="508,60.3 512.1,58.6 506.9,55.9 502.7,57.7" fill="#9bf640"/>
<polygon points="489,58.9 493.3,57 488.2,54.7 483.9,56.6" fill="#a4f63e"/>
<polygon points="498.5,59.4 502.7,57.7 497.6,55.2 493.3,57" fill="#a0f63f"/>
<polygon points="370.4,77.6 375.6,74.4 371.4,74.2 366.2,77.5" fill="#32f04e"/>
<polygon points="379.9,74.7 385,71.5 380.7,71.2 375.6,74.4" fill="#34f047"/>
<polygon points="389.3,72 394.4,69 390.1,68.5 385,71.5" fill="#47f145"/>
<polygon points="398.8,69.6 403.8,66.7 399.4,66.1 394.4,69" fill="#58f243"/>
<polygon points="408.3,67.5 413.3,64.7 408.8,63.9 403.8,66.7" fill="#66f240"/>
<polygon points="417.9,65.7 422.7,63 418.2,62 413.3,64.7" fill="#74f33f"/>
<polygon points="427.4,64.1 432.2,61.6 427.5,60.4 422.7,63" fill="#7ff43e"/>
<polygon points="346.1,87.9 351.5,84.3 347.5,84.4 342.1,88.1" fill="#30f065"/>
<polygon points="436.9,62.9 441.6,60.4 436.9,59.1 432.2,61.6" fill="#88f43d"/>
<polygon points="446.5,61.9 451.1,59.5 446.3,58 441.6,60.4" fill="#92f53d"/>
<polygon points="355.6,84.3 360.9,80.8 356.9,80.8 351.5,84.3" fill="#30f05c"/>
<polygon points="456,61.2 460.6,58.9 455.7,57.3 451.1,59.5" fill="#99f53c"/>
<polygon points="465.5,60.8 470.1,58.6 465.1,56.8 460.6,58.9" fill="#9df63d"/>
<polygon points="522.8,64.4 526.9,62.9 521.5,59.8 517.4,61.4" fill="#89f545"/>
<polygon points="475.1,60.6 479.5,58.6 474.5,56.6 470.1,58.6" fill="#a0f63d"/>
<polygon points="513.3,63.1 517.4,61.4 512.1,58.6 508,60.3" fill="#91f542"/>
<polygon points="484.7,60.8 489,58.9 483.9,56.6 479.5,58.6" fill="#a0f63e"/>
<polygon points="503.7,62 508,60.3 502.7,57.7 498.5,59.4" fill="#98f641"/>
<polygon points="494.2,61.3 498.5,59.4 493.3,57 489,58.9" fill="#9ef63f"/>
<polygon points="365.1,81 370.4,77.6 366.2,77.5 360.9,80.8" fill="#32f053"/>
<polygon points="374.6,77.9 379.9,74.7 375.6,74.4 370.4,77.6" fill="#33f04b"/>
<polygon points="384.2,75.1 389.3,72 385,71.5 379.9,74.7" fill="#3df046"/>
<polygon points="393.7,72.6 398.8,69.6 394.4,69 389.3,72" fill="#4ef143"/>
<polygon points="403.3,70.4 408.3,67.5 403.8,66.7 398.8,69.6" fill="#5df242"/>
<polygon points="412.9,68.4 417.9,65.7 413.3,64.7 408.3,67.5" fill="#6cf340"/>
<polygon points="340.6,91.6 346.1,87.9 342.1,88.1 336.6,91.8" fill="#2ff06b"/>
<polygon points="422.5,66.8 427.4,64.1 422.7,63 417.9,65.7" fill="#77f33f"/>
<polygon points="432.1,65.4 436.9,62.9 432.2,61.6 427.4,64.1" fill="#81f43f"/>
<polygon points="441.7,64.3 446.5,61.9 441.6,60.4 436.9,62.9" fill="#89f43e"/>
<polygon points="350.1,87.9 355.6,84.3 351.5,84.3 346.1,87.9" fill="#30f061"/>
<polygon points="451.3,63.5 456,61.2 451.1,59.5 446.5,61.9" fill="#91f53d"/>
<polygon points="528.3,67.6 532.4,66.1 526.9,62.9 522.8,64.4" fill="#7ff448"/>
<polygon points="461,63 465.5,60.8 460.6,58.9 456,61.2" fill="#97f63d"/>
<polygon points="518.7,66.1 522.8,64.4 517.4,61.4 513.3,63.1" fill="#88f545"/>
<polygon points="470.6,62.7 475.1,60.6 470.1,58.6 465.5,60.8" fill="#9bf63d"/>
<polygon points="509.1,64.8 513.3,63.1 508,60.3 503.7,62" fill="#8ff543"/>
<polygon points="480.2,62.8 484.7,60.8 479.5,58.6 475.1,60.6" fill="#9bf63e"/>
<polygon points="499.5,63.8 503.7,62 498.5,59.4 494.2,61.3" fill="#95f641"/>
<polygon points="489.8,63.2 494.2,61.3 489,58.9 484.7,60.8" fill="#9af640"/>
<polygon points="359.7,84.4 365.1,81 360.9,80.8 355.6,84.3" fill="#31f058"/>
<polygon points="369.3,81.2 374.6,77.9 370.4,77.6 365.1,81" fill="#33f04f"/>
<polygon points="378.9,78.3 384.2,75.1 379.9,74.7 374.6,77.9" fill="#34f048"/>
<polygon points="388.6,75.7 393.7,72.6 389.3,72 384.2,75.1" fill="#44f145"/>
<polygon points="398.2,73.3 403.3,70.4 398.8,69.6 393.7,72.6" fill="#54f243"/>
<polygon points="407.9,71.3 412.9,68.4 408.3,67.5 403.3,70.4" fill="#63f242"/>
<polygon points="335,95.4 340.6,91.6 336.6,91.8 331,95.6" fill="#2ff071"/>
<polygon points="417.6,69.5 422.5,66.8 417.9,65.7 412.9,68.4" fill="#6ff341"/>
<polygon points="427.2,68 432.1,65.4 427.4,64.1 422.5,66.8" fill="#7af33f"/>
<polygon points="344.6,91.5 350.1,87.9 346.1,87.9 340.6,91.6" fill="#30f067"/>
<polygon points="436.9,66.8 441.7,64.3 436.9,62.9 432.1,65.4" fill="#82f43e"/>
<polygon points="533.8,71 537.9,69.5 532.4,66.1 528.3,67.6" fill="#75f44a"/>
<polygon points="446.6,65.9 451.3,63.5 446.5,61.9 441.7,64.3" fill="#8af43e"/>
<polygon points="524.2,69.2 528.3,67.6 522.8,64.4 518.7,66.1" fill="#7ef447"/>
<polygon points="456.3,65.2 461,63 456,61.2 451.3,63.5" fill="#91f53e"/>
<polygon points="514.5,67.7 518.7,66.1 513.3,63.1 509.1,64.8" fill="#86f546"/>
<polygon points="466,64.9 470.6,62.7 465.5,60.8 461,63" fill="#94f63e"/>
<polygon points="354.3,87.9 359.7,84.4 355.6,84.3 350.1,87.9" fill="#31f05d"/>
<polygon points="504.8,66.6 509.1,64.8 503.7,62 499.5,63.8" fill="#8df543"/>
<polygon points="475.7,64.9 480.2,62.8 475.1,60.6 470.6,62.7" fill="#96f63f"/>
<polygon points="495.1,65.7 499.5,63.8 494.2,61.3 489.8,63.2" fill="#92f541"/>
<polygon points="485.4,65.2 489.8,63.2 484.7,60.8 480.2,62.8" fill="#95f640"/>
<polygon points="363.9,84.6 369.3,81.2 365.1,81 359.7,84.4" fill="#33f054"/>
<polygon points="373.6,81.6 378.9,78.3 374.6,77.9 369.3,81.2" fill="#33f04d"/>
<polygon points="383.3,78.8 388.6,75.7 384.2,75.1 378.9,78.3" fill="#39f047"/>
<polygon points="393.1,76.3 398.2,73.3 393.7,72.6 388.6,75.7" fill="#4bf145"/>
<polygon points="402.8,74.2 407.9,71.3 403.3,70.4 398.2,73.3" fill="#5af243"/>
<polygon points="412.5,72.3 417.6,69.5 412.9,68.4 407.9,71.3" fill="#67f241"/>
<polygon points="422.3,70.7 427.2,68 422.5,66.8 417.6,69.5" fill="#72f340"/>
<polygon points="339,95.3 344.6,91.5 340.6,91.6 335,95.4" fill="#30f06c"/>
<polygon points="432,69.3 436.9,66.8 432.1,65.4 427.2,68" fill="#7cf340"/>
<polygon points="539.5,74.5 543.5,73 537.9,69.5 533.8,71" fill="#6af34d"/>
<polygon points="441.8,68.3 446.6,65.9 441.7,64.3 436.9,66.8" fill="#83f43f"/>
<polygon points="529.7,72.5 533.8,71 528.3,67.6 524.2,69.2" fill="#74f44a"/>
<polygon points="451.6,67.6 456.3,65.2 451.3,63.5 446.6,65.9" fill="#89f53f"/>
<polygon points="520,70.9 524.2,69.2 518.7,66.1 514.5,67.7" fill="#7df447"/>
<polygon points="348.7,91.6 354.3,87.9 350.1,87.9 344.6,91.5" fill="#31f062"/>
<polygon points="461.3,67.2 466,64.9 461,63 456.3,65.2" fill="#8ef53f"/>
<polygon points="510.2,69.5 514.5,67.7 509.1,64.8 504.8,66.6" fill="#85f546"/>
<polygon points="471.1,67 475.7,64.9 470.6,62.7 466,64.9" fill="#91f53f"/>
<polygon points="500.4,68.4 504.8,66.6 499.5,63.8 495.1,65.7" fill="#8af544"/>
<polygon points="480.9,67.2 485.4,65.2 480.2,62.8 475.7,64.9" fill="#90f540"/>
<polygon points="490.7,67.7 495.1,65.7 489.8,63.2 485.4,65.2" fill="#8ef542"/>
<polygon points="358.5,88.1 363.9,84.6 359.7,84.4 354.3,87.9" fill="#31f059"/>
<polygon points="368.2,84.9 373.6,81.6 369.3,81.2 363.9,84.6" fill="#33f051"/>
<polygon points="378,82.1 383.3,78.8 378.9,78.3 373.6,81.6" fill="#34f04a"/>
<polygon points="387.8,79.5 393.1,76.3 388.6,75.7 383.3,78.8" fill="#41f146"/>
<polygon points="397.6,77.2 402.8,74.2 398.2,73.3 393.1,76.3" fill="#51f144"/>
<polygon points="407.4,75.1 412.5,72.3 407.9,71.3 402.8,74.2" fill="#5ef243"/>
<polygon points="417.2,73.4 422.3,70.7 417.6,69.5 412.5,72.3" fill="#6af342"/>
<polygon points="427.1,72 432,69.3 427.2,68 422.3,70.7" fill="#75f341"/>
<polygon points="535.4,76 539.5,74.5 533.8,71 529.7,72.5" fill="#6af34c"/>
<polygon points="436.9,70.9 441.8,68.3 436.9,66.8 432,69.3" fill="#7df440"/>
<polygon points="525.5,74.2 529.7,72.5 524.2,69.2 520,70.9" fill="#74f44a"/>
<polygon points="446.8,70 451.6,67.6 446.6,65.9 441.8,68.3" fill="#83f540"/>
<polygon points="343.1,95.3 348.7,91.6 344.6,91.5 339,95.3" fill="#30f068"/>
<polygon points="515.7,72.6 520,70.9 514.5,67.7 510.2,69.5" fill="#7cf448"/>
<polygon points="456.6,69.5 461.3,67.2 456.3,65.2 451.6,67.6" fill="#87f540"/>
<polygon points="505.9,71.3 510.2,69.5 504.8,66.6 500.4,68.4" fill="#83f545"/>
<polygon points="466.5,69.2 471.1,67 466,64.9 461.3,67.2" fill="#8bf540"/>
<polygon points="496,70.3 500.4,68.4 495.1,65.7 490.7,67.7" fill="#87f544"/>
<polygon points="476.3,69.3 480.9,67.2 475.7,64.9 471.1,67" fill="#8bf541"/>
<polygon points="486.2,69.7 490.7,67.7 485.4,65.2 480.9,67.2" fill="#8af543"/>
<polygon points="352.9,91.7 358.5,88.1 354.3,87.9 348.7,91.6" fill="#31f05f"/>
<polygon points="362.7,88.4 368.2,84.9 363.9,84.6 358.5,88.1" fill="#33f056"/>
<polygon points="372.6,85.4 378,82.1 373.6,81.6 368.2,84.9" fill="#34f04e"/>
<polygon points="382.5,82.7 387.8,79.5 383.3,78.8 378,82.1" fill="#37f048"/>
<polygon points="392.3,80.2 397.6,77.2 393.1,76.3 387.8,79.5" fill="#47f146"/>
<polygon points="402.2,78.1 407.4,75.1 402.8,74.2 397.6,77.2" fill="#55f244"/>
<polygon points="412.1,76.3 417.2,73.4 412.5,72.3 407.4,75.1" fill="#63f243"/>
<polygon points="422,74.7 427.1,72 422.3,70.7 417.2,73.4" fill="#6df342"/>
<polygon points="432,73.5 436.9,70.9 432,69.3 427.1,72" fill="#76f441"/>
<polygon points="531.2,77.6 535.4,76 529.7,72.5 525.5,74.2" fill="#69f34c"/>
<polygon points="441.9,72.5 446.8,70 441.8,68.3 436.9,70.9" fill="#7df440"/>
<polygon points="521.3,75.8 525.5,74.2 520,70.9 515.7,72.6" fill="#73f44a"/>
<polygon points="451.8,71.9 456.6,69.5 451.6,67.6 446.8,70" fill="#83f541"/>
<polygon points="511.4,74.3 515.7,72.6 510.2,69.5 505.9,71.3" fill="#7bf448"/>
<polygon points="461.7,71.5 466.5,69.2 461.3,67.2 456.6,69.5" fill="#86f541"/>
<polygon points="501.5,73.2 505.9,71.3 500.4,68.4 496,70.3" fill="#81f446"/>
<polygon points="471.7,71.5 476.3,69.3 471.1,67 466.5,69.2" fill="#87f542"/>
<polygon points="491.5,72.3 496,70.3 490.7,67.7 486.2,69.7" fill="#85f544"/>
<polygon points="481.6,71.7 486.2,69.7 480.9,67.2 476.3,69.3" fill="#86f543"/>
<polygon points="347.3,95.4 352.9,91.7 348.7,91.6 343.1,95.3" fill="#31f064"/>
<polygon points="357.2,92 362.7,88.4 358.5,88.1 352.9,91.7" fill="#32f05a"/>
<polygon points="367.1,88.8 372.6,85.4 368.2,84.9 362.7,88.4" fill="#34f053"/>
<polygon points="377,86 382.5,82.7 378,82.1 372.6,85.4" fill="#34f04c"/>
<polygon points="387,83.4 392.3,80.2 387.8,79.5 382.5,82.7" fill="#3df048"/>
<polygon points="397,81.2 402.2,78.1 397.6,77.2 392.3,80.2" fill="#4cf146"/>
<polygon points="406.9,79.2 412.1,76.3 407.4,75.1 402.2,78.1" fill="#5af244"/>
<polygon points="416.9,77.5 422,74.7 417.2,73.4 412.1,76.3" fill="#66f243"/>
<polygon points="426.9,76.1 432,73.5 427.1,72 422,74.7" fill="#6ff342"/>
<polygon points="526.9,79.3 531.2,77.6 525.5,74.2 521.3,75.8" fill="#68f34c"/>
<polygon points="436.9,75.1 441.9,72.5 436.9,70.9 432,73.5" fill="#76f442"/>
<polygon points="517,77.6 521.3,75.8 515.7,72.6 511.4,74.3" fill="#72f44a"/>
<polygon points="446.9,74.3 451.8,71.9 446.8,70 441.9,72.5" fill="#7df442"/>
<polygon points="507,76.2 511.4,74.3 505.9,71.3 501.5,73.2" fill="#79f448"/>
<polygon points="456.9,73.9 461.7,71.5 456.6,69.5 451.8,71.9" fill="#81f542"/>
<polygon points="497,75.1 501.5,73.2 496,70.3 491.5,72.3" fill="#7ef446"/>
<polygon points="466.9,73.7 471.7,71.5 466.5,69.2 461.7,71.5" fill="#83f542"/>
<polygon points="487,74.3 491.5,72.3 486.2,69.7 481.6,71.7" fill="#81f544"/>
<polygon points="477,73.9 481.6,71.7 476.3,69.3 471.7,71.5" fill="#83f543"/>
<polygon points="351.5,95.6 357.2,92 352.9,91.7 347.3,95.4" fill="#32f060"/>
<polygon points="361.5,92.3 367.1,88.8 362.7,88.4 357.2,92" fill="#32f058"/>
<polygon points="371.5,89.4 377,86 372.6,85.4 367.1,88.8" fill="#34f050"/>
<polygon points="381.6,86.7 387,83.4 382.5,82.7 377,86" fill="#35f04a"/>
<polygon points="391.6,84.3 397,81.2 392.3,80.2 387,83.4" fill="#43f147"/>
<polygon points="401.7,82.2 406.9,79.2 402.2,78.1 397,81.2" fill="#52f145"/>
<polygon points="411.7,80.4 416.9,77.5 412.1,76.3 406.9,79.2" fill="#5ef244"/>
<polygon points="421.8,78.9 426.9,76.1 422,74.7 416.9,77.5" fill="#68f343"/>
<polygon points="431.9,77.7 436.9,75.1 432,73.5 426.9,76.1" fill="#71f443"/>
<polygon points="522.6,81 526.9,79.3 521.3,75.8 517,77.6" fill="#68f34c"/>
<polygon points="442,76.9 446.9,74.3 441.9,72.5 436.9,75.1" fill="#77f443"/>
<polygon points="512.6,79.4 517,77.6 511.4,74.3 507,76.2" fill="#70f44a"/>
<polygon points="452,76.3 456.9,73.9 451.8,71.9 446.9,74.3" fill="#7bf442"/>
<polygon points="502.5,78.1 507,76.2 501.5,73.2 497,75.1" fill="#77f447"/>
<polygon points="462.1,76 466.9,73.7 461.7,71.5 456.9,73.9" fill="#7ef443"/>
<polygon points="492.4,77.1 497,75.1 491.5,72.3 487,74.3" fill="#7cf446"/>
<polygon points="472.2,76.1 477,73.9 471.7,71.5 466.9,73.7" fill="#7ff444"/>
<polygon points="482.3,76.4 487,74.3 481.6,71.7 477,73.9" fill="#7ef445"/>
<polygon points="355.9,96 361.5,92.3 357.2,92 351.5,95.6" fill="#32f05d"/>
<polygon points="365.9,92.8 371.5,89.4 367.1,88.8 361.5,92.3" fill="#34f054"/>
<polygon points="376,90 381.6,86.7 377,86 371.5,89.4" fill="#35f04d"/>
<polygon points="386.2,87.5 391.6,84.3 387,83.4 381.6,86.7" fill="#3af048"/>
<polygon points="396.3,85.3 401.7,82.2 397,81.2 391.6,84.3" fill="#49f147"/>
<polygon points="406.4,83.4 411.7,80.4 406.9,79.2 401.7,82.2" fill="#55f245"/>
<polygon points="416.6,81.8 421.8,78.9 416.9,77.5 411.7,80.4" fill="#60f345"/>
<polygon points="426.8,80.5 431.9,77.7 426.9,76.1 421.8,78.9" fill="#6af344"/>
<polygon points="518.2,82.8 522.6,81 517,77.6 512.6,79.4" fill="#67f34d"/>
<polygon points="436.9,79.5 442,76.9 436.9,75.1 431.9,77.7" fill="#71f443"/>
<polygon points="508.1,81.3 512.6,79.4 507,76.2 502.5,78.1" fill="#6ff34a"/>
<polygon points="447.1,78.8 452,76.3 446.9,74.3 442,76.9" fill="#76f443"/>
<polygon points="497.9,80.1 502.5,78.1 497,75.1 492.4,77.1" fill="#75f448"/>
<polygon points="457.3,78.4 462.1,76 456.9,73.9 452,76.3" fill="#7af443"/>
<polygon points="487.8,79.2 492.4,77.1 487,74.3 482.3,76.4" fill="#79f446"/>
<polygon points="467.4,78.4 472.2,76.1 466.9,73.7 462.1,76" fill="#7bf444"/>
<polygon points="477.6,78.6 482.3,76.4 477,73.9 472.2,76.1" fill="#7bf445"/>
<polygon points="360.3,96.4 365.9,92.8 361.5,92.3 355.9,96" fill="#33f059"/>
<polygon points="370.4,93.5 376,90 371.5,89.4 365.9,92.8" fill="#35f052"/>
<polygon points="380.6,90.8 386.2,87.5 381.6,86.7 376,90" fill="#35f04c"/>
<polygon points="390.9,88.5 396.3,85.3 391.6,84.3 386.2,87.5" fill="#3ff048"/>
<polygon points="401.1,86.5 406.4,83.4 401.7,82.2 396.3,85.3" fill="#4df147"/>
<polygon points="411.3,84.7 416.6,81.8 411.7,80.4 406.4,83.4" fill="#59f245"/>
<polygon points="421.5,83.3 426.8,80.5 421.8,78.9 416.6,81.8" fill="#63f344"/>
<polygon points="513.8,84.6 518.2,82.8 512.6,79.4 508.1,81.3" fill="#66f34c"/>
<polygon points="431.8,82.2 436.9,79.5 431.9,77.7 426.8,80.5" fill="#6af444"/>
<polygon points="503.6,83.2 508.1,81.3 502.5,78.1 497.9,80.1" fill="#6df34a"/>
<polygon points="442,81.4 447.1,78.8 442,76.9 436.9,79.5" fill="#71f444"/>
<polygon points="493.3,82.1 497.9,80.1 492.4,77.1 487.8,79.2" fill="#72f448"/>
<polygon points="452.3,80.9 457.3,78.4 452,76.3 447.1,78.8" fill="#74f444"/>
<polygon points="483.1,81.3 487.8,79.2 482.3,76.4 477.6,78.6" fill="#75f447"/>
<polygon points="462.6,80.7 467.4,78.4 462.1,76 457.3,78.4" fill="#76f445"/>
<polygon points="472.8,80.9 477.6,78.6 472.2,76.1 467.4,78.4" fill="#77f445"/>
<polygon points="364.7,97 370.4,93.5 365.9,92.8 360.3,96.4" fill="#34f057"/>
<polygon points="375,94.2 380.6,90.8 376,90 370.4,93.5" fill="#35f050"/>
<polygon points="385.3,91.8 390.9,88.5 386.2,87.5 380.6,90.8" fill="#36f049"/>
<polygon points="395.6,89.6 401.1,86.5 396.3,85.3 390.9,88.5" fill="#44f148"/>
<polygon points="405.9,87.7 411.3,84.7 406.4,83.4 401.1,86.5" fill="#51f246"/>
<polygon points="416.3,86.2 421.5,83.3 416.6,81.8 411.3,84.7" fill="#5bf346"/>
<polygon points="426.6,85 431.8,82.2 426.8,80.5 421.5,83.3" fill="#63f345"/>
<polygon points="509.3,86.5 513.8,84.6 508.1,81.3 503.6,83.2" fill="#64f34c"/>
<polygon points="436.9,84 442,81.4 436.9,79.5 431.8,82.2" fill="#6bf345"/>
<polygon points="498.9,85.2 503.6,83.2 497.9,80.1 493.3,82.1" fill="#6bf34a"/>
<polygon points="447.3,83.4 452.3,80.9 447.1,78.8 442,81.4" fill="#6ff445"/>
<polygon points="488.6,84.2 493.3,82.1 487.8,79.2 483.1,81.3" fill="#6ff449"/>
<polygon points="457.6,83.2 462.6,80.7 457.3,78.4 452.3,80.9" fill="#72f445"/>
<polygon points="478.3,83.5 483.1,81.3 477.6,78.6 472.8,80.9" fill="#72f447"/>
<polygon points="467.9,83.2 472.8,80.9 467.4,78.4 462.6,80.7" fill="#73f446"/>
<polygon points="369.3,97.8 375,94.2 370.4,93.5 364.7,97" fill="#35f054"/>
<polygon points="379.7,95.2 385.3,91.8 380.6,90.8 375,94.2" fill="#36f04d"/>
<polygon points="390.1,92.9 395.6,89.6 390.9,88.5 385.3,91.8" fill="#3bf049"/>
<polygon points="400.5,90.9 405.9,87.7 401.1,86.5 395.6,89.6" fill="#48f248"/>
<polygon points="410.9,89.2 416.3,86.2 411.3,84.7 405.9,87.7" fill="#53f247"/>
<polygon points="421.3,87.8 426.6,85 421.5,83.3 416.3,86.2" fill="#5df346"/>
<polygon points="504.6,88.5 509.3,86.5 503.6,83.2 498.9,85.2" fill="#62f34c"/>
<polygon points="431.7,86.8 436.9,84 431.8,82.2 426.6,85" fill="#64f345"/>
<polygon points="494.2,87.3 498.9,85.2 493.3,82.1 488.6,84.2" fill="#68f34a"/>
<polygon points="442.1,86.1 447.3,83.4 442,81.4 436.9,84" fill="#69f345"/>
<polygon points="483.8,86.4 488.6,84.2 483.1,81.3 478.3,83.5" fill="#6cf348"/>
<polygon points="452.6,85.7 457.6,83.2 452.3,80.9 447.3,83.4" fill="#6df446"/>
<polygon points="473.4,85.8 478.3,83.5 472.8,80.9 467.9,83.2" fill="#6ef448"/>
<polygon points="463,85.6 467.9,83.2 462.6,80.7 457.6,83.2" fill="#6ef447"/>
<polygon points="374,98.6 379.7,95.2 375,94.2 369.3,97.8" fill="#36f052"/>
<polygon points="384.4,96.2 390.1,92.9 385.3,91.8 379.7,95.2" fill="#36f04c"/>
<polygon points="394.9,94.1 400.5,90.9 395.6,89.6 390.1,92.9" fill="#3ff14a"/>
<polygon points="405.4,92.3 410.9,89.2 405.9,87.7 400.5,90.9" fill="#4bf248"/>
<polygon points="415.9,90.8 421.3,87.8 416.3,86.2 410.9,89.2" fill="#56f247"/>
<polygon points="426.4,89.6 431.7,86.8 426.6,85 421.3,87.8" fill="#5df346"/>
<polygon points="500,90.6 504.6,88.5 498.9,85.2 494.2,87.3" fill="#61f34d"/>
<polygon points="436.9,88.8 442.1,86.1 436.9,84 431.7,86.8" fill="#63f346"/>
<polygon points="489.5,89.5 494.2,87.3 488.6,84.2 483.8,86.4" fill="#66f34b"/>
<polygon points="447.4,88.3 452.6,85.7 447.3,83.4 442.1,86.1" fill="#68f347"/>
<polygon points="479,88.7 483.8,86.4 478.3,83.5 473.4,85.8" fill="#69f349"/>
<polygon points="457.9,88.1 463,85.6 457.6,83.2 452.6,85.7" fill="#6af347"/>
<polygon points="468.5,88.2 473.4,85.8 467.9,83.2 463,85.6" fill="#6af347"/>
<polygon points="378.7,99.6 384.4,96.2 379.7,95.2 374,98.6" fill="#36f04f"/>
<polygon points="389.3,97.4 394.9,94.1 390.1,92.9 384.4,96.2" fill="#37f14a"/>
<polygon points="399.9,95.5 405.4,92.3 400.5,90.9 394.9,94.1" fill="#42f249"/>
<polygon points="410.4,93.9 415.9,90.8 410.9,89.2 405.4,92.3" fill="#4ef248"/>
<polygon points="421,92.6 426.4,89.6 421.3,87.8 415.9,90.8" fill="#56f248"/>
<polygon points="495.2,92.7 500,90.6 494.2,87.3 489.5,89.5" fill="#5ef34c"/>
<polygon points="431.6,91.6 436.9,88.8 431.7,86.8 426.4,89.6" fill="#5ef348"/>
<polygon points="484.6,91.7 489.5,89.5 483.8,86.4 479,88.7" fill="#63f34b"/>
<polygon points="442.2,91 447.4,88.3 442.1,86.1 436.9,88.8" fill="#62f348"/>
<polygon points="474,91 479,88.7 473.4,85.8 468.5,88.2" fill="#66f349"/>
<polygon points="452.8,90.6 457.9,88.1 452.6,85.7 447.4,88.3" fill="#66f347"/>
<polygon points="463.4,90.7 468.5,88.2 463,85.6 457.9,88.1" fill="#66f348"/>
<polygon points="383.5,100.8 389.3,97.4 384.4,96.2 378.7,99.6" fill="#37f04e"/>
<polygon points="394.2,98.7 399.9,95.5 394.9,94.1 389.3,97.4" fill="#3bf14b"/>
<polygon points="404.9,97 410.4,93.9 405.4,92.3 399.9,95.5" fill="#46f24a"/>
<polygon points="415.5,95.6 421,92.6 415.9,90.8 410.4,93.9" fill="#4ff249"/>
<polygon points="426.2,94.5 431.6,91.6 426.4,89.6 421,92.6" fill="#57f248"/>
<polygon points="490.3,94.9 495.2,92.7 489.5,89.5 484.6,91.7" fill="#5cf34d"/>
<polygon points="436.9,93.7 442.2,91 436.9,88.8 431.6,91.6" fill="#5cf348"/>
<polygon points="479.7,94 484.6,91.7 479,88.7 474,91" fill="#60f34b"/>
<polygon points="447.6,93.3 452.8,90.6 447.4,88.3 442.2,91" fill="#60f348"/>
<polygon points="469,93.4 474,91 468.5,88.2 463.4,90.7" fill="#62f34a"/>
<polygon points="458.3,93.2 463.4,90.7 457.9,88.1 452.8,90.6" fill="#62f349"/>
<polygon points="388.5,102.1 394.2,98.7 389.3,97.4 383.5,100.8" fill="#37f14e"/>
<polygon points="399.2,100.2 404.9,97 399.9,95.5 394.2,98.7" fill="#3df14b"/>
<polygon points="410,98.7 415.5,95.6 410.4,93.9 404.9,97" fill="#48f249"/>
<polygon points="420.8,97.5 426.2,94.5 421,92.6 415.5,95.6" fill="#50f249"/>
<polygon points="485.4,97.2 490.3,94.9 484.6,91.7 479.7,94" fill="#59f24d"/>
<polygon points="431.5,96.6 436.9,93.7 431.6,91.6 426.2,94.5" fill="#56f249"/>
<polygon points="474.6,96.4 479.7,94 474,91 469,93.4" fill="#5cf34b"/>
<polygon points="442.3,96 447.6,93.3 442.2,91 436.9,93.7" fill="#5bf349"/>
<polygon points="463.9,95.9 469,93.4 463.4,90.7 458.3,93.2" fill="#5ef34a"/>
<polygon points="453.1,95.8 458.3,93.2 452.8,90.6 447.6,93.3" fill="#5df34a"/>
<polygon points="393.5,103.6 399.2,100.2 394.2,98.7 388.5,102.1" fill="#38f14c"/>
<polygon points="404.3,101.9 410,98.7 404.9,97 399.2,100.2" fill="#40f14b"/>
<polygon points="415.2,100.6 420.8,97.5 415.5,95.6 410,98.7" fill="#49f24a"/>
<polygon points="480.4,99.5 485.4,97.2 479.7,94 474.6,96.4" fill="#56f24e"/>
<polygon points="426,99.5 431.5,96.6 426.2,94.5 420.8,97.5" fill="#50f24a"/>
<polygon points="469.5,98.8 474.6,96.4 469,93.4 463.9,95.9" fill="#59f24c"/>
<polygon points="436.9,98.9 442.3,96 436.9,93.7 431.5,96.6" fill="#55f24a"/>
<polygon points="458.7,98.5 463.9,95.9 458.3,93.2 453.1,95.8" fill="#59f24b"/>
<polygon points="447.8,98.5 453.1,95.8 447.6,93.3 442.3,96" fill="#59f24a"/>
<polygon points="398.6,105.2 404.3,101.9 399.2,100.2 393.5,103.6" fill="#39f14c"/>
<polygon points="409.5,103.7 415.2,100.6 410,98.7 404.3,101.9" fill="#41f14c"/>
<polygon points="420.5,102.6 426,99.5 420.8,97.5 415.2,100.6" fill="#4af24b"/>
<polygon points="475.3,102 480.4,99.5 474.6,96.4 469.5,98.8" fill="#53f24e"/>
<polygon points="431.4,101.8 436.9,98.9 431.5,96.6 426,99.5" fill="#4ff24a"/>
<polygon points="464.3,101.4 469.5,98.8 463.9,95.9 458.7,98.5" fill="#55f24d"/>
<polygon points="442.4,101.3 447.8,98.5 442.3,96 436.9,98.9" fill="#53f24b"/>
<polygon points="453.4,101.2 458.7,98.5 453.1,95.8 447.8,98.5" fill="#55f24b"/>
<polygon points="403.7,107 409.5,103.7 404.3,101.9 398.6,105.2" fill="#3af14c"/>
<polygon points="414.8,105.7 420.5,102.6 415.2,100.6 409.5,103.7" fill="#43f14b"/>
<polygon points="470.1,104.5 475.3,102 469.5,98.8 464.3,101.4" fill="#4ff24e"/>
<polygon points="425.9,104.8 431.4,101.8 426,99.5 420.5,102.6" fill="#49f24b"/>
<polygon points="459,104 464.3,101.4 458.7,98.5 453.4,101.2" fill="#51f24d"/>
<polygon points="436.9,104.2 442.4,101.3 436.9,98.9 431.4,101.8" fill="#4ef24c"/>
<polygon points="448,103.9 453.4,101.2 447.8,98.5 442.4,101.3" fill="#50f24c"/>
<polygon points="409,109 414.8,105.7 409.5,103.7 403.7,107" fill="#3bf14d"/>
<polygon points="420.2,107.9 425.9,104.8 420.5,102.6 414.8,105.7" fill="#42f14d"/>
<polygon points="464.8,107.1 470.1,104.5 464.3,101.4 459,104" fill="#4cf24e"/>
<polygon points="431.3,107.2 436.9,104.2 431.4,101.8 425.9,104.8" fill="#48f24d"/>
<polygon points="453.7,106.8 459,104 453.4,101.2 448,103.9" fill="#4cf24d"/>
<polygon points="442.5,106.8 448,103.9 442.4,101.3 436.9,104.2" fill="#4bf24d"/>
<polygon points="414.4,111.1 420.2,107.9 414.8,105.7 409,109" fill="#3cf14e"/>
<polygon points="459.4,109.8 464.8,107.1 459,104 453.7,106.8" fill="#47f24f"/>
<polygon points="425.7,110.2 431.3,107.2 425.9,104.8 420.2,107.9" fill="#41f14d"/>
<polygon points="448.2,109.6 453.7,106.8 448,103.9 442.5,106.8" fill="#47f24e"/>
<polygon points="436.9,109.7 442.5,106.8 436.9,104.2 431.3,107.2" fill="#46f14d"/>
<polygon points="419.9,113.4 425.7,110.2 420.2,107.9 414.4,111.1" fill="#3bf14e"/>
<polygon points="453.9,112.6 459.4,109.8 453.7,106.8 448.2,109.6" fill="#43f150"/>
<polygon points="431.2,112.8 436.9,109.7 431.3,107.2 425.7,110.2" fill="#40f14e"/>
<polygon points="442.6,112.5 448.2,109.6 442.5,106.8 436.9,109.7" fill="#43f14f"/>
<polygon points="448.4,115.5 453.9,112.6 448.2,109.6 442.6,112.5" fill="#3ff150"/>
<polygon points="425.5,115.9 431.2,112.8 425.7,110.2 419.9,113.4" fill="#3cf150"/>
<polygon points="436.9,115.5 442.6,112.5 436.9,109.7 431.2,112.8" fill="#3ef150"/>
<polygon points="442.7,118.4 448.4,115.5 442.6,112.5 436.9,115.5" fill="#3df152"/>
<polygon points="431.1,118.6 436.9,115.5 431.2,112.8 425.5,115.9" fill="#3df151"/>
<polygon points="436.9,121.5 442.7,118.4 436.9,115.5 431.1,118.6" fill="#3df154"/>
</g>
<line x1="386.7" y1="52.7" x2="386.7" y2="60" stroke="#444" stroke-width="0.6"/>
<circle cx="386.7" cy="52.7" r="2.1" fill="#b80d14" stroke="#700000" stroke-width="0.6"/>
<circle cx="436.7" cy="37.9" r="2.1" fill="#b80d14" stroke="#700000" stroke-width="0.6"/>
<circle cx="436.7" cy="63.6" r="2.1" fill="#b80d14" stroke="#700000" stroke-width="0.6"/>
<circle cx="380" cy="93.1" r="2.1" fill="#b80d14" stroke="#700000" stroke-width="0.6"/>
<g font-family="'Liberation Sans',sans-serif" font-size="4.6" fill="#4d4d4d">
<circle cx="333.2" cy="147.5" r="1" fill="#111"/>
<text x="330.2" y="146.3" text-anchor="end">400</text>
<circle cx="332" cy="118.1" r="1" fill="#111"/>
<text x="329" y="116.9" text-anchor="end">450</text>
<circle cx="330.7" cy="88.7" r="1" fill="#111"/>
<text x="327.7" y="87.5" text-anchor="end">500</text>
<circle cx="329.5" cy="59.4" r="1" fill="#111"/>
<text x="326.5" y="58.2" text-anchor="end">550</text>
<circle cx="328.2" cy="30" r="1" fill="#111"/>
<text x="325.2" y="28.8" text-anchor="end">600</text>
<circle cx="334.7" cy="183.9" r="1" fill="#111"/>
<text x="330.7" y="187.9" text-anchor="middle">1</text>
<circle cx="538.6" cy="183.7" r="1" fill="#111"/>
<text x="542.6" y="188.3" text-anchor="middle">1</text>
<circle cx="360.2" cy="197.3" r="1" fill="#111"/>
<text x="353.7" y="202.3" text-anchor="middle">0.5</text>
<circle cx="513.1" cy="197.2" r="1" fill="#111"/>
<text x="519.6" y="202.2" text-anchor="middle">0.5</text>
<circle cx="385.7" cy="210.7" r="1" fill="#111"/>
<text x="381.2" y="215.7" text-anchor="middle">0</text>
<circle cx="487.7" cy="210.6" r="1" fill="#111"/>
<text x="491.1" y="215.6" text-anchor="middle">0</text>
<circle cx="411.2" cy="224.1" r="1" fill="#111"/>
<text x="404.7" y="229.1" text-anchor="middle">-0.5</text>
<circle cx="462.2" cy="224.1" r="1" fill="#111"/>
<text x="468.7" y="229.1" text-anchor="middle">-0.5</text>
<circle cx="436.8" cy="237.5" r="1" fill="#111"/>
<text x="432.3" y="242.9" text-anchor="middle">-1</text>
<text x="441.3" y="242.9" text-anchor="middle">-1</text>
<text x="346" y="231.3" text-anchor="middle">B: Speed (mm/s)</text>
<text x="526.6" y="231.3" text-anchor="middle">A: Power (W)</text>
<text transform="translate(295.7,108.2) rotate(-90)" text-anchor="middle" font-size="4.75">Yield Strenght (MPa)</text>
</g>
<text x="419" y="265.5" text-anchor="middle" font-family="'Liberation Serif',serif" font-size="13.8" fill="#111">(<tspan font-weight="bold">b</tspan>)</text>
<polygon points="50.6,449.4 147.4,498.3 244.7,449.3 147.8,411" fill="#5b5b5b"/>
<polyline points="65.1,456.7 64.7,455.6 64.4,454.7 64.2,453.8 63.7,452.3 63.4,451.1 63.2,450.2 63,449.4 62.7,448.2 62.4,446.8 62.2,445.8 62,445" fill="none" stroke="#57d935" stroke-width="1.1"/>
<polyline points="83.3,465.9 82.7,464.7 82.2,463.9 81.5,462.5 80.9,461.2 80.5,460.3 79.9,459.2 79.3,457.7 78.9,456.8 78.5,456 78,454.5 77.5,453.3 77.2,452.5 76.9,451.6 76.4,450.2 76.1,449 75.8,448.1 75.5,447.2 75.2,446.1 74.9,444.8 74.6,443.7 74.5,442.8 74.3,442 74.1,440.9" fill="none" stroke="#a1dc2d" stroke-width="1.1"/>
<polyline points="113.1,481 111.5,479.4 110.6,478.4 109.2,476.8 108.4,476 106.9,474.3 106.2,473.5 104.8,471.8 104.1,470.9 103,469.4 102.2,468.4 101.5,467.4 100.4,465.8 99.8,465 98.9,463.6 98.1,462.4 97.6,461.6 96.8,460.1 96.1,459 95.6,458.1 94.9,456.8 94.3,455.6 93.9,454.7 93.3,453.6 92.7,452.1 92.3,451.3 91.9,450.4 91.4,449.2 90.9,447.8 90.6,447 90.3,446.1 89.9,445.1 89.5,443.7 89.2,442.7 89,441.8 88.7,440.9 88.5,439.9 88.2,438.7 87.9,437.5 87.8,436.6 87.6,435.7 87.5,434.9" fill="none" stroke="#e1d12c" stroke-width="1.1"/>
<polyline points="160.2,491.9 157.3,490.7 154.5,489.3 151.8,488 149.2,486.6 146.7,485.2 144.3,483.8 142,482.4 140.9,481.6 138.7,480.2 136.6,478.7 135.1,477.5 133.6,476.4 131.7,474.9 130.8,474.1 128.9,472.5 127.7,471.5 126.4,470.2 125.1,468.9 123.9,467.8 122.8,466.6 121.7,465.4 120.8,464.4 119.5,463 118.8,462.1 117.5,460.5 116.9,459.7 116,458.6 115.1,457.2 114.5,456.4 113.6,455.1 112.8,453.9 112.3,453.1 111.6,451.8 110.9,450.6 110.4,449.8 109.9,448.8 109.2,447.3 108.7,446.4 108.3,445.6 107.9,444.5 107.3,443.1 107,442.2 106.6,441.3 106.3,440.5 106,439.3 105.6,438 105.3,437.1 105.1,436.2 104.9,435.3 104.7,434.5 104.5,433.3 104.3,432.2 104.1,431.1 104,430.2 103.9,429.3 103.8,428.4" fill="none" stroke="#e58228" stroke-width="1.1"/>
<polyline points="188.6,477.6 186.5,477.3 183.5,476.9 180.6,476.4 178.8,476 175.3,475.1 172.7,474.4 170.5,473.6 167.6,472.6 164.7,471.4 162.1,470.3 159.5,469 157.1,467.8 154.8,466.5 152.6,465.1 151.5,464.5 149.4,463.1 147.5,461.7 146.5,461 144.7,459.5 143.8,458.7 142.1,457.3 141.2,456.4 139.8,455 139,454.3 137.6,452.8 136.9,452 135.6,450.5 134.9,449.6 134.3,448.8 133.1,447.3 132.6,446.5 132,445.6 131.1,444.2 130.5,443.3 130.1,442.4 129.5,441.3 128.8,440 128.4,439.1 128,438.3 127.7,437.4 127.2,436.2 126.8,435 126.5,434.1 126.3,433.2 126.1,432.4 125.9,431.5 125.6,430.5 125.5,429.4 125.3,428.3 125.2,427.3 125.1,426.3 125.1,425.4 125.1,424.5 125.1,423.5 125.2,422.6 125.3,421.7 125.4,420.8 125.5,419.8" fill="none" stroke="#df2e27" stroke-width="1.1"/>
<polyline points="236.7,446.1 236.7,447.3 236.6,448.5 236.5,449.8 236.4,450.9 236.3,451.8 236.1,452.7 235.9,453.8" fill="none" stroke="#df2e27" stroke-width="1.1"/>
<path d="M49.1,415.5 L147.8,380.3 L246.2,415.4 M48.1,393.9 L147.7,360.9 L247.1,393.8 M47.2,372.4 L147.7,341.5 L248.1,372.2 M46.2,350.8 L147.7,322.1 L249,350.6 M45.2,329.2 L147.7,302.7 L250,329 M44.2,307.6 L147.7,283.2 L250.9,307.4 M73.8,406.7 L70.1,301.5 M172.4,389.1 L173.5,289.3 M98.4,397.9 L95.9,295.4 M197,397.8 L199.3,295.3 M123.1,389.1 L121.8,289.3 M221.6,406.6 L225.1,301.4 M50.6,449.4 L44.2,307.6 M147.8,411 L147.7,283.2 M244.7,449.3 L250.9,307.4" fill="none" stroke="#585858" stroke-width="0.75"/>
<line x1="202.2" y1="354.4" x2="202.2" y2="349" stroke="#555" stroke-width="0.6"/>
<circle cx="202.2" cy="354.4" r="2.1" fill="#fbd5dc" stroke="#c0606e" stroke-width="0.6"/>
<g stroke="#000" stroke-opacity="0.42" stroke-width="0.42" stroke-linejoin="round">
<polygon points="147.7,302.6 151.7,301.3 147.7,300.8 143.7,302.2" fill="#f32e2a"/>
<polygon points="143.7,304.1 147.7,302.6 143.7,302.2 139.7,303.6" fill="#f4302b"/>
<polygon points="151.7,303.2 155.7,301.9 151.7,301.3 147.7,302.6" fill="#f22d2a"/>
<polygon points="139.6,305.7 143.7,304.1 139.7,303.6 135.6,305.2" fill="#f5312b"/>
<polygon points="147.7,304.6 151.7,303.2 147.7,302.6 143.7,304.1" fill="#f32e2a"/>
<polygon points="155.8,303.8 159.7,302.6 155.7,301.9 151.7,303.2" fill="#f22d2a"/>
<polygon points="135.4,307.3 139.6,305.7 135.6,305.2 131.5,307" fill="#f7342c"/>
<polygon points="143.6,306.1 147.7,304.6 143.7,304.1 139.6,305.7" fill="#f42f2b"/>
<polygon points="151.7,305.2 155.8,303.8 151.7,303.2 147.7,304.6" fill="#f22d2a"/>
<polygon points="159.9,304.6 163.9,303.3 159.7,302.6 155.8,303.8" fill="#f22d2a"/>
<polygon points="131.3,309.2 135.4,307.3 131.5,307 127.3,308.8" fill="#f9362d"/>
<polygon points="139.5,307.8 143.6,306.1 139.6,305.7 135.4,307.3" fill="#f5312b"/>
<polygon points="147.7,306.7 151.7,305.2 147.7,304.6 143.6,306.1" fill="#f22d2a"/>
<polygon points="155.9,305.9 159.9,304.6 155.8,303.8 151.7,305.2" fill="#f22d2a"/>
<polygon points="164.1,305.4 168.1,304.2 163.9,303.3 159.9,304.6" fill="#f22d2a"/>
<polygon points="127,311.1 131.3,309.2 127.3,308.8 123.1,310.8" fill="#fb3a2f"/>
<polygon points="135.3,309.6 139.5,307.8 135.4,307.3 131.3,309.2" fill="#f7342d"/>
<polygon points="143.5,308.3 147.7,306.7 143.6,306.1 139.5,307.8" fill="#f42f2b"/>
<polygon points="151.8,307.4 155.9,305.9 151.7,305.2 147.7,306.7" fill="#f22d2a"/>
<polygon points="160.1,306.7 164.1,305.4 159.9,304.6 155.9,305.9" fill="#f22d2a"/>
<polygon points="168.3,306.3 172.3,305.1 168.1,304.2 164.1,305.4" fill="#f22d2a"/>
<polygon points="122.7,313.2 127,311.1 123.1,310.8 118.8,312.9" fill="#fc4430"/>
<polygon points="131,311.5 135.3,309.6 131.3,309.2 127,311.1" fill="#f9372e"/>
<polygon points="139.3,310.1 143.5,308.3 139.5,307.8 135.3,309.6" fill="#f5322c"/>
<polygon points="147.6,309 151.8,307.4 147.7,306.7 143.5,308.3" fill="#f22e2b"/>
<polygon points="156,308.1 160.1,306.7 155.9,305.9 151.8,307.4" fill="#f22d2a"/>
<polygon points="164.3,307.5 168.3,306.3 164.1,305.4 160.1,306.7" fill="#f22d2a"/>
<polygon points="172.7,307.3 176.6,306.1 172.3,305.1 168.3,306.3" fill="#f22d2a"/>
<polygon points="118.3,315.4 122.7,313.2 118.8,312.9 114.4,315.2" fill="#fd5430"/>
<polygon points="126.7,313.5 131,311.5 127,311.1 122.7,313.2" fill="#fc3b30"/>
<polygon points="135.1,312 139.3,310.1 135.3,309.6 131,311.5" fill="#f7352e"/>
<polygon points="143.4,310.7 147.6,309 143.5,308.3 139.3,310.1" fill="#f4302c"/>
<polygon points="151.8,309.7 156,308.1 151.8,307.4 147.6,309" fill="#f22e2b"/>
<polygon points="160.2,308.9 164.3,307.5 160.1,306.7 156,308.1" fill="#f22e2b"/>
<polygon points="168.6,308.5 172.7,307.3 168.3,306.3 164.3,307.5" fill="#f22d2a"/>
<polygon points="177.1,308.3 181,307.3 176.6,306.1 172.7,307.3" fill="#f22d2a"/>
<polygon points="113.9,317.8 118.3,315.4 114.4,315.2 110,317.6" fill="#fd6531"/>
<polygon points="122.3,315.7 126.7,313.5 122.7,313.2 118.3,315.4" fill="#fc4831"/>
<polygon points="130.7,314 135.1,312 131,311.5 126.7,313.5" fill="#fa392f"/>
<polygon points="139.2,312.5 143.4,310.7 139.3,310.1 135.1,312" fill="#f6342d"/>
<polygon points="147.6,311.3 151.8,309.7 147.6,309 143.4,310.7" fill="#f32f2c"/>
<polygon points="156.1,310.4 160.2,308.9 156,308.1 151.8,309.7" fill="#f22e2b"/>
<polygon points="164.6,309.8 168.6,308.5 164.3,307.5 160.2,308.9" fill="#f22e2b"/>
<polygon points="173,309.5 177.1,308.3 172.7,307.3 168.6,308.5" fill="#f22e2b"/>
<polygon points="181.5,309.5 185.5,308.5 181,307.3 177.1,308.3" fill="#f22d2a"/>
<polygon points="109.4,320.3 113.9,317.8 110,317.6 105.5,320.1" fill="#fe7831"/>
<polygon points="117.9,318.1 122.3,315.7 118.3,315.4 113.9,317.8" fill="#fd5931"/>
<polygon points="126.4,316.1 130.7,314 126.7,313.5 122.3,315.7" fill="#fc3e31"/>
<polygon points="134.9,314.5 139.2,312.5 135.1,312 130.7,314" fill="#f8372f"/>
<polygon points="143.4,313.1 147.6,311.3 143.4,310.7 139.2,312.5" fill="#f4322d"/>
<polygon points="151.9,312.1 156.1,310.4 151.8,309.7 147.6,311.3" fill="#f22f2c"/>
<polygon points="160.4,311.3 164.6,309.8 160.2,308.9 156.1,310.4" fill="#f22f2c"/>
<polygon points="168.9,310.9 173,309.5 168.6,308.5 164.6,309.8" fill="#f22e2b"/>
<polygon points="177.5,310.7 181.5,309.5 177.1,308.3 173,309.5" fill="#f22e2b"/>
<polygon points="186,310.8 190,309.8 185.5,308.5 181.5,309.5" fill="#f22e2b"/>
<polygon points="104.8,322.9 109.4,320.3 105.5,320.1 100.9,322.8" fill="#ff8c31"/>
<polygon points="113.4,320.5 117.9,318.1 113.9,317.8 109.4,320.3" fill="#fe6b31"/>
<polygon points="121.9,318.4 126.4,316.1 122.3,315.7 117.9,318.1" fill="#fd4d32"/>
<polygon points="130.5,316.6 134.9,314.5 130.7,314 126.4,316.1" fill="#fa3b30"/>
<polygon points="139,315.1 143.4,313.1 139.2,312.5 134.9,314.5" fill="#f6362f"/>
<polygon points="147.6,313.9 151.9,312.1 147.6,311.3 143.4,313.1" fill="#f3302d"/>
<polygon points="156.2,312.9 160.4,311.3 156.1,310.4 151.9,312.1" fill="#f22f2c"/>
<polygon points="164.8,312.3 168.9,310.9 164.6,309.8 160.4,311.3" fill="#f22f2c"/>
<polygon points="173.4,312 177.5,310.7 173,309.5 168.9,310.9" fill="#f22f2c"/>
<polygon points="182,311.9 186,310.8 181.5,309.5 177.5,310.7" fill="#f22e2b"/>
<polygon points="100.2,325.7 104.8,322.9 100.9,322.8 96.3,325.6" fill="#ffa032"/>
<polygon points="190.6,312.2 194.6,311.2 190,309.8 186,310.8" fill="#f22e2b"/>
<polygon points="108.8,323.1 113.4,320.5 109.4,320.3 104.8,322.9" fill="#fe7f32"/>
<polygon points="117.4,320.9 121.9,318.4 117.9,318.1 113.4,320.5" fill="#fd5f32"/>
<polygon points="126,318.9 130.5,316.6 126.4,316.1 121.9,318.4" fill="#fc4332"/>
<polygon points="134.6,317.2 139,315.1 134.9,314.5 130.5,316.6" fill="#f93931"/>
<polygon points="143.3,315.8 147.6,313.9 143.4,313.1 139,315.1" fill="#f5342e"/>
<polygon points="151.9,314.7 156.2,312.9 151.9,312.1 147.6,313.9" fill="#f2302d"/>
<polygon points="160.6,313.9 164.8,312.3 160.4,311.3 156.2,312.9" fill="#f2302d"/>
<polygon points="95.5,328.7 100.2,325.7 96.3,325.6 91.7,328.6" fill="#feb234"/>
<polygon points="169.3,313.4 173.4,312 168.9,310.9 164.8,312.3" fill="#f22f2c"/>
<polygon points="177.9,313.2 182,311.9 177.5,310.7 173.4,312" fill="#f22f2c"/>
<polygon points="186.6,313.3 190.6,312.2 186,310.8 182,311.9" fill="#f22f2c"/>
<polygon points="195.3,313.6 199.2,312.7 194.6,311.2 190.6,312.2" fill="#f22e2b"/>
<polygon points="104.2,325.9 108.8,323.1 104.8,322.9 100.2,325.7" fill="#ff9432"/>
<polygon points="112.8,323.4 117.4,320.9 113.4,320.5 108.8,323.1" fill="#fe7232"/>
<polygon points="121.5,321.3 126,318.9 121.9,318.4 117.4,320.9" fill="#fd5433"/>
<polygon points="130.2,319.4 134.6,317.2 130.5,316.6 126,318.9" fill="#fb3d32"/>
<polygon points="138.9,317.8 143.3,315.8 139,315.1 134.6,317.2" fill="#f73830"/>
<polygon points="147.6,316.6 151.9,314.7 147.6,313.9 143.3,315.8" fill="#f4322f"/>
<polygon points="90.8,331.8 95.5,328.7 91.7,328.6 86.9,331.7" fill="#fdc635"/>
<polygon points="156.3,315.6 160.6,313.9 156.2,312.9 151.9,314.7" fill="#f2302d"/>
<polygon points="165,314.9 169.3,313.4 164.8,312.3 160.6,313.9" fill="#f2302d"/>
<polygon points="173.8,314.5 177.9,313.2 173.4,312 169.3,313.4" fill="#f2302d"/>
<polygon points="99.5,328.8 104.2,325.9 100.2,325.7 95.5,328.7" fill="#fea734"/>
<polygon points="182.5,314.5 186.6,313.3 182,311.9 177.9,313.2" fill="#f22f2c"/>
<polygon points="191.2,314.7 195.3,313.6 190.6,312.2 186.6,313.3" fill="#f22f2c"/>
<polygon points="200,315.2 203.9,314.3 199.2,312.7 195.3,313.6" fill="#f22f2c"/>
<polygon points="108.2,326.2 112.8,323.4 108.8,323.1 104.2,325.9" fill="#fe8633"/>
<polygon points="116.9,323.8 121.5,321.3 117.4,320.9 112.8,323.4" fill="#fd6633"/>
<polygon points="125.7,321.8 130.2,319.4 126,318.9 121.5,321.3" fill="#fc4933"/>
<polygon points="134.4,320 138.9,317.8 134.6,317.2 130.2,319.4" fill="#fa3b32"/>
<polygon points="143.2,318.6 147.6,316.6 143.3,315.8 138.9,317.8" fill="#f63630"/>
<polygon points="86,335 90.8,331.8 86.9,331.7 82.1,335" fill="#fbda38"/>
<polygon points="152,317.4 156.3,315.6 151.9,314.7 147.6,316.6" fill="#f3322e"/>
<polygon points="160.8,316.6 165,314.9 160.6,313.9 156.3,315.6" fill="#f2312e"/>
<polygon points="94.7,331.9 99.5,328.8 95.5,328.7 90.8,331.8" fill="#fdb936"/>
<polygon points="169.6,316 173.8,314.5 169.3,313.4 165,314.9" fill="#f2302d"/>
<polygon points="178.4,315.8 182.5,314.5 177.9,313.2 173.8,314.5" fill="#f2302d"/>
<polygon points="187.2,315.9 191.2,314.7 186.6,313.3 182.5,314.5" fill="#f2302d"/>
<polygon points="196,316.2 200,315.2 195.3,313.6 191.2,314.7" fill="#f22f2c"/>
<polygon points="204.8,316.9 208.7,316.1 203.9,314.3 200,315.2" fill="#f22f2c"/>
<polygon points="103.5,329.1 108.2,326.2 104.2,325.9 99.5,328.8" fill="#ff9c33"/>
<polygon points="112.3,326.5 116.9,323.8 112.8,323.4 108.2,326.2" fill="#fe7a33"/>
<polygon points="121.1,324.3 125.7,321.8 121.5,321.3 116.9,323.8" fill="#fd5b34"/>
<polygon points="129.9,322.4 134.4,320 130.2,319.4 125.7,321.8" fill="#fc4133"/>
<polygon points="81.1,338.5 86,335 82.1,335 77.3,338.5" fill="#faf03a"/>
<polygon points="138.7,320.7 143.2,318.6 138.9,317.8 134.4,320" fill="#f83a31"/>
<polygon points="147.6,319.4 152,317.4 147.6,316.6 143.2,318.6" fill="#f53530"/>
<polygon points="89.9,335.1 94.7,331.9 90.8,331.8 86,335" fill="#fccd37"/>
<polygon points="156.4,318.4 160.8,316.6 156.3,315.6 152,317.4" fill="#f2312e"/>
<polygon points="165.3,317.7 169.6,316 165,314.9 160.8,316.6" fill="#f2312e"/>
<polygon points="174.2,317.3 178.4,315.8 173.8,314.5 169.6,316" fill="#f2312e"/>
<polygon points="98.7,332.1 103.5,329.1 99.5,328.8 94.7,331.9" fill="#feae35"/>
<polygon points="183,317.2 187.2,315.9 182.5,314.5 178.4,315.8" fill="#f2302d"/>
<polygon points="191.9,317.4 196,316.2 191.2,314.7 187.2,315.9" fill="#f2302d"/>
<polygon points="200.8,317.9 204.8,316.9 200,315.2 196,316.2" fill="#f2302d"/>
<polygon points="209.7,318.7 213.6,317.9 208.7,316.1 204.8,316.9" fill="#f3302c"/>
<polygon points="107.6,329.4 112.3,326.5 108.2,326.2 103.5,329.1" fill="#ff9034"/>
<polygon points="116.4,326.9 121.1,324.3 116.9,323.8 112.3,326.5" fill="#fe6e33"/>
<polygon points="125.3,324.8 129.9,322.4 125.7,321.8 121.1,324.3" fill="#fd5234"/>
<polygon points="76.2,342.1 81.1,338.5 77.3,338.5 72.3,342.1" fill="#eaf53a"/>
<polygon points="134.2,323 138.7,320.7 134.4,320 129.9,322.4" fill="#fb3d34"/>
<polygon points="85,338.5 89.9,335.1 86,335 81.1,338.5" fill="#fbe239"/>
<polygon points="143.1,321.5 147.6,319.4 143.2,318.6 138.7,320.7" fill="#f73831"/>
<polygon points="152,320.3 156.4,318.4 152,317.4 147.6,319.4" fill="#f43430"/>
<polygon points="161,319.5 165.3,317.7 160.8,316.6 156.4,318.4" fill="#f2322f"/>
<polygon points="93.9,335.3 98.7,332.1 94.7,331.9 89.9,335.1" fill="#fdc137"/>
<polygon points="169.9,318.9 174.2,317.3 169.6,316 165.3,317.7" fill="#f2312e"/>
<polygon points="178.8,318.6 183,317.2 178.4,315.8 174.2,317.3" fill="#f2312e"/>
<polygon points="187.8,318.7 191.9,317.4 187.2,315.9 183,317.2" fill="#f2312e"/>
<polygon points="102.8,332.4 107.6,329.4 103.5,329.1 98.7,332.1" fill="#fea335"/>
<polygon points="196.7,319 200.8,317.9 196,316.2 191.9,317.4" fill="#f2302d"/>
<polygon points="214.6,320.7 218.5,319.9 213.6,317.9 209.7,318.7" fill="#f4332e"/>
<polygon points="205.7,319.7 209.7,318.7 204.8,316.9 200.8,317.9" fill="#f2302d"/>
<polygon points="111.7,329.8 116.4,326.9 112.3,326.5 107.6,329.4" fill="#fe8334"/>
<polygon points="71.2,345.8 76.2,342.1 72.3,342.1 67.4,345.9" fill="#d2f53b"/>
<polygon points="120.7,327.5 125.3,324.8 121.1,324.3 116.4,326.9" fill="#fd6435"/>
<polygon points="129.6,325.5 134.2,323 129.9,322.4 125.3,324.8" fill="#fc4934"/>
<polygon points="80.1,342.1 85,338.5 81.1,338.5 76.2,342.1" fill="#f7f53b"/>
<polygon points="138.6,323.8 143.1,321.5 138.7,320.7 134.2,323" fill="#f93d33"/>
<polygon points="147.6,322.4 152,320.3 147.6,319.4 143.1,321.5" fill="#f63732"/>
<polygon points="89,338.7 93.9,335.3 89.9,335.1 85,338.5" fill="#fcd638"/>
<polygon points="156.6,321.4 161,319.5 156.4,318.4 152,320.3" fill="#f3342f"/>
<polygon points="165.6,320.6 169.9,318.9 165.3,317.7 161,319.5" fill="#f2322f"/>
<polygon points="98,335.6 102.8,332.4 98.7,332.1 93.9,335.3" fill="#fdb637"/>
<polygon points="174.6,320.2 178.8,318.6 174.2,317.3 169.9,318.9" fill="#f2322f"/>
<polygon points="183.6,320.1 187.8,318.7 183,317.2 178.8,318.6" fill="#f2312e"/>
<polygon points="192.6,320.3 196.7,319 191.9,317.4 187.8,318.7" fill="#f2312e"/>
<polygon points="219.6,322.7 223.5,321.9 218.5,319.9 214.6,320.7" fill="#f6352f"/>
<polygon points="201.6,320.8 205.7,319.7 200.8,317.9 196.7,319" fill="#f2312e"/>
<polygon points="210.6,321.6 214.6,320.7 209.7,318.7 205.7,319.7" fill="#f3322e"/>
<polygon points="107,332.8 111.7,329.8 107.6,329.4 102.8,332.4" fill="#ff9a35"/>
<polygon points="66.1,349.8 71.2,345.8 67.4,345.9 62.3,349.9" fill="#baf53c"/>
<polygon points="116,330.3 120.7,327.5 116.4,326.9 111.7,329.8" fill="#fe7834"/>
<polygon points="125,328.1 129.6,325.5 125.3,324.8 120.7,327.5" fill="#fd5b35"/>
<polygon points="75.1,345.8 80.1,342.1 76.2,342.1 71.2,345.8" fill="#e0f53b"/>
<polygon points="134,326.2 138.6,323.8 134.2,323 129.6,325.5" fill="#fc4135"/>
<polygon points="84.1,342.2 89,338.7 85,338.5 80.1,342.1" fill="#fbec3a"/>
<polygon points="143,324.7 147.6,322.4 143.1,321.5 138.6,323.8" fill="#f83b33"/>
<polygon points="152.1,323.4 156.6,321.4 152,320.3 147.6,322.4" fill="#f53731"/>
<polygon points="93.1,338.9 98,335.6 93.9,335.3 89,338.7" fill="#fcca39"/>
<polygon points="161.2,322.5 165.6,320.6 161,319.5 156.6,321.4" fill="#f33430"/>
<polygon points="170.2,321.9 174.6,320.2 169.9,318.9 165.6,320.6" fill="#f2322f"/>
<polygon points="179.3,321.6 183.6,320.1 178.8,318.6 174.6,320.2" fill="#f2322f"/>
<polygon points="102.1,335.9 107,332.8 102.8,332.4 98,335.6" fill="#feab36"/>
<polygon points="188.4,321.6 192.6,320.3 187.8,318.7 183.6,320.1" fill="#f2322f"/>
<polygon points="224.7,324.9 228.6,324.1 223.5,321.9 219.6,322.7" fill="#f83830"/>
<polygon points="197.5,322 201.6,320.8 196.7,319 192.6,320.3" fill="#f2312e"/>
<polygon points="61,353.9 66.1,349.8 62.3,349.9 57.2,354" fill="#a0f63c"/>
<polygon points="215.6,323.6 219.6,322.7 214.6,320.7 210.6,321.6" fill="#f5352f"/>
<polygon points="206.6,322.6 210.6,321.6 205.7,319.7 201.6,320.8" fill="#f3322e"/>
<polygon points="111.2,333.2 116,330.3 111.7,329.8 107,332.8" fill="#ff8d35"/>
<polygon points="70,349.8 75.1,345.8 71.2,345.8 66.1,349.8" fill="#c9f53c"/>
<polygon points="120.2,330.8 125,328.1 120.7,327.5 116,330.3" fill="#fe6e35"/>
<polygon points="129.3,328.8 134,326.2 129.6,325.5 125,328.1" fill="#fd5235"/>
<polygon points="79,345.9 84.1,342.2 80.1,342.1 75.1,345.8" fill="#eef53c"/>
<polygon points="138.4,327 143,324.7 138.6,323.8 134,326.2" fill="#fb4035"/>
<polygon points="147.6,325.6 152.1,323.4 147.6,322.4 143,324.7" fill="#f73a33"/>
<polygon points="88.1,342.4 93.1,338.9 89,338.7 84.1,342.2" fill="#fbdf3a"/>
<polygon points="156.7,324.5 161.2,322.5 156.6,321.4 152.1,323.4" fill="#f53631"/>
<polygon points="165.8,323.7 170.2,321.9 165.6,320.6 161.2,322.5" fill="#f33430"/>
<polygon points="55.8,358.2 61,353.9 57.2,354 52,358.4" fill="#85f541"/>
<polygon points="97.2,339.2 102.1,335.9 98,335.6 93.1,338.9" fill="#fdc038"/>
<polygon points="175,323.3 179.3,321.6 174.6,320.2 170.2,321.9" fill="#f23330"/>
<polygon points="184.1,323.1 188.4,321.6 183.6,320.1 179.3,321.6" fill="#f2322f"/>
<polygon points="229.9,327.1 233.8,326.5 228.6,324.1 224.7,324.9" fill="#fb3b31"/>
<polygon points="193.3,323.3 197.5,322 192.6,320.3 188.4,321.6" fill="#f2322f"/>
<polygon points="220.7,325.7 224.7,324.9 219.6,322.7 215.6,323.6" fill="#f73830"/>
<polygon points="202.4,323.8 206.6,322.6 201.6,320.8 197.5,322" fill="#f2332f"/>
<polygon points="211.6,324.6 215.6,323.6 210.6,321.6 206.6,322.6" fill="#f4342f"/>
<polygon points="106.3,336.3 111.2,333.2 107,332.8 102.1,335.9" fill="#ffa236"/>
<polygon points="64.8,353.9 70,349.8 66.1,349.8 61,353.9" fill="#aff63d"/>
<polygon points="115.4,333.8 120.2,330.8 116,330.3 111.2,333.2" fill="#fe8335"/>
<polygon points="73.9,349.8 79,345.9 75.1,345.8 70,349.8" fill="#d6f53c"/>
<polygon points="124.6,331.5 129.3,328.8 125,328.1 120.2,330.8" fill="#fd6536"/>
<polygon points="133.8,329.6 138.4,327 134,326.2 129.3,328.8" fill="#fc4c36"/>
<polygon points="83.1,346.1 88.1,342.4 84.1,342.2 79,345.9" fill="#faf53c"/>
<polygon points="143,328 147.6,325.6 143,324.7 138.4,327" fill="#fa3e34"/>
<polygon points="50.5,362.7 55.8,358.2 52,358.4 46.7,362.9" fill="#69f347"/>
<polygon points="152.2,326.7 156.7,324.5 152.1,323.4 147.6,325.6" fill="#f73a33"/>
<polygon points="92.2,342.7 97.2,339.2 93.1,338.9 88.1,342.4" fill="#fcd43a"/>
<polygon points="161.4,325.7 165.8,323.7 161.2,322.5 156.7,324.5" fill="#f43632"/>
<polygon points="170.6,325.1 175,323.3 170.2,321.9 165.8,323.7" fill="#f33430"/>
<polygon points="179.8,324.7 184.1,323.1 179.3,321.6 175,323.3" fill="#f23330"/>
<polygon points="101.4,339.6 106.3,336.3 102.1,335.9 97.2,339.2" fill="#feb537"/>
<polygon points="59.6,358.2 64.8,353.9 61,353.9 55.8,358.2" fill="#95f63e"/>
<polygon points="189,324.7 193.3,323.3 188.4,321.6 184.1,323.1" fill="#f23330"/>
<polygon points="235.1,329.6 239,328.9 233.8,326.5 229.9,327.1" fill="#fc4532"/>
<polygon points="198.2,325.1 202.4,323.8 197.5,322 193.3,323.3" fill="#f2322f"/>
<polygon points="225.9,328 229.9,327.1 224.7,324.9 220.7,325.7" fill="#f93b31"/>
<polygon points="207.5,325.7 211.6,324.6 206.6,322.6 202.4,323.8" fill="#f43430"/>
<polygon points="216.7,326.7 220.7,325.7 215.6,323.6 211.6,324.6" fill="#f63731"/>
<polygon points="110.6,336.8 115.4,333.8 111.2,333.2 106.3,336.3" fill="#ff9a36"/>
<polygon points="68.8,353.9 73.9,349.8 70,349.8 64.8,353.9" fill="#bef63d"/>
<polygon points="119.8,334.4 124.6,331.5 120.2,330.8 115.4,333.8" fill="#fe7a36"/>
<polygon points="129,332.3 133.8,329.6 129.3,328.8 124.6,331.5" fill="#fd5e36"/>
<polygon points="77.9,350 83.1,346.1 79,345.9 73.9,349.8" fill="#e3f63d"/>
<polygon points="138.3,330.5 143,328 138.4,327 133.8,329.6" fill="#fc4536"/>
<polygon points="87.1,346.3 92.2,342.7 88.1,342.4 83.1,346.1" fill="#fbea3b"/>
<polygon points="147.5,329 152.2,326.7 147.6,325.6 143,328" fill="#f93d35"/>
<polygon points="156.8,327.8 161.4,325.7 156.7,324.5 152.2,326.7" fill="#f63933"/>
<polygon points="54.3,362.6 59.6,358.2 55.8,358.2 50.5,362.7" fill="#79f445"/>
<polygon points="166.1,327 170.6,325.1 165.8,323.7 161.4,325.7" fill="#f43732"/>
<polygon points="96.4,343.1 101.4,339.6 97.2,339.2 92.2,342.7" fill="#fcca3a"/>
<polygon points="175.4,326.5 179.8,324.7 175,323.3 170.6,325.1" fill="#f33531"/>
<polygon points="184.7,326.3 189,324.7 184.1,323.1 179.8,324.7" fill="#f23330"/>
<polygon points="240.5,332.1 244.3,331.5 239,328.9 235.1,329.6" fill="#fd5432"/>
<polygon points="194,326.5 198.2,325.1 193.3,323.3 189,324.7" fill="#f33430"/>
<polygon points="231.2,330.3 235.1,329.6 229.9,327.1 225.9,328" fill="#fc3e33"/>
<polygon points="203.3,327 207.5,325.7 202.4,323.8 198.2,325.1" fill="#f43531"/>
<polygon points="221.9,328.9 225.9,328 220.7,325.7 216.7,326.7" fill="#f83a32"/>
<polygon points="105.6,340.1 110.6,336.8 106.3,336.3 101.4,339.6" fill="#feac38"/>
<polygon points="212.6,327.8 216.7,326.7 211.6,324.6 207.5,325.7" fill="#f63730"/>
<polygon points="63.5,358.2 68.8,353.9 64.8,353.9 59.6,358.2" fill="#a3f63e"/>
<polygon points="114.9,337.4 119.8,334.4 115.4,333.8 110.6,336.8" fill="#ff8f36"/>
<polygon points="72.8,354 77.9,350 73.9,349.8 68.8,353.9" fill="#cbf63d"/>
<polygon points="124.2,335.1 129,332.3 124.6,331.5 119.8,334.4" fill="#fe7136"/>
<polygon points="133.5,333.1 138.3,330.5 133.8,329.6 129,332.3" fill="#fd5737"/>
<polygon points="82,350.2 87.1,346.3 83.1,346.1 77.9,350" fill="#eff63d"/>
<polygon points="142.9,331.5 147.5,329 143,328 138.3,330.5" fill="#fc4236"/>
<polygon points="152.2,330.1 156.8,327.8 152.2,326.7 147.5,329" fill="#f83d35"/>
<polygon points="91.3,346.7 96.4,343.1 92.2,342.7 87.1,346.3" fill="#fbdf3c"/>
<polygon points="161.6,329.1 166.1,327 161.4,325.7 156.8,327.8" fill="#f63934"/>
<polygon points="170.9,328.4 175.4,326.5 170.6,325.1 166.1,327" fill="#f43732"/>
<polygon points="58.2,362.6 63.5,358.2 59.6,358.2 54.3,362.6" fill="#89f542"/>
<polygon points="100.6,343.5 105.6,340.1 101.4,339.6 96.4,343.1" fill="#fdbf39"/>
<polygon points="180.3,328.1 184.7,326.3 179.8,324.7 175.4,326.5" fill="#f33631"/>
<polygon points="245.9,334.8 249.7,334.2 244.3,331.5 240.5,332.1" fill="#fd6533"/>
<polygon points="189.7,328 194,326.5 189,324.7 184.7,326.3" fill="#f33531"/>
<polygon points="236.5,332.8 240.5,332.1 235.1,329.6 231.2,330.3" fill="#fc4c33"/>
<polygon points="199,328.4 203.3,327 198.2,325.1 194,326.5" fill="#f43531"/>
<polygon points="227.2,331.2 231.2,330.3 225.9,328 221.9,328.9" fill="#fb3d32"/>
<polygon points="208.4,329 212.6,327.8 207.5,325.7 203.3,327" fill="#f53731"/>
<polygon points="217.8,329.9 221.9,328.9 216.7,326.7 212.6,327.8" fill="#f83932"/>
<polygon points="110,340.7 114.9,337.4 110.6,336.8 105.6,340.1" fill="#ffa437"/>
<polygon points="67.5,358.2 72.8,354 68.8,353.9 63.5,358.2" fill="#b2f63e"/>
<polygon points="119.3,338.1 124.2,335.1 119.8,334.4 114.9,337.4" fill="#fe8637"/>
<polygon points="76.8,354.2 82,350.2 77.9,350 72.8,354" fill="#d7f63e"/>
<polygon points="128.7,335.9 133.5,333.1 129,332.3 124.2,335.1" fill="#fd6a37"/>
<polygon points="138.1,334.1 142.9,331.5 138.3,330.5 133.5,333.1" fill="#fd5237"/>
<polygon points="86.2,350.5 91.3,346.7 87.1,346.3 82,350.2" fill="#faf63d"/>
<polygon points="147.5,332.6 152.2,330.1 147.5,329 142.9,331.5" fill="#fb4137"/>
<polygon points="156.9,331.4 161.6,329.1 156.8,327.8 152.2,330.1" fill="#f83d34"/>
<polygon points="95.6,347.1 100.6,343.5 96.4,343.1 91.3,346.7" fill="#fcd43b"/>
<polygon points="166.4,330.5 170.9,328.4 166.1,327 161.6,329.1" fill="#f63a34"/>
<polygon points="175.8,330 180.3,328.1 175.4,326.5 170.9,328.4" fill="#f43733"/>
<polygon points="185.3,329.7 189.7,328 184.7,326.3 180.3,328.1" fill="#f43632"/>
<polygon points="241.9,335.5 245.9,334.8 240.5,332.1 236.5,332.8" fill="#fd5c33"/>
<polygon points="194.7,329.9 199,328.4 194,326.5 189.7,328" fill="#f43732"/>
<polygon points="105,344.1 110,340.7 105.6,340.1 100.6,343.5" fill="#fdb73a"/>
<polygon points="232.5,333.7 236.5,332.8 231.2,330.3 227.2,331.2" fill="#fc4634"/>
<polygon points="62.2,362.7 67.5,358.2 63.5,358.2 58.2,362.6" fill="#97f640"/>
<polygon points="204.2,330.3 208.4,329 203.3,327 199,328.4" fill="#f53832"/>
<polygon points="223.1,332.3 227.2,331.2 221.9,328.9 217.8,329.9" fill="#fa3d33"/>
<polygon points="213.6,331.1 217.8,329.9 212.6,327.8 208.4,329" fill="#f73a32"/>
<polygon points="114.4,341.3 119.3,338.1 114.9,337.4 110,340.7" fill="#ff9c37"/>
<polygon points="71.6,358.4 76.8,354.2 72.8,354 67.5,358.2" fill="#bff63e"/>
<polygon points="123.8,338.9 128.7,335.9 124.2,335.1 119.3,338.1" fill="#fe7d37"/>
<polygon points="133.3,336.9 138.1,334.1 133.5,333.1 128.7,335.9" fill="#fd6338"/>
<polygon points="81,354.5 86.2,350.5 82,350.2 76.8,354.2" fill="#e4f63e"/>
<polygon points="142.8,335.2 147.5,332.6 142.9,331.5 138.1,334.1" fill="#fc4d37"/>
<polygon points="152.3,333.8 156.9,331.4 152.2,330.1 147.5,332.6" fill="#fa4036"/>
<polygon points="90.4,350.9 95.6,347.1 91.3,346.7 86.2,350.5" fill="#fbea3d"/>
<polygon points="161.8,332.7 166.4,330.5 161.6,329.1 156.9,331.4" fill="#f83d35"/>
<polygon points="171.3,332 175.8,330 170.9,328.4 166.4,330.5" fill="#f63a34"/>
<polygon points="99.9,347.6 105,344.1 100.6,343.5 95.6,347.1" fill="#fccb3b"/>
<polygon points="180.8,331.6 185.3,329.7 180.3,328.1 175.8,330" fill="#f53933"/>
<polygon points="190.3,331.5 194.7,329.9 189.7,328 185.3,329.7" fill="#f53833"/>
<polygon points="237.9,336.3 241.9,335.5 236.5,332.8 232.5,333.7" fill="#fd5534"/>
<polygon points="199.9,331.8 204.2,330.3 199,328.4 194.7,329.9" fill="#f53832"/>
<polygon points="228.4,334.7 232.5,333.7 227.2,331.2 223.1,332.3" fill="#fc4134"/>
<polygon points="209.4,332.5 213.6,331.1 208.4,329 204.2,330.3" fill="#f73a33"/>
<polygon points="218.9,333.4 223.1,332.3 217.8,329.9 213.6,331.1" fill="#f93c34"/>
<polygon points="109.4,344.7 114.4,341.3 110,340.7 105,344.1" fill="#feae39"/>
<polygon points="66.2,362.8 71.6,358.4 67.5,358.2 62.2,362.7" fill="#a5f63f"/>
<polygon points="118.9,342.1 123.8,338.9 119.3,338.1 114.4,341.3" fill="#ff9438"/>
<polygon points="75.7,358.7 81,354.5 76.8,354.2 71.6,358.4" fill="#cbf63f"/>
<polygon points="128.4,339.8 133.3,336.9 128.7,335.9 123.8,338.9" fill="#fe7737"/>
<polygon points="137.9,337.9 142.8,335.2 138.1,334.1 133.3,336.9" fill="#fd5e38"/>
<polygon points="85.2,354.9 90.4,350.9 86.2,350.5 81,354.5" fill="#eef63e"/>
<polygon points="147.5,336.3 152.3,333.8 147.5,332.6 142.8,335.2" fill="#fc4a38"/>
<polygon points="157.1,335.1 161.8,332.7 156.9,331.4 152.3,333.8" fill="#fa4136"/>
<polygon points="94.7,351.4 99.9,347.6 95.6,347.1 90.4,350.9" fill="#fbe13d"/>
<polygon points="166.7,334.2 171.3,332 166.4,330.5 161.8,332.7" fill="#f83e35"/>
<polygon points="176.3,333.6 180.8,331.6 175.8,330 171.3,332" fill="#f63b35"/>
<polygon points="185.9,333.4 190.3,331.5 185.3,329.7 180.8,331.6" fill="#f63a34"/>
<polygon points="104.3,348.2 109.4,344.7 105,344.1 99.9,347.6" fill="#fdc33b"/>
<polygon points="195.5,333.5 199.9,331.8 194.7,329.9 190.3,331.5" fill="#f63a34"/>
<polygon points="233.9,337.3 237.9,336.3 232.5,333.7 228.4,334.7" fill="#fd5035"/>
<polygon points="205.1,333.9 209.4,332.5 204.2,330.3 199.9,331.8" fill="#f73a34"/>
<polygon points="224.3,335.8 228.4,334.7 223.1,332.3 218.9,333.4" fill="#fb4035"/>
<polygon points="214.7,334.7 218.9,333.4 213.6,331.1 209.4,332.5" fill="#f93d34"/>
<polygon points="113.8,345.4 118.9,342.1 114.4,341.3 109.4,344.7" fill="#fea739"/>
<polygon points="70.3,363 75.7,358.7 71.6,358.4 66.2,362.8" fill="#b1f63f"/>
<polygon points="123.4,343 128.4,339.8 123.8,338.9 118.9,342.1" fill="#fe8c38"/>
<polygon points="133,340.8 137.9,337.9 133.3,336.9 128.4,339.8" fill="#fe7138"/>
<polygon points="79.9,359 85.2,354.9 81,354.5 75.7,358.7" fill="#d7f63f"/>
<polygon points="142.7,339 147.5,336.3 142.8,335.2 137.9,337.9" fill="#fd5b38"/>
<polygon points="89.5,355.3 94.7,351.4 90.4,350.9 85.2,354.9" fill="#f8f63f"/>
<polygon points="152.3,337.6 157.1,335.1 152.3,333.8 147.5,336.3" fill="#fc4738"/>
<polygon points="162,336.5 166.7,334.2 161.8,332.7 157.1,335.1" fill="#fa4037"/>
<polygon points="171.7,335.7 176.3,333.6 171.3,332 166.7,334.2" fill="#f83e35"/>
<polygon points="99.1,352 104.3,348.2 99.9,347.6 94.7,351.4" fill="#fcd73c"/>
<polygon points="181.3,335.3 185.9,333.4 180.8,331.6 176.3,333.6" fill="#f73d35"/>
<polygon points="191,335.2 195.5,333.5 190.3,331.5 185.9,333.4" fill="#f73b35"/>
<polygon points="200.7,335.5 205.1,333.9 199.9,331.8 195.5,333.5" fill="#f73c34"/>
<polygon points="229.7,338.4 233.9,337.3 228.4,334.7 224.3,335.8" fill="#fc4c35"/>
<polygon points="210.4,336.1 214.7,334.7 209.4,332.5 205.1,333.9" fill="#f93e35"/>
<polygon points="220,337.1 224.3,335.8 218.9,333.4 214.7,334.7" fill="#fb4036"/>
<polygon points="108.7,348.9 113.8,345.4 109.4,344.7 104.3,348.2" fill="#fdbb3b"/>
<polygon points="118.4,346.3 123.4,343 118.9,342.1 113.8,345.4" fill="#ffa239"/>
<polygon points="74.5,363.3 79.9,359 75.7,358.7 70.3,363" fill="#bef640"/>
<polygon points="128.1,343.9 133,340.8 128.4,339.8 123.4,343" fill="#fe8538"/>
<polygon points="137.8,341.9 142.7,339 137.9,337.9 133,340.8" fill="#fd6c39"/>
<polygon points="84.2,359.4 89.5,355.3 85.2,354.9 79.9,359" fill="#e1f63f"/>
<polygon points="147.5,340.3 152.3,337.6 147.5,336.3 142.7,339" fill="#fd5739"/>
<polygon points="157.2,339 162,336.5 157.1,335.1 152.3,337.6" fill="#fc4738"/>
<polygon points="93.8,355.9 99.1,352 94.7,351.4 89.5,355.3" fill="#faed3f"/>
<polygon points="167,338 171.7,335.7 166.7,334.2 162,336.5" fill="#fa4137"/>
<polygon points="176.7,337.4 181.3,335.3 176.3,333.6 171.7,335.7" fill="#f93f37"/>
<polygon points="103.5,352.6 108.7,348.9 104.3,348.2 99.1,352" fill="#fccf3d"/>
<polygon points="186.5,337.2 191,335.2 185.9,333.4 181.3,335.3" fill="#f83e35"/>
<polygon points="196.2,337.3 200.7,335.5 195.5,333.5 191,335.2" fill="#f83e35"/>
<polygon points="206,337.7 210.4,336.1 205.1,333.9 200.7,335.5" fill="#f93e36"/>
<polygon points="225.5,339.6 229.7,338.4 224.3,335.8 220,337.1" fill="#fc4836"/>
<polygon points="215.8,338.5 220,337.1 214.7,334.7 210.4,336.1" fill="#fb4036"/>
<polygon points="113.3,349.7 118.4,346.3 113.8,345.4 108.7,348.9" fill="#feb43a"/>
<polygon points="123,347.2 128.1,343.9 123.4,343 118.4,346.3" fill="#ff9b39"/>
<polygon points="78.8,363.8 84.2,359.4 79.9,359 74.5,363.3" fill="#c9f640"/>
<polygon points="132.8,345 137.8,341.9 133,340.8 128.1,343.9" fill="#fe8039"/>
<polygon points="142.6,343.2 147.5,340.3 142.7,339 137.8,341.9" fill="#fd6939"/>
<polygon points="88.5,360 93.8,355.9 89.5,355.3 84.2,359.4" fill="#ebf640"/>
<polygon points="152.4,341.7 157.2,339 152.3,337.6 147.5,340.3" fill="#fd5539"/>
<polygon points="162.2,340.5 167,338 162,336.5 157.2,339" fill="#fc4739"/>
<polygon points="98.3,356.5 103.5,352.6 99.1,352 93.8,355.9" fill="#fbe53e"/>
<polygon points="172,339.7 176.7,337.4 171.7,335.7 167,338" fill="#fb4237"/>
<polygon points="181.9,339.2 186.5,337.2 181.3,335.3 176.7,337.4" fill="#f94137"/>
<polygon points="191.7,339.1 196.2,337.3 191,335.2 186.5,337.2" fill="#f93f37"/>
<polygon points="201.5,339.4 206,337.7 200.7,335.5 196.2,337.3" fill="#fa4036"/>
<polygon points="108.1,353.4 113.3,349.7 108.7,348.9 103.5,352.6" fill="#fdc83c"/>
<polygon points="211.4,340 215.8,338.5 210.4,336.1 206,337.7" fill="#fb4237"/>
<polygon points="221.2,340.9 225.5,339.6 220,337.1 215.8,338.5" fill="#fc4837"/>
<polygon points="117.9,350.6 123,347.2 118.4,346.3 113.3,349.7" fill="#fead3b"/>
<polygon points="127.7,348.2 132.8,345 128.1,343.9 123,347.2" fill="#ff9639"/>
<polygon points="137.6,346.2 142.6,343.2 137.8,341.9 132.8,345" fill="#fe7c39"/>
<polygon points="83.1,364.3 88.5,360 84.2,359.4 78.8,363.8" fill="#d4f640"/>
<polygon points="147.5,344.5 152.4,341.7 147.5,340.3 142.6,343.2" fill="#fd663a"/>
<polygon points="92.9,360.6 98.3,356.5 93.8,355.9 88.5,360" fill="#f5f640"/>
<polygon points="157.4,343.1 162.2,340.5 157.2,339 152.4,341.7" fill="#fd5539"/>
<polygon points="167.3,342.1 172,339.7 167,338 162.2,340.5" fill="#fc4839"/>
<polygon points="177.2,341.5 181.9,339.2 176.7,337.4 172,339.7" fill="#fb4339"/>
<polygon points="102.8,357.3 108.1,353.4 103.5,352.6 98.3,356.5" fill="#fbdc3f"/>
<polygon points="187.1,341.2 191.7,339.1 186.5,337.2 181.9,339.2" fill="#fa4237"/>
<polygon points="197,341.2 201.5,339.4 196.2,337.3 191.7,339.1" fill="#fa4237"/>
<polygon points="206.9,341.7 211.4,340 206,337.7 201.5,339.4" fill="#fb4238"/>
<polygon points="216.9,342.4 221.2,340.9 215.8,338.5 211.4,340" fill="#fc4937"/>
<polygon points="112.7,354.3 117.9,350.6 113.3,349.7 108.1,353.4" fill="#fdc13c"/>
<polygon points="122.6,351.7 127.7,348.2 123,347.2 117.9,350.6" fill="#fea93b"/>
<polygon points="132.5,349.4 137.6,346.2 132.8,345 127.7,348.2" fill="#ff903a"/>
<polygon points="142.5,347.5 147.5,344.5 142.6,343.2 137.6,346.2" fill="#fe7839"/>
<polygon points="87.5,364.8 92.9,360.6 88.5,360 83.1,364.3" fill="#def641"/>
<polygon points="152.5,345.9 157.4,343.1 152.4,341.7 147.5,344.5" fill="#fd653a"/>
<polygon points="162.4,344.7 167.3,342.1 162.2,340.5 157.4,343.1" fill="#fd563a"/>
<polygon points="97.5,361.3 102.8,357.3 98.3,356.5 92.9,360.6" fill="#faf340"/>
<polygon points="172.4,343.9 177.2,341.5 172,339.7 167.3,342.1" fill="#fc4b39"/>
<polygon points="182.4,343.4 187.1,341.2 181.9,339.2 177.2,341.5" fill="#fc4439"/>
<polygon points="192.4,343.3 197,341.2 191.7,339.1 187.1,341.2" fill="#fc4339"/>
<polygon points="107.4,358.1 112.7,354.3 108.1,353.4 102.8,357.3" fill="#fcd53e"/>
<polygon points="202.4,343.5 206.9,341.7 201.5,339.4 197,341.2" fill="#fc4438"/>
<polygon points="212.4,344.1 216.9,342.4 211.4,340 206.9,341.7" fill="#fc4a38"/>
<polygon points="117.4,355.3 122.6,351.7 117.9,350.6 112.7,354.3" fill="#fdbb3d"/>
<polygon points="127.4,352.8 132.5,349.4 127.7,348.2 122.6,351.7" fill="#ffa43a"/>
<polygon points="137.4,350.7 142.5,347.5 137.6,346.2 132.5,349.4" fill="#fe8d3a"/>
<polygon points="147.5,348.9 152.5,345.9 147.5,344.5 142.5,347.5" fill="#fe773a"/>
<polygon points="92,365.5 97.5,361.3 92.9,360.6 87.5,364.8" fill="#e7f641"/>
<polygon points="157.5,347.5 162.4,344.7 157.4,343.1 152.5,345.9" fill="#fd653a"/>
<polygon points="167.6,346.4 172.4,343.9 167.3,342.1 162.4,344.7" fill="#fd573a"/>
<polygon points="177.7,345.8 182.4,343.4 177.2,341.5 172.4,343.9" fill="#fc4e3a"/>
<polygon points="102.1,362.1 107.4,358.1 102.8,357.3 97.5,361.3" fill="#fbeb40"/>
<polygon points="187.7,345.4 192.4,343.3 187.1,341.2 182.4,343.4" fill="#fc4a39"/>
<polygon points="197.8,345.5 202.4,343.5 197,341.2 192.4,343.3" fill="#fc4a39"/>
<polygon points="207.9,345.9 212.4,344.1 206.9,341.7 202.4,343.5" fill="#fc4e39"/>
<polygon points="112.1,359.1 117.4,355.3 112.7,354.3 107.4,358.1" fill="#fccf3e"/>
<polygon points="122.2,356.4 127.4,352.8 122.6,351.7 117.4,355.3" fill="#feb63c"/>
<polygon points="132.3,354 137.4,350.7 132.5,349.4 127.4,352.8" fill="#ffa13b"/>
<polygon points="142.4,352 147.5,348.9 142.5,347.5 137.4,350.7" fill="#fe893a"/>
<polygon points="152.5,350.4 157.5,347.5 152.5,345.9 147.5,348.9" fill="#fe753a"/>
<polygon points="162.7,349.2 167.6,346.4 162.4,344.7 157.5,347.5" fill="#fd663b"/>
<polygon points="96.6,366.3 102.1,362.1 97.5,361.3 92,365.5" fill="#eef641"/>
<polygon points="172.8,348.3 177.7,345.8 172.4,343.9 167.6,346.4" fill="#fd5a3a"/>
<polygon points="183,347.8 187.7,345.4 182.4,343.4 177.7,345.8" fill="#fc533a"/>
<polygon points="106.7,363 112.1,359.1 107.4,358.1 102.1,362.1" fill="#fbe440"/>
<polygon points="193.2,347.6 197.8,345.5 192.4,343.3 187.7,345.4" fill="#fc513a"/>
<polygon points="203.3,347.8 207.9,345.9 202.4,343.5 197.8,345.5" fill="#fc5339"/>
<polygon points="116.9,360.1 122.2,356.4 117.4,355.3 112.1,359.1" fill="#fdc93e"/>
<polygon points="127,357.6 132.3,354 127.4,352.8 122.2,356.4" fill="#feb23c"/>
<polygon points="137.2,355.4 142.4,352 137.4,350.7 132.3,354" fill="#ff9e3b"/>
<polygon points="147.4,353.5 152.5,350.4 147.5,348.9 142.4,352" fill="#fe873b"/>
<polygon points="157.7,352.1 162.7,349.2 157.5,347.5 152.5,350.4" fill="#fe763a"/>
<polygon points="167.9,351 172.8,348.3 167.6,346.4 162.7,349.2" fill="#fd683b"/>
<polygon points="101.3,367.2 106.7,363 102.1,362.1 96.6,366.3" fill="#f6f642"/>
<polygon points="178.1,350.3 183,347.8 177.7,345.8 172.8,348.3" fill="#fd5f3b"/>
<polygon points="188.4,349.9 193.2,347.6 187.7,345.4 183,347.8" fill="#fd5a3a"/>
<polygon points="198.7,349.9 203.3,347.8 197.8,345.5 193.2,347.6" fill="#fd593a"/>
<polygon points="111.5,364.1 116.9,360.1 112.1,359.1 106.7,363" fill="#fbde40"/>
<polygon points="121.7,361.3 127,357.6 122.2,356.4 116.9,360.1" fill="#fdc53e"/>
<polygon points="132,358.9 137.2,355.4 132.3,354 127,357.6" fill="#feaf3d"/>
<polygon points="142.3,356.8 147.4,353.5 142.4,352 137.2,355.4" fill="#ff9b3c"/>
<polygon points="152.6,355.2 157.7,352.1 152.5,350.4 147.4,353.5" fill="#fe883b"/>
<polygon points="162.9,353.9 167.9,351 162.7,349.2 157.7,352.1" fill="#fe783b"/>
<polygon points="173.2,352.9 178.1,350.3 172.8,348.3 167.9,351" fill="#fd6c3b"/>
<polygon points="183.6,352.4 188.4,349.9 183,347.8 178.1,350.3" fill="#fd643b"/>
<polygon points="106,368.2 111.5,364.1 106.7,363 101.3,367.2" fill="#faf442"/>
<polygon points="193.9,352.2 198.7,349.9 193.2,347.6 188.4,349.9" fill="#fd613b"/>
<polygon points="116.3,365.2 121.7,361.3 116.9,360.1 111.5,364.1" fill="#fcd940"/>
<polygon points="126.7,362.6 132,358.9 127,357.6 121.7,361.3" fill="#fdc13e"/>
<polygon points="137,360.3 142.3,356.8 137.2,355.4 132,358.9" fill="#feac3d"/>
<polygon points="147.4,358.4 152.6,355.2 147.4,353.5 142.3,356.8" fill="#ff9b3c"/>
<polygon points="157.8,356.9 162.9,353.9 157.7,352.1 152.6,355.2" fill="#fe883c"/>
<polygon points="168.2,355.8 173.2,352.9 167.9,351 162.9,353.9" fill="#fe7b3b"/>
<polygon points="178.6,355 183.6,352.4 178.1,350.3 173.2,352.9" fill="#fd703c"/>
<polygon points="189.1,354.6 193.9,352.2 188.4,349.9 183.6,352.4" fill="#fd6b3b"/>
<polygon points="110.9,369.4 116.3,365.2 111.5,364.1 106,368.2" fill="#faee42"/>
<polygon points="121.3,366.5 126.7,362.6 121.7,361.3 116.3,365.2" fill="#fcd540"/>
<polygon points="131.7,364 137,360.3 132,358.9 126.7,362.6" fill="#fdbe3f"/>
<polygon points="142.2,361.9 147.4,358.4 142.3,356.8 137,360.3" fill="#feab3e"/>
<polygon points="152.7,360.2 157.8,356.9 152.6,355.2 147.4,358.4" fill="#ff9b3c"/>
<polygon points="163.1,358.8 168.2,355.8 162.9,353.9 157.8,356.9" fill="#fe8a3c"/>
<polygon points="173.6,357.8 178.6,355 173.2,352.9 168.2,355.8" fill="#fe7f3c"/>
<polygon points="184.2,357.2 189.1,354.6 183.6,352.4 178.6,355" fill="#fe773b"/>
<polygon points="115.8,370.6 121.3,366.5 116.3,365.2 110.9,369.4" fill="#fbe942"/>
<polygon points="126.3,367.9 131.7,364 126.7,362.6 121.3,366.5" fill="#fcd140"/>
<polygon points="136.8,365.5 142.2,361.9 137,360.3 131.7,364" fill="#fdbc3f"/>
<polygon points="147.4,363.6 152.7,360.2 147.4,358.4 142.2,361.9" fill="#feaa3e"/>
<polygon points="158,362 163.1,358.8 157.8,356.9 152.7,360.2" fill="#ff9c3d"/>
<polygon points="168.6,360.8 173.6,357.8 168.2,355.8 163.1,358.8" fill="#fe8d3c"/>
<polygon points="179.2,360 184.2,357.2 178.6,355 173.6,357.8" fill="#fe833c"/>
<polygon points="120.8,372 126.3,367.9 121.3,366.5 115.8,370.6" fill="#fbe442"/>
<polygon points="131.4,369.4 136.8,365.5 131.7,364 126.3,367.9" fill="#fcce41"/>
<polygon points="142.1,367.2 147.4,363.6 142.2,361.9 136.8,365.5" fill="#fdbb40"/>
<polygon points="152.7,365.4 158,362 152.7,360.2 147.4,363.6" fill="#feab3e"/>
<polygon points="163.4,364 168.6,360.8 163.1,358.8 158,362" fill="#ff9e3d"/>
<polygon points="174.1,363 179.2,360 173.6,357.8 168.6,360.8" fill="#ff923d"/>
<polygon points="125.9,373.5 131.4,369.4 126.3,367.9 120.8,372" fill="#fbe242"/>
<polygon points="136.6,371 142.1,367.2 136.8,365.5 131.4,369.4" fill="#fccd41"/>
<polygon points="147.4,369 152.7,365.4 147.4,363.6 142.1,367.2" fill="#fdbb40"/>
<polygon points="158.1,367.4 163.4,364 158,362 152.7,365.4" fill="#feac3f"/>
<polygon points="168.9,366.1 174.1,363 168.6,360.8 163.4,364" fill="#ffa13d"/>
<polygon points="131.1,375.1 136.6,371 131.4,369.4 125.9,373.5" fill="#fbdf43"/>
<polygon points="142,372.8 147.4,369 142.1,367.2 136.6,371" fill="#fccc41"/>
<polygon points="152.8,370.9 158.1,367.4 152.7,365.4 147.4,369" fill="#fdbb40"/>
<polygon points="163.7,369.5 168.9,366.1 163.4,364 158.1,367.4" fill="#feae3f"/>
<polygon points="136.4,376.8 142,372.8 136.6,371 131.1,375.1" fill="#fbde43"/>
<polygon points="147.4,374.7 152.8,370.9 147.4,369 142,372.8" fill="#fccc42"/>
<polygon points="158.3,373 163.7,369.5 158.1,367.4 152.8,370.9" fill="#fdbd41"/>
<polygon points="141.8,378.7 147.4,374.7 142,372.8 136.4,376.8" fill="#fbdd43"/>
<polygon points="152.9,376.8 158.3,373 152.8,370.9 147.4,374.7" fill="#fccd42"/>
<polygon points="147.3,380.7 152.9,376.8 147.4,374.7 141.8,378.7" fill="#fbdd44"/>
</g>
<line x1="99.6" y1="318.8" x2="99.6" y2="324" stroke="#444" stroke-width="0.6"/>
<circle cx="99.6" cy="318.8" r="2.1" fill="#b80d14" stroke="#700000" stroke-width="0.6"/>
<circle cx="148" cy="328.2" r="2.1" fill="#b80d14" stroke="#700000" stroke-width="0.6"/>
<circle cx="93.5" cy="357.2" r="2.1" fill="#b80d14" stroke="#700000" stroke-width="0.6"/>
<g font-family="'Liberation Sans',sans-serif" font-size="4.6" fill="#4d4d4d">
<circle cx="49.1" cy="415.5" r="1" fill="#111"/>
<text x="46.1" y="414.3" text-anchor="end">400</text>
<circle cx="48.1" cy="393.9" r="1" fill="#111"/>
<text x="45.1" y="392.7" text-anchor="end">500</text>
<circle cx="47.2" cy="372.4" r="1" fill="#111"/>
<text x="44.2" y="371.2" text-anchor="end">600</text>
<circle cx="46.2" cy="350.8" r="1" fill="#111"/>
<text x="43.2" y="349.6" text-anchor="end">700</text>
<circle cx="45.2" cy="329.2" r="1" fill="#111"/>
<text x="42.2" y="328" text-anchor="end">800</text>
<circle cx="44.2" cy="307.6" r="1" fill="#111"/>
<text x="41.2" y="306.4" text-anchor="end">900</text>
<circle cx="50.6" cy="449.4" r="1" fill="#111"/>
<text x="46.6" y="453.4" text-anchor="middle">1</text>
<circle cx="244.7" cy="449.3" r="1" fill="#111"/>
<text x="248.7" y="453.9" text-anchor="middle">1</text>
<circle cx="74.8" cy="461.7" r="1" fill="#111"/>
<text x="68.3" y="466.7" text-anchor="middle">0.5</text>
<circle cx="220.4" cy="461.6" r="1" fill="#111"/>
<text x="226.9" y="466.6" text-anchor="middle">0.5</text>
<circle cx="99" cy="473.9" r="1" fill="#111"/>
<text x="94.5" y="478.9" text-anchor="middle">0</text>
<circle cx="196.1" cy="473.8" r="1" fill="#111"/>
<text x="199.5" y="478.8" text-anchor="middle">0</text>
<circle cx="123.2" cy="486.1" r="1" fill="#111"/>
<text x="116.7" y="491.1" text-anchor="middle">-0.5</text>
<circle cx="171.8" cy="486.1" r="1" fill="#111"/>
<text x="178.3" y="491.1" text-anchor="middle">-0.5</text>
<circle cx="147.4" cy="498.3" r="1" fill="#111"/>
<text x="142.9" y="503.7" text-anchor="middle">-1</text>
<text x="151.9" y="503.7" text-anchor="middle">-1</text>
<text x="61.9" y="492.1" text-anchor="middle">B: Speed (mm/s)</text>
<text x="232.7" y="492.1" text-anchor="middle">A: Power (W)</text>
<text transform="translate(11.7,381.1) rotate(-90)" text-anchor="middle" font-size="4.75">Ultimate Tensile Strenght (MPa)</text>
</g>
<text x="130" y="531.8" text-anchor="middle" font-family="'Liberation Serif',serif" font-size="13.8" fill="#111">(<tspan font-weight="bold">c</tspan>)</text>
<polygon points="339.2,449.3 436.3,498.1 533.4,449.1 436.6,410.7" fill="#5b5b5b"/>
<polyline points="372.4,465.9 370.9,464.8 369.1,463.4 367.8,462.3 366.5,461.3 364.8,459.9 363.8,459.1 362.3,457.8 360.7,456.4 359.9,455.7 358.4,454.4 357.3,453.4 356.1,452.3 354.6,450.9 353.9,450.2 352.5,448.8 351.8,448.1 350.4,446.7 349.8,446" fill="none" stroke="#25d0b9" stroke-width="1.1"/>
<polyline points="439.9,496.2 437.1,494.9 434.4,493.5 431.6,492.2 429,490.9 426.3,489.5 423.7,488.2 421.2,486.8 418.6,485.5 416.2,484.1 413.7,482.7 412.5,482.1 410.2,480.7 407.8,479.3 405.5,478 403.3,476.6 401.1,475.2 400,474.5 397.8,473.2 395.7,471.8 393.6,470.4 391.8,469.2 390.6,468.4 388.6,467 386.6,465.6 385.6,464.9 383.8,463.6 382,462.2 380.7,461.2 379.3,460.1 377.5,458.8 376.5,457.9 374.9,456.7 373.3,455.3 372.5,454.6 370.9,453.3 369.7,452.2 368.5,451.2 367,449.8 366.3,449.1 364.9,447.7 364.2,447 362.8,445.7 362.1,445 360.8,443.6 360.1,442.9 358.9,441.5" fill="none" stroke="#2ad864" stroke-width="1.1"/>
<polyline points="451.6,490.3 448.7,489.1 445.9,487.8 443.2,486.5 440.4,485.2 437.8,483.9 435.1,482.6 432.6,481.3 430,480 427.5,478.7 425.1,477.4 422.7,476.1 420.3,474.8 418,473.4 415.7,472.1 414.6,471.4 412.3,470.1 410.2,468.8 408,467.4 406.3,466.3 404.9,465.4 402.9,464.1 400.9,462.7 399.8,462 398,460.7 396.1,459.3 394.7,458.3 393.4,457.3 391.6,455.9 390.6,455.2 389,453.9 387.3,452.5 386.5,451.8 384.9,450.5 384,449.7 382.5,448.4 381.3,447.3 380.3,446.3 378.9,445 378.2,444.3 376.8,442.9 376.1,442.2 374.9,440.9 374.2,440.1 373.2,439 372.4,438 371.7,437.1" fill="none" stroke="#6bda31" stroke-width="1.1"/>
<polyline points="463.9,484.1 461,482.9 458.1,481.7 455.3,480.5 452.5,479.3 449.8,478.1 447.1,476.8 444.5,475.6 441.9,474.3 439.4,473.1 436.9,471.8 434.5,470.5 432.1,469.2 429.8,468 427.8,466.8 426.4,466 424.2,464.7 422,463.4 419.9,462.1 418.8,461.4 416.8,460.1 414.8,458.8 412.8,457.5 411.8,456.8 409.9,455.5 408.1,454.1 407.2,453.5 405.4,452.1 404.2,451.1 402.9,450.1 401.2,448.7 400.4,448 398.8,446.7 398,446 396.5,444.6 395.8,443.9 394.4,442.5 393.7,441.8 392.3,440.4 391.7,439.7 390.4,438.3 389.8,437.6 388.8,436.4 388.1,435.5 387.5,434.7 386.5,433.3 386,432.6 385.4,431.7" fill="none" stroke="#ccdc2d" stroke-width="1.1"/>
<polyline points="481.3,475.3 478.2,474.3 475.2,473.3 473.7,472.7 470.8,471.6 467.9,470.5 465.1,469.4 462.3,468.2 459.7,467.1 457,465.9 454.5,464.7 452,463.5 449.5,462.3 447.2,461.1 444.8,459.8 442.6,458.6 441.5,458 439.3,456.7 437.2,455.4 435.1,454.1 434.1,453.5 432.1,452.2 430.2,450.9 429.3,450.2 427.5,448.9 426,447.8 424.8,446.9 423.2,445.5 422.4,444.8 420.8,443.4 420,442.7 418.6,441.3 417.9,440.6 416.7,439.4 415.9,438.5 415.2,437.7 414.1,436.3 413.5,435.6 412.8,434.6 412,433.3 411.5,432.6 411.1,431.8 410.4,430.5 410,429.4 409.7,428.6 409.4,427.8 409.2,427 409,425.9 408.9,424.9 408.8,423.9 408.9,423 409,422.1" fill="none" stroke="#e58528" stroke-width="1.1"/>
<path d="M337.8,415.3 L436.6,380 L535,415.2 M336.8,393.7 L436.6,360.5 L535.9,393.7 M335.9,372.1 L436.7,341.1 L536.9,372.2 M335,350.6 L436.7,321.7 L537.9,350.7 M334.1,329 L436.7,302.3 L538.9,329.1 M333.1,307.4 L436.7,282.8 L539.9,307.6 M362.5,406.5 L359,301.3 M461.2,388.8 L462.5,289 M387.2,397.6 L384.9,295.1 M485.8,397.6 L488.3,295.2 M411.9,388.8 L410.8,289 M510.4,406.4 L514.1,301.4 M339.2,449.3 L333.1,307.4 M436.6,410.7 L436.7,282.8 M533.4,449.1 L539.9,307.6" fill="none" stroke="#585858" stroke-width="0.75"/>
<circle cx="484.1" cy="315" r="2.0" fill="#a30d14" stroke="#7a0000" stroke-width="0.5"/>
<line x1="383" y1="402.6" x2="383" y2="397" stroke="#555" stroke-width="0.6"/>
<circle cx="383" cy="402.6" r="2.1" fill="#fbd5dc" stroke="#c0606e" stroke-width="0.6"/>
<g stroke="#000" stroke-opacity="0.42" stroke-width="0.42" stroke-linejoin="round">
<polygon points="436.7,309.1 440.7,308.9 436.7,308.5 432.7,308.8" fill="#f7342c"/>
<polygon points="440.7,309.6 444.7,309.4 440.7,308.9 436.7,309.1" fill="#f5312b"/>
<polygon points="432.7,309.6 436.7,309.1 432.7,308.8 428.7,309.3" fill="#f5312b"/>
<polygon points="444.8,310.1 448.7,309.9 444.7,309.4 440.7,309.6" fill="#f42f2b"/>
<polygon points="436.7,310.1 440.7,309.6 436.7,309.1 432.7,309.6" fill="#f32f2b"/>
<polygon points="428.6,310.5 432.7,309.6 428.7,309.3 424.7,310.1" fill="#f4302b"/>
<polygon points="448.9,310.6 452.9,310.5 448.7,309.9 444.8,310.1" fill="#f22d2a"/>
<polygon points="424.5,311.6 428.6,310.5 424.7,310.1 420.5,311.2" fill="#f42f2b"/>
<polygon points="440.8,310.6 444.8,310.1 440.7,309.6 436.7,310.1" fill="#f22d2a"/>
<polygon points="432.6,310.9 436.7,310.1 432.7,309.6 428.6,310.5" fill="#f22d2a"/>
<polygon points="420.3,313 424.5,311.6 420.5,311.2 416.3,312.7" fill="#f4302b"/>
<polygon points="453.1,311.2 457.1,311.1 452.9,310.5 448.9,310.6" fill="#f22d2a"/>
<polygon points="428.5,312 432.6,310.9 428.6,310.5 424.5,311.6" fill="#f22d2a"/>
<polygon points="444.9,311.1 448.9,310.6 444.8,310.1 440.8,310.6" fill="#f22d2a"/>
<polygon points="436.7,311.3 440.8,310.6 436.7,310.1 432.6,310.9" fill="#f22d2a"/>
<polygon points="416,314.8 420.3,313 416.3,312.7 412.1,314.4" fill="#f5312b"/>
<polygon points="424.3,313.4 428.5,312 424.5,311.6 420.3,313" fill="#f22d2a"/>
<polygon points="457.4,311.9 461.3,311.8 457.1,311.1 453.1,311.2" fill="#f22d2a"/>
<polygon points="432.5,312.4 436.7,311.3 432.6,310.9 428.5,312" fill="#f22d2a"/>
<polygon points="449.1,311.7 453.1,311.2 448.9,310.6 444.9,311.1" fill="#f22d2a"/>
<polygon points="440.8,311.9 444.9,311.1 440.8,310.6 436.7,311.3" fill="#f22d2a"/>
<polygon points="411.7,316.9 416,314.8 412.1,314.4 407.8,316.5" fill="#f8352d"/>
<polygon points="420,315.1 424.3,313.4 420.3,313 416,314.8" fill="#f32f2b"/>
<polygon points="428.3,313.8 432.5,312.4 428.5,312 424.3,313.4" fill="#f22d2a"/>
<polygon points="461.7,312.6 465.6,312.5 461.3,311.8 457.4,311.9" fill="#f22d2a"/>
<polygon points="436.7,312.9 440.8,311.9 436.7,311.3 432.5,312.4" fill="#f22d2a"/>
<polygon points="453.3,312.3 457.4,311.9 453.1,311.2 449.1,311.7" fill="#f22d2a"/>
<polygon points="445,312.4 449.1,311.7 444.9,311.1 440.8,311.9" fill="#f22d2a"/>
<polygon points="407.3,319.3 411.7,316.9 407.8,316.5 403.4,319" fill="#fb3c32"/>
<polygon points="415.7,317.2 420,315.1 416,314.8 411.7,316.9" fill="#f5322c"/>
<polygon points="424.1,315.6 428.3,313.8 424.3,313.4 420,315.1" fill="#f22d2a"/>
<polygon points="432.5,314.3 436.7,312.9 432.5,312.4 428.3,313.8" fill="#f22d2a"/>
<polygon points="466.1,313.4 470,313.3 465.6,312.5 461.7,312.6" fill="#f22d2a"/>
<polygon points="440.9,313.5 445,312.4 440.8,311.9 436.7,312.9" fill="#f22d2a"/>
<polygon points="457.7,313 461.7,312.6 457.4,311.9 453.3,312.3" fill="#f22d2a"/>
<polygon points="449.3,313.1 453.3,312.3 449.1,311.7 445,312.4" fill="#f22d2a"/>
<polygon points="402.9,322.1 407.3,319.3 403.4,319 399,321.8" fill="#fc4f36"/>
<polygon points="411.3,319.7 415.7,317.2 411.7,316.9 407.3,319.3" fill="#f83a32"/>
<polygon points="419.8,317.7 424.1,315.6 420,315.1 415.7,317.2" fill="#f3312d"/>
<polygon points="428.2,316.1 432.5,314.3 428.3,313.8 424.1,315.6" fill="#f22d2a"/>
<polygon points="436.7,314.9 440.9,313.5 436.7,312.9 432.5,314.3" fill="#f22d2a"/>
<polygon points="470.5,314.2 474.4,314.1 470,313.3 466.1,313.4" fill="#f22d2a"/>
<polygon points="445.1,314.1 449.3,313.1 445,312.4 440.9,313.5" fill="#f22d2a"/>
<polygon points="462,313.8 466.1,313.4 461.7,312.6 457.7,313" fill="#f22d2a"/>
<polygon points="453.6,313.8 457.7,313 453.3,312.3 449.3,313.1" fill="#f22d2a"/>
<polygon points="398.4,325.2 402.9,322.1 399,321.8 394.5,324.9" fill="#fd6b39"/>
<polygon points="406.9,322.5 411.3,319.7 407.3,319.3 402.9,322.1" fill="#fc4336"/>
<polygon points="415.4,320.1 419.8,317.7 415.7,317.2 411.3,319.7" fill="#f63731"/>
<polygon points="423.9,318.1 428.2,316.1 424.1,315.6 419.8,317.7" fill="#f22f2c"/>
<polygon points="432.4,316.6 436.7,314.9 432.5,314.3 428.2,316.1" fill="#f22d2a"/>
<polygon points="440.9,315.5 445.1,314.1 440.9,313.5 436.7,314.9" fill="#f22d2a"/>
<polygon points="475,315.1 479,315.1 474.4,314.1 470.5,314.2" fill="#f22d2a"/>
<polygon points="449.4,314.8 453.6,313.8 449.3,313.1 445.1,314.1" fill="#f22d2a"/>
<polygon points="466.5,314.6 470.5,314.2 466.1,313.4 462,313.8" fill="#f22d2a"/>
<polygon points="458,314.5 462,313.8 457.7,313 453.6,313.8" fill="#f22d2a"/>
<polygon points="393.9,328.8 398.4,325.2 394.5,324.9 390,328.4" fill="#fe8a3c"/>
<polygon points="402.4,325.6 406.9,322.5 402.9,322.1 398.4,325.2" fill="#fd5e3a"/>
<polygon points="410.9,322.9 415.4,320.1 411.3,319.7 406.9,322.5" fill="#fa3f36"/>
<polygon points="419.5,320.6 423.9,318.1 419.8,317.7 415.4,320.1" fill="#f43531"/>
<polygon points="428.1,318.7 432.4,316.6 428.2,316.1 423.9,318.1" fill="#f22f2c"/>
<polygon points="436.7,317.2 440.9,315.5 436.7,314.9 432.4,316.6" fill="#f22d2a"/>
<polygon points="445.2,316.2 449.4,314.8 445.1,314.1 440.9,315.5" fill="#f22d2a"/>
<polygon points="479.6,316.1 483.5,316.1 479,315.1 475,315.1" fill="#f22d2a"/>
<polygon points="453.8,315.5 458,314.5 453.6,313.8 449.4,314.8" fill="#f22d2a"/>
<polygon points="471,315.5 475,315.1 470.5,314.2 466.5,314.6" fill="#f22d2a"/>
<polygon points="462.4,315.3 466.5,314.6 462,313.8 458,314.5" fill="#f22d2a"/>
<polygon points="389.3,332.6 393.9,328.8 390,328.4 385.4,332.3" fill="#feaa40"/>
<polygon points="397.9,329.1 402.4,325.6 398.4,325.2 393.9,328.8" fill="#fe7e3c"/>
<polygon points="406.4,326 410.9,322.9 406.9,322.5 402.4,325.6" fill="#fc533a"/>
<polygon points="415.1,323.3 419.5,320.6 415.4,320.1 410.9,322.9" fill="#f83e35"/>
<polygon points="423.7,321.1 428.1,318.7 423.9,318.1 419.5,320.6" fill="#f23330"/>
<polygon points="432.3,319.3 436.7,317.2 432.4,316.6 428.1,318.7" fill="#f2302d"/>
<polygon points="384.6,336.9 389.3,332.6 385.4,332.3 380.7,336.6" fill="#fdc745"/>
<polygon points="441,317.9 445.2,316.2 440.9,315.5 436.7,317.2" fill="#f22d2a"/>
<polygon points="484.3,317.2 488.2,317.1 483.5,316.1 479.6,316.1" fill="#f22d2a"/>
<polygon points="449.6,316.9 453.8,315.5 449.4,314.8 445.2,316.2" fill="#f22d2a"/>
<polygon points="475.6,316.5 479.6,316.1 475,315.1 471,315.5" fill="#f22d2a"/>
<polygon points="458.3,316.4 462.4,315.3 458,314.5 453.8,315.5" fill="#f22d2a"/>
<polygon points="466.9,316.2 471,315.5 466.5,314.6 462.4,315.3" fill="#f22d2a"/>
<polygon points="393.3,333 397.9,329.1 393.9,328.8 389.3,332.6" fill="#ffa040"/>
<polygon points="401.9,329.5 406.4,326 402.4,325.6 397.9,329.1" fill="#fd723d"/>
<polygon points="410.6,326.5 415.1,323.3 410.9,322.9 406.4,326" fill="#fc483a"/>
<polygon points="419.2,323.9 423.7,321.1 419.5,320.6 415.1,323.3" fill="#f63b35"/>
<polygon points="379.9,341.6 384.6,336.9 380.7,336.6 376.1,341.3" fill="#fbe74a"/>
<polygon points="427.9,321.7 432.3,319.3 428.1,318.7 423.7,321.1" fill="#f23330"/>
<polygon points="436.6,319.9 441,317.9 436.7,317.2 432.3,319.3" fill="#f2302d"/>
<polygon points="388.6,337.3 393.3,333 389.3,332.6 384.6,336.9" fill="#fdbe45"/>
<polygon points="445.4,318.6 449.6,316.9 445.2,316.2 441,317.9" fill="#f22d2a"/>
<polygon points="489,318.3 492.9,318.2 488.2,317.1 484.3,317.2" fill="#f22d2a"/>
<polygon points="454.1,317.7 458.3,316.4 453.8,315.5 449.6,316.9" fill="#f22d2a"/>
<polygon points="480.3,317.5 484.3,317.2 479.6,316.1 475.6,316.5" fill="#f22d2a"/>
<polygon points="462.8,317.2 466.9,316.2 462.4,315.3 458.3,316.4" fill="#f22d2a"/>
<polygon points="471.5,317.2 475.6,316.5 471,315.5 466.9,316.2" fill="#f22d2a"/>
<polygon points="397.3,333.4 401.9,329.5 397.9,329.1 393.3,333" fill="#ff9540"/>
<polygon points="406,330 410.6,326.5 406.4,326 401.9,329.5" fill="#fd673e"/>
<polygon points="375.2,346.7 379.9,341.6 376.1,341.3 371.3,346.3" fill="#e8f64e"/>
<polygon points="414.7,327 419.2,323.9 415.1,323.3 410.6,326.5" fill="#fb443a"/>
<polygon points="423.5,324.5 427.9,321.7 423.7,321.1 419.2,323.9" fill="#f53935"/>
<polygon points="383.9,342 388.6,337.3 384.6,336.9 379.9,341.6" fill="#fbde4a"/>
<polygon points="432.2,322.3 436.6,319.9 432.3,319.3 427.9,321.7" fill="#f23431"/>
<polygon points="441,320.7 445.4,318.6 441,317.9 436.6,319.9" fill="#f2302e"/>
<polygon points="392.6,337.7 397.3,333.4 393.3,333 388.6,337.3" fill="#feb544"/>
<polygon points="449.8,319.4 454.1,317.7 449.6,316.9 445.4,318.6" fill="#f22d2a"/>
<polygon points="493.8,319.4 497.7,319.4 492.9,318.2 489,318.3" fill="#f22d2a"/>
<polygon points="458.6,318.6 462.8,317.2 458.3,316.4 454.1,317.7" fill="#f22d2a"/>
<polygon points="485,318.6 489,318.3 484.3,317.2 480.3,317.5" fill="#f22d2a"/>
<polygon points="467.4,318.2 471.5,317.2 466.9,316.2 462.8,317.2" fill="#f22d2a"/>
<polygon points="476.2,318.2 480.3,317.5 475.6,316.5 471.5,317.2" fill="#f22d2a"/>
<polygon points="370.4,352.2 375.2,346.7 371.3,346.3 366.5,351.8" fill="#c5f752"/>
<polygon points="401.4,333.9 406,330 401.9,329.5 397.3,333.4" fill="#fe8b40"/>
<polygon points="410.2,330.5 414.7,327 410.6,326.5 406,330" fill="#fd5d3e"/>
<polygon points="379.1,347.1 383.9,342 379.9,341.6 375.2,346.7" fill="#f1f64e"/>
<polygon points="419,327.6 423.5,324.5 419.2,323.9 414.7,327" fill="#f9423a"/>
<polygon points="427.8,325.1 432.2,322.3 427.9,321.7 423.5,324.5" fill="#f33834"/>
<polygon points="387.9,342.4 392.6,337.7 388.6,337.3 383.9,342" fill="#fcd54a"/>
<polygon points="365.5,358 370.4,352.2 366.5,351.8 361.7,357.7" fill="#a0f757"/>
<polygon points="436.6,323.1 441,320.7 436.6,319.9 432.2,322.3" fill="#f23431"/>
<polygon points="445.5,321.4 449.8,319.4 445.4,318.6 441,320.7" fill="#f2312e"/>
<polygon points="396.7,338.2 401.4,333.9 397.3,333.4 392.6,337.7" fill="#fead45"/>
<polygon points="454.3,320.3 458.6,318.6 454.1,317.7 449.8,319.4" fill="#f22e2b"/>
<polygon points="498.6,320.7 502.5,320.7 497.7,319.4 493.8,319.4" fill="#f22d2a"/>
<polygon points="463.2,319.5 467.4,318.2 462.8,317.2 458.6,318.6" fill="#f22d2a"/>
<polygon points="489.8,319.8 493.8,319.4 489,318.3 485,318.6" fill="#f22d2a"/>
<polygon points="472.1,319.2 476.2,318.2 471.5,317.2 467.4,318.2" fill="#f22d2a"/>
<polygon points="480.9,319.3 485,318.6 480.3,317.5 476.2,318.2" fill="#f22d2a"/>
<polygon points="374.3,352.6 379.1,347.1 375.2,346.7 370.4,352.2" fill="#cef752"/>
<polygon points="405.5,334.5 410.2,330.5 406,330 401.4,333.9" fill="#fe8041"/>
<polygon points="414.4,331.1 419,327.6 414.7,327 410.2,330.5" fill="#fc553e"/>
<polygon points="383.1,347.5 387.9,342.4 383.9,342 379.1,347.1" fill="#faf64f"/>
<polygon points="360.6,364.4 365.5,358 361.7,357.7 356.8,364" fill="#79f461"/>
<polygon points="423.3,328.3 427.8,325.1 423.5,324.5 419,327.6" fill="#f84039"/>
<polygon points="432.2,325.8 436.6,323.1 432.2,322.3 427.8,325.1" fill="#f33734"/>
<polygon points="392,342.9 396.7,338.2 392.6,337.7 387.9,342.4" fill="#fdcc49"/>
<polygon points="441.1,323.8 445.5,321.4 441,320.7 436.6,323.1" fill="#f23431"/>
<polygon points="369.4,358.5 374.3,352.6 370.4,352.2 365.5,358" fill="#aaf755"/>
<polygon points="450,322.3 454.3,320.3 449.8,319.4 445.5,321.4" fill="#f2312e"/>
<polygon points="400.8,338.8 405.5,334.5 401.4,333.9 396.7,338.2" fill="#ffa544"/>
<polygon points="458.9,321.2 463.2,319.5 458.6,318.6 454.3,320.3" fill="#f22e2b"/>
<polygon points="503.6,322 507.5,322 502.5,320.7 498.6,320.7" fill="#f22d2a"/>
<polygon points="467.9,320.5 472.1,319.2 467.4,318.2 463.2,319.5" fill="#f22d2a"/>
<polygon points="494.7,321 498.6,320.7 493.8,319.4 489.8,319.8" fill="#f22d2a"/>
<polygon points="476.8,320.2 480.9,319.3 476.2,318.2 472.1,319.2" fill="#f22d2a"/>
<polygon points="485.7,320.4 489.8,319.8 485,318.6 480.9,319.3" fill="#f22d2a"/>
<polygon points="355.7,371.1 360.6,364.4 356.8,364 351.9,370.7" fill="#5af374"/>
<polygon points="378.3,353 383.1,347.5 379.1,347.1 374.3,352.6" fill="#d7f752"/>
<polygon points="409.8,335 414.4,331.1 410.2,330.5 405.5,334.5" fill="#fe7641"/>
<polygon points="418.7,331.8 423.3,328.3 419,327.6 414.4,331.1" fill="#fc4c3f"/>
<polygon points="387.2,348 392,342.9 387.9,342.4 383.1,347.5" fill="#fbef4f"/>
<polygon points="364.5,364.8 369.4,358.5 365.5,358 360.6,364.4" fill="#82f560"/>
<polygon points="427.6,329 432.2,325.8 427.8,325.1 423.3,328.3" fill="#f63e39"/>
<polygon points="436.6,326.6 441.1,323.8 436.6,323.1 432.2,325.8" fill="#f33835"/>
<polygon points="350.7,378.3 355.7,371.1 351.9,370.7 346.9,377.9" fill="#5cf3a0"/>
<polygon points="396.1,343.5 400.8,338.8 396.7,338.2 392,342.9" fill="#fdc449"/>
<polygon points="445.6,324.7 450,322.3 445.5,321.4 441.1,323.8" fill="#f23532"/>
<polygon points="373.4,358.9 378.3,353 374.3,352.6 369.4,358.5" fill="#b2f756"/>
<polygon points="454.6,323.2 458.9,321.2 454.3,320.3 450,322.3" fill="#f2312f"/>
<polygon points="405.1,339.4 409.8,335 405.5,334.5 400.8,338.8" fill="#ff9c44"/>
<polygon points="463.6,322.2 467.9,320.5 463.2,319.5 458.9,321.2" fill="#f22e2b"/>
<polygon points="508.6,323.4 512.5,323.5 507.5,322 503.6,322" fill="#f22d2a"/>
<polygon points="472.6,321.6 476.8,320.2 472.1,319.2 467.9,320.5" fill="#f22d2a"/>
<polygon points="499.6,322.3 503.6,322 498.6,320.7 494.7,321" fill="#f22d2a"/>
<polygon points="481.6,321.4 485.7,320.4 480.9,319.3 476.8,320.2" fill="#f22d2a"/>
<polygon points="490.6,321.6 494.7,321 489.8,319.8 485.7,320.4" fill="#f22d2a"/>
<polygon points="359.6,371.6 364.5,364.8 360.6,364.4 355.7,371.1" fill="#5bf36b"/>
<polygon points="382.3,353.5 387.2,348 383.1,347.5 378.3,353" fill="#e0f753"/>
<polygon points="414,335.7 418.7,331.8 414.4,331.1 409.8,335" fill="#fd6e42"/>
<polygon points="345.7,385.9 350.7,378.3 346.9,377.9 341.9,385.5" fill="#5ef0cc"/>
<polygon points="423.1,332.5 427.6,329 423.3,328.3 418.7,331.8" fill="#fb483e"/>
<polygon points="391.3,348.6 396.1,343.5 392,342.9 387.2,348" fill="#fce64f"/>
<polygon points="368.5,365.3 373.4,358.9 369.4,358.5 364.5,364.8" fill="#8bf55f"/>
<polygon points="432.1,329.8 436.6,326.6 432.2,325.8 427.6,329" fill="#f53d39"/>
<polygon points="441.1,327.5 445.6,324.7 441.1,323.8 436.6,326.6" fill="#f33835"/>
<polygon points="400.3,344.1 405.1,339.4 400.8,338.8 396.1,343.5" fill="#fdbd4a"/>
<polygon points="354.6,378.8 359.6,371.6 355.7,371.1 350.7,378.3" fill="#5df398"/>
<polygon points="450.2,325.6 454.6,323.2 450,322.3 445.6,324.7" fill="#f23532"/>
<polygon points="377.5,359.5 382.3,353.5 378.3,353 373.4,358.9" fill="#bbf756"/>
<polygon points="340.6,394 345.7,385.9 341.9,385.5 336.8,393.5" fill="#5fe9f8"/>
<polygon points="459.3,324.2 463.6,322.2 458.9,321.2 454.6,323.2" fill="#f2322f"/>
<polygon points="409.3,340 414,335.7 409.8,335 405.1,339.4" fill="#fe9345"/>
<polygon points="468.3,323.2 472.6,321.6 467.9,320.5 463.6,322.2" fill="#f22f2c"/>
<polygon points="513.7,324.9 517.6,325 512.5,323.5 508.6,323.4" fill="#f22d2a"/>
<polygon points="477.4,322.7 481.6,321.4 476.8,320.2 472.6,321.6" fill="#f22d2a"/>
<polygon points="504.7,323.7 508.6,323.4 503.6,322 499.6,322.3" fill="#f22d2a"/>
<polygon points="486.5,322.6 490.6,321.6 485.7,320.4 481.6,321.4" fill="#f22d2a"/>
<polygon points="495.6,322.9 499.6,322.3 494.7,321 490.6,321.6" fill="#f22d2a"/>
<polygon points="363.5,372.1 368.5,365.3 364.5,364.8 359.6,371.6" fill="#63f369"/>
<polygon points="386.5,354.1 391.3,348.6 387.2,348 382.3,353.5" fill="#e7f753"/>
<polygon points="418.4,336.4 423.1,332.5 418.7,331.8 414,335.7" fill="#fd6643"/>
<polygon points="349.5,386.4 354.6,378.8 350.7,378.3 345.7,385.9" fill="#5ff1c5"/>
<polygon points="427.5,333.3 432.1,329.8 427.6,329 423.1,332.5" fill="#f9473e"/>
<polygon points="395.5,349.2 400.3,344.1 396.1,343.5 391.3,348.6" fill="#fcdf4f"/>
<polygon points="372.5,365.8 377.5,359.5 373.4,358.9 368.5,365.3" fill="#94f65d"/>
<polygon points="436.6,330.6 441.1,327.5 436.6,326.6 432.1,329.8" fill="#f33c39"/>
<polygon points="445.7,328.4 450.2,325.6 445.6,324.7 441.1,327.5" fill="#f33835"/>
<polygon points="404.6,344.7 409.3,340 405.1,339.4 400.3,344.1" fill="#feb649"/>
<polygon points="358.5,379.3 363.5,372.1 359.6,371.6 354.6,378.8" fill="#5ef390"/>
<polygon points="454.9,326.6 459.3,324.2 454.6,323.2 450.2,325.6" fill="#f33532"/>
<polygon points="381.6,360 386.5,354.1 382.3,353.5 377.5,359.5" fill="#c3f756"/>
<polygon points="344.4,394.5 349.5,386.4 345.7,385.9 340.6,394" fill="#60eaef"/>
<polygon points="464,325.2 468.3,323.2 463.6,322.2 459.3,324.2" fill="#f2322f"/>
<polygon points="413.7,340.7 418.4,336.4 414,335.7 409.3,340" fill="#fe8b45"/>
<polygon points="473.2,324.3 477.4,322.7 472.6,321.6 468.3,323.2" fill="#f22f2c"/>
<polygon points="518.9,326.5 522.8,326.5 517.6,325 513.7,324.9" fill="#f22d2a"/>
<polygon points="482.3,323.9 486.5,322.6 481.6,321.4 477.4,322.7" fill="#f22d2a"/>
<polygon points="509.8,325.2 513.7,324.9 508.6,323.4 504.7,323.7" fill="#f22d2a"/>
<polygon points="491.5,323.9 495.6,322.9 490.6,321.6 486.5,322.6" fill="#f22d2a"/>
<polygon points="500.6,324.3 504.7,323.7 499.6,322.3 495.6,322.9" fill="#f22d2a"/>
<polygon points="367.5,372.6 372.5,365.8 368.5,365.3 363.5,372.1" fill="#6cf468"/>
<polygon points="390.6,354.7 395.5,349.2 391.3,348.6 386.5,354.1" fill="#eff753"/>
<polygon points="422.8,337.2 427.5,333.3 423.1,332.5 418.4,336.4" fill="#fd5e43"/>
<polygon points="353.4,387 358.5,379.3 354.6,378.8 349.5,386.4" fill="#60f3bd"/>
<polygon points="432,334.1 436.6,330.6 432.1,329.8 427.5,333.3" fill="#f9453e"/>
<polygon points="399.8,349.9 404.6,344.7 400.3,344.1 395.5,349.2" fill="#fcd84e"/>
<polygon points="376.6,366.4 381.6,360 377.5,359.5 372.5,365.8" fill="#9df65c"/>
<polygon points="441.2,331.5 445.7,328.4 441.1,327.5 436.6,330.6" fill="#f33c39"/>
<polygon points="450.4,329.3 454.9,326.6 450.2,325.6 445.7,328.4" fill="#f33936"/>
<polygon points="408.9,345.5 413.7,340.7 409.3,340 404.6,344.7" fill="#feaf49"/>
<polygon points="362.5,379.9 367.5,372.6 363.5,372.1 358.5,379.3" fill="#5ef389"/>
<polygon points="459.6,327.6 464,325.2 459.3,324.2 454.9,326.6" fill="#f33633"/>
<polygon points="385.7,360.7 390.6,354.7 386.5,354.1 381.6,360" fill="#caf757"/>
<polygon points="348.3,395.1 353.4,387 349.5,386.4 344.4,394.5" fill="#60ece8"/>
<polygon points="468.8,326.4 473.2,324.3 468.3,323.2 464,325.2" fill="#f23230"/>
<polygon points="478,325.6 482.3,323.9 477.4,322.7 473.2,324.3" fill="#f22f2c"/>
<polygon points="524.2,328.1 528,328.2 522.8,326.5 518.9,326.5" fill="#f22d2a"/>
<polygon points="418.1,341.5 422.8,337.2 418.4,336.4 413.7,340.7" fill="#fe8245"/>
<polygon points="514.9,326.7 518.9,326.5 513.7,324.9 509.8,325.2" fill="#f22d2a"/>
<polygon points="487.3,325.2 491.5,323.9 486.5,322.6 482.3,323.9" fill="#f22d2a"/>
<polygon points="505.7,325.8 509.8,325.2 504.7,323.7 500.6,324.3" fill="#f22d2a"/>
<polygon points="496.5,325.3 500.6,324.3 495.6,322.9 491.5,323.9" fill="#f22d2a"/>
<polygon points="371.6,373.2 376.6,366.4 372.5,365.8 367.5,372.6" fill="#74f567"/>
<polygon points="394.9,355.4 399.8,349.9 395.5,349.2 390.6,354.7" fill="#f6f753"/>
<polygon points="427.3,338 432,334.1 427.5,333.3 422.8,337.2" fill="#fc5743"/>
<polygon points="357.4,387.6 362.5,379.9 358.5,379.3 353.4,387" fill="#60f4b6"/>
<polygon points="436.6,335 441.2,331.5 436.6,330.6 432,334.1" fill="#f7453e"/>
<polygon points="404.1,350.6 408.9,345.5 404.6,344.7 399.8,349.9" fill="#fcd14f"/>
<polygon points="380.8,367.1 385.7,360.7 381.6,360 376.6,366.4" fill="#a5f75b"/>
<polygon points="445.8,332.5 450.4,329.3 445.7,328.4 441.2,331.5" fill="#f33c39"/>
<polygon points="455.1,330.4 459.6,327.6 454.9,326.6 450.4,329.3" fill="#f33936"/>
<polygon points="413.3,346.3 418.1,341.5 413.7,340.7 408.9,345.5" fill="#ffa949"/>
<polygon points="366.5,380.5 371.6,373.2 367.5,372.6 362.5,379.9" fill="#5ef382"/>
<polygon points="464.4,328.7 468.8,326.4 464,325.2 459.6,327.6" fill="#f33633"/>
<polygon points="390,361.4 394.9,355.4 390.6,354.7 385.7,360.7" fill="#d2f757"/>
<polygon points="473.7,327.6 478,325.6 473.2,324.3 468.8,326.4" fill="#f23330"/>
<polygon points="352.3,395.7 357.4,387.6 353.4,387 348.3,395.1" fill="#62ede1"/>
<polygon points="529.5,329.9 533.3,329.9 528,328.2 524.2,328.1" fill="#f22d2a"/>
<polygon points="483,326.8 487.3,325.2 482.3,323.9 478,325.6" fill="#f2302d"/>
<polygon points="422.6,342.4 427.3,338 422.8,337.2 418.1,341.5" fill="#fe7c46"/>
<polygon points="520.2,328.4 524.2,328.1 518.9,326.5 514.9,326.7" fill="#f22d2a"/>
<polygon points="492.3,326.6 496.5,325.3 491.5,323.9 487.3,325.2" fill="#f22d2a"/>
<polygon points="510.9,327.3 514.9,326.7 509.8,325.2 505.7,325.8" fill="#f22d2a"/>
<polygon points="501.6,326.7 505.7,325.8 500.6,324.3 496.5,325.3" fill="#f22d2a"/>
<polygon points="375.7,373.9 380.8,367.1 376.6,366.4 371.6,373.2" fill="#7cf566"/>
<polygon points="399.2,356.2 404.1,350.6 399.8,349.9 394.9,355.4" fill="#fbf554"/>
<polygon points="431.9,339 436.6,335 432,334.1 427.3,338" fill="#fc5044"/>
<polygon points="361.4,388.2 366.5,380.5 362.5,379.9 357.4,387.6" fill="#60f4af"/>
<polygon points="441.2,336 445.8,332.5 441.2,331.5 436.6,335" fill="#f6433e"/>
<polygon points="408.5,351.4 413.3,346.3 408.9,345.5 404.1,350.6" fill="#fdcb4e"/>
<polygon points="385,367.8 390,361.4 385.7,360.7 380.8,367.1" fill="#acf75a"/>
<polygon points="450.6,333.5 455.1,330.4 450.4,329.3 445.8,332.5" fill="#f33c3a"/>
<polygon points="459.9,331.5 464.4,328.7 459.6,327.6 455.1,330.4" fill="#f33936"/>
<polygon points="417.8,347.1 422.6,342.4 418.1,341.5 413.3,346.3" fill="#ffa349"/>
<polygon points="370.7,381.2 375.7,373.9 371.6,373.2 366.5,380.5" fill="#5ff37a"/>
<polygon points="469.3,329.9 473.7,327.6 468.8,326.4 464.4,328.7" fill="#f33633"/>
<polygon points="394.3,362.2 399.2,356.2 394.9,355.4 390,361.4" fill="#d9f757"/>
<polygon points="478.7,328.8 483,326.8 478,325.6 473.7,327.6" fill="#f23330"/>
<polygon points="356.3,396.4 361.4,388.2 357.4,387.6 352.3,395.7" fill="#62eeda"/>
<polygon points="534.9,331.7 538.8,331.8 533.3,329.9 529.5,329.9" fill="#f22d2a"/>
<polygon points="488.1,328.2 492.3,326.6 487.3,325.2 483,326.8" fill="#f2302d"/>
<polygon points="427.2,343.3 431.9,339 427.3,338 422.6,342.4" fill="#fd7547"/>
<polygon points="525.6,330.1 529.5,329.9 524.2,328.1 520.2,328.4" fill="#f22d2a"/>
<polygon points="497.5,328 501.6,326.7 496.5,325.3 492.3,326.6" fill="#f22d2a"/>
<polygon points="516.2,329 520.2,328.4 514.9,326.7 510.9,327.3" fill="#f22d2a"/>
<polygon points="506.8,328.3 510.9,327.3 505.7,325.8 501.6,326.7" fill="#f22d2a"/>
<polygon points="380,374.7 385,367.8 380.8,367.1 375.7,373.9" fill="#84f565"/>
<polygon points="436.6,339.9 441.2,336 436.6,335 431.9,339" fill="#fb4e44"/>
<polygon points="403.6,357 408.5,351.4 404.1,350.6 399.2,356.2" fill="#fcee53"/>
<polygon points="365.6,389 370.7,381.2 366.5,380.5 361.4,388.2" fill="#62f4a8"/>
<polygon points="446,337.1 450.6,333.5 445.8,332.5 441.2,336" fill="#f5433e"/>
<polygon points="413,352.3 417.8,347.1 413.3,346.3 408.5,351.4" fill="#fdc54e"/>
<polygon points="455.4,334.7 459.9,331.5 455.1,330.4 450.6,333.5" fill="#f33d3a"/>
<polygon points="389.3,368.6 394.3,362.2 390,361.4 385,367.8" fill="#b3f75b"/>
<polygon points="464.8,332.7 469.3,329.9 464.4,328.7 459.9,331.5" fill="#f33a37"/>
<polygon points="422.4,348 427.2,343.3 422.6,342.4 417.8,347.1" fill="#ff9d4a"/>
<polygon points="374.9,382 380,374.7 375.7,373.9 370.7,381.2" fill="#60f375"/>
<polygon points="474.3,331.2 478.7,328.8 473.7,327.6 469.3,329.9" fill="#f33734"/>
<polygon points="483.7,330.2 488.1,328.2 483,326.8 478.7,328.8" fill="#f23431"/>
<polygon points="398.7,363 403.6,357 399.2,356.2 394.3,362.2" fill="#dff758"/>
<polygon points="360.4,397.2 365.6,389 361.4,388.2 356.3,396.4" fill="#63f0d4"/>
<polygon points="493.2,329.6 497.5,328 492.3,326.6 488.1,328.2" fill="#f2302e"/>
<polygon points="531,331.9 534.9,331.7 529.5,329.9 525.6,330.1" fill="#f22d2a"/>
<polygon points="431.8,344.3 436.6,339.9 431.9,339 427.2,343.3" fill="#fd6f47"/>
<polygon points="502.7,329.5 506.8,328.3 501.6,326.7 497.5,328" fill="#f22d2a"/>
<polygon points="521.6,330.7 525.6,330.1 520.2,328.4 516.2,329" fill="#f22d2a"/>
<polygon points="512.1,329.9 516.2,329 510.9,327.3 506.8,328.3" fill="#f22d2a"/>
<polygon points="384.2,375.5 389.3,368.6 385,367.8 380,374.7" fill="#8bf664"/>
<polygon points="441.3,341 446,337.1 441.2,336 436.6,339.9" fill="#fb4d43"/>
<polygon points="408.1,357.9 413,352.3 408.5,351.4 403.6,357" fill="#fce954"/>
<polygon points="450.8,338.2 455.4,334.7 450.6,333.5 446,337.1" fill="#f4423e"/>
<polygon points="369.7,389.8 374.9,382 370.7,381.2 365.6,389" fill="#62f4a2"/>
<polygon points="417.5,353.2 422.4,348 417.8,347.1 413,352.3" fill="#fdbf4f"/>
<polygon points="460.3,335.8 464.8,332.7 459.9,331.5 455.4,334.7" fill="#f33d3a"/>
<polygon points="393.7,369.5 398.7,363 394.3,362.2 389.3,368.6" fill="#b9f75b"/>
<polygon points="469.8,334 474.3,331.2 469.3,329.9 464.8,332.7" fill="#f33a37"/>
<polygon points="427,349 431.8,344.3 427.2,343.3 422.4,348" fill="#fe974a"/>
<polygon points="479.3,332.6 483.7,330.2 478.7,328.8 474.3,331.2" fill="#f33734"/>
<polygon points="379.1,382.8 384.2,375.5 380,374.7 374.9,382" fill="#62f370"/>
<polygon points="488.9,331.6 493.2,329.6 488.1,328.2 483.7,330.2" fill="#f23431"/>
<polygon points="403.1,363.9 408.1,357.9 403.6,357 398.7,363" fill="#e5f758"/>
<polygon points="498.4,331.2 502.7,329.5 497.5,328 493.2,329.6" fill="#f2312e"/>
<polygon points="364.6,398 369.7,389.8 365.6,389 360.4,397.2" fill="#63f0ce"/>
<polygon points="508,331.1 512.1,329.9 506.8,328.3 502.7,329.5" fill="#f22e2b"/>
<polygon points="436.6,345.4 441.3,341 436.6,339.9 431.8,344.3" fill="#fd6a48"/>
<polygon points="527,332.5 531,331.9 525.6,330.1 521.6,330.7" fill="#f22d2a"/>
<polygon points="517.5,331.6 521.6,330.7 516.2,329 512.1,329.9" fill="#f22d2a"/>
<polygon points="446.1,342.1 450.8,338.2 446,337.1 441.3,341" fill="#fa4c44"/>
<polygon points="388.6,376.4 393.7,369.5 389.3,368.6 384.2,375.5" fill="#91f663"/>
<polygon points="412.6,358.8 417.5,353.2 413,352.3 408.1,357.9" fill="#fce354"/>
<polygon points="455.7,339.4 460.3,335.8 455.4,334.7 450.8,338.2" fill="#f4413e"/>
<polygon points="374,390.6 379.1,382.8 374.9,382 369.7,389.8" fill="#62f49b"/>
<polygon points="422.2,354.2 427,349 422.4,348 417.5,353.2" fill="#febb4e"/>
<polygon points="465.3,337.1 469.8,334 464.8,332.7 460.3,335.8" fill="#f33d3b"/>
<polygon points="398.1,370.4 403.1,363.9 398.7,363 393.7,369.5" fill="#bff75b"/>
<polygon points="474.9,335.3 479.3,332.6 474.3,331.2 469.8,334" fill="#f33a38"/>
<polygon points="431.7,350.1 436.6,345.4 431.8,344.3 427,349" fill="#fe924a"/>
<polygon points="484.5,334 488.9,331.6 483.7,330.2 479.3,332.6" fill="#f33734"/>
<polygon points="383.5,383.7 388.6,376.4 384.2,375.5 379.1,382.8" fill="#68f46e"/>
<polygon points="494.1,333.2 498.4,331.2 493.2,329.6 488.9,331.6" fill="#f23431"/>
<polygon points="407.6,364.9 412.6,358.8 408.1,357.9 403.1,363.9" fill="#ebf758"/>
<polygon points="503.7,332.8 508,331.1 502.7,329.5 498.4,331.2" fill="#f2312e"/>
<polygon points="368.8,398.9 374,390.6 369.7,389.8 364.6,398" fill="#64f1c8"/>
<polygon points="513.3,332.8 517.5,331.6 512.1,329.9 508,331.1" fill="#f22e2b"/>
<polygon points="522.9,333.4 527,332.5 521.6,330.7 517.5,331.6" fill="#f22d2a"/>
<polygon points="441.4,346.5 446.1,342.1 441.3,341 436.6,345.4" fill="#fd6648"/>
<polygon points="451,343.3 455.7,339.4 450.8,338.2 446.1,342.1" fill="#f94b44"/>
<polygon points="393,377.3 398.1,370.4 393.7,369.5 388.6,376.4" fill="#98f663"/>
<polygon points="417.2,359.9 422.2,354.2 417.5,353.2 412.6,358.8" fill="#fdde53"/>
<polygon points="460.6,340.7 465.3,337.1 460.3,335.8 455.7,339.4" fill="#f3413e"/>
<polygon points="378.3,391.5 383.5,383.7 379.1,382.8 374,390.6" fill="#63f495"/>
<polygon points="426.9,355.3 431.7,350.1 427,349 422.2,354.2" fill="#feb64f"/>
<polygon points="470.3,338.5 474.9,335.3 469.8,334 465.3,337.1" fill="#f33e3b"/>
<polygon points="402.6,371.4 407.6,364.9 403.1,363.9 398.1,370.4" fill="#c5f75c"/>
<polygon points="480,336.8 484.5,334 479.3,332.6 474.9,335.3" fill="#f33b38"/>
<polygon points="436.5,351.3 441.4,346.5 436.6,345.4 431.7,350.1" fill="#fe8d4b"/>
<polygon points="489.7,335.5 494.1,333.2 488.9,331.6 484.5,334" fill="#f33835"/>
<polygon points="387.9,384.7 393,377.3 388.6,376.4 383.5,383.7" fill="#6ff46e"/>
<polygon points="499.4,334.8 503.7,332.8 498.4,331.2 494.1,333.2" fill="#f23532"/>
<polygon points="412.3,365.9 417.2,359.9 412.6,358.8 407.6,364.9" fill="#f0f759"/>
<polygon points="509.1,334.5 513.3,332.8 508,331.1 503.7,332.8" fill="#f2322f"/>
<polygon points="518.8,334.6 522.9,333.4 517.5,331.6 513.3,332.8" fill="#f22f2c"/>
<polygon points="373.1,399.9 378.3,391.5 374,390.6 368.8,398.9" fill="#65f3c2"/>
<polygon points="446.2,347.7 451,343.3 446.1,342.1 441.4,346.5" fill="#fd6248"/>
<polygon points="455.9,344.6 460.6,340.7 455.7,339.4 451,343.3" fill="#f94b43"/>
<polygon points="397.5,378.3 402.6,371.4 398.1,370.4 393,377.3" fill="#9ef662"/>
<polygon points="421.9,361 426.9,355.3 422.2,354.2 417.2,359.9" fill="#fdda54"/>
<polygon points="465.7,342 470.3,338.5 465.3,337.1 460.6,340.7" fill="#f3413f"/>
<polygon points="382.7,392.5 387.9,384.7 383.5,383.7 378.3,391.5" fill="#64f490"/>
<polygon points="431.7,356.5 436.5,351.3 431.7,350.1 426.9,355.3" fill="#feb34f"/>
<polygon points="475.4,339.9 480,336.8 474.9,335.3 470.3,338.5" fill="#f33e3b"/>
<polygon points="407.2,372.4 412.3,365.9 407.6,364.9 402.6,371.4" fill="#cbf75c"/>
<polygon points="485.2,338.3 489.7,335.5 484.5,334 480,336.8" fill="#f33b38"/>
<polygon points="441.4,352.5 446.2,347.7 441.4,346.5 436.5,351.3" fill="#fe894b"/>
<polygon points="495,337.1 499.4,334.8 494.1,333.2 489.7,335.5" fill="#f33835"/>
<polygon points="392.4,385.7 397.5,378.3 393,377.3 387.9,384.7" fill="#75f46d"/>
<polygon points="504.8,336.5 509.1,334.5 503.7,332.8 499.4,334.8" fill="#f23532"/>
<polygon points="514.6,336.2 518.8,334.6 513.3,332.8 509.1,334.5" fill="#f2322f"/>
<polygon points="416.9,367 421.9,361 417.2,359.9 412.3,365.9" fill="#f4f759"/>
<polygon points="451.2,349 455.9,344.6 451,343.3 446.2,347.7" fill="#fc5e49"/>
<polygon points="377.5,400.9 382.7,392.5 378.3,391.5 373.1,399.9" fill="#66f3bd"/>
<polygon points="461,346 465.7,342 460.6,340.7 455.9,344.6" fill="#f84b44"/>
<polygon points="426.7,362.1 431.7,356.5 426.9,355.3 421.9,361" fill="#fdd654"/>
<polygon points="402.1,379.4 407.2,372.4 402.6,371.4 397.5,378.3" fill="#a3f661"/>
<polygon points="470.8,343.5 475.4,339.9 470.3,338.5 465.7,342" fill="#f3423f"/>
<polygon points="387.2,393.6 392.4,385.7 387.9,384.7 382.7,392.5" fill="#64f48b"/>
<polygon points="436.5,357.7 441.4,352.5 436.5,351.3 431.7,356.5" fill="#feb04f"/>
<polygon points="480.7,341.4 485.2,338.3 480,336.8 475.4,339.9" fill="#f33e3c"/>
<polygon points="411.9,373.6 416.9,367 412.3,365.9 407.2,372.4" fill="#cff75c"/>
<polygon points="490.5,339.9 495,337.1 489.7,335.5 485.2,338.3" fill="#f33b39"/>
<polygon points="446.4,353.8 451.2,349 446.2,347.7 441.4,352.5" fill="#fe854b"/>
<polygon points="500.4,338.8 504.8,336.5 499.4,334.8 495,337.1" fill="#f33835"/>
<polygon points="510.3,338.2 514.6,336.2 509.1,334.5 504.8,336.5" fill="#f33532"/>
<polygon points="396.9,386.8 402.1,379.4 397.5,378.3 392.4,385.7" fill="#7bf56c"/>
<polygon points="421.7,368.2 426.7,362.1 421.9,361 416.9,367" fill="#f8f759"/>
<polygon points="456.2,350.4 461,346 455.9,344.6 451.2,349" fill="#fc5c49"/>
<polygon points="381.9,402 387.2,393.6 382.7,392.5 377.5,400.9" fill="#66f4b9"/>
<polygon points="466.1,347.4 470.8,343.5 465.7,342 461,346" fill="#f84a44"/>
<polygon points="431.6,363.4 436.5,357.7 431.7,356.5 426.7,362.1" fill="#fdd254"/>
<polygon points="406.8,380.6 411.9,373.6 407.2,372.4 402.1,379.4" fill="#a8f761"/>
<polygon points="476,345 480.7,341.4 475.4,339.9 470.8,343.5" fill="#f3423f"/>
<polygon points="391.7,394.8 396.9,386.8 392.4,385.7 387.2,393.6" fill="#64f487"/>
<polygon points="441.5,359 446.4,353.8 441.4,352.5 436.5,357.7" fill="#ffad4f"/>
<polygon points="486,343 490.5,339.9 485.2,338.3 480.7,341.4" fill="#f33f3c"/>
<polygon points="416.6,374.8 421.7,368.2 416.9,367 411.9,373.6" fill="#d3f75d"/>
<polygon points="495.9,341.6 500.4,338.8 495,337.1 490.5,339.9" fill="#f33c39"/>
<polygon points="505.9,340.6 510.3,338.2 504.8,336.5 500.4,338.8" fill="#f33936"/>
<polygon points="451.4,355.2 456.2,350.4 451.2,349 446.4,353.8" fill="#fe824c"/>
<polygon points="401.6,388 406.8,380.6 402.1,379.4 396.9,386.8" fill="#7ff56c"/>
<polygon points="426.5,369.5 431.6,363.4 426.7,362.1 421.7,368.2" fill="#fbf65a"/>
<polygon points="461.4,351.8 466.1,347.4 461,346 456.2,350.4" fill="#fc5b49"/>
<polygon points="386.4,403.2 391.7,394.8 387.2,393.6 381.9,402" fill="#66f4b4"/>
<polygon points="471.3,349 476,345 470.8,343.5 466.1,347.4" fill="#f84b44"/>
<polygon points="436.5,364.7 441.5,359 436.5,357.7 431.6,363.4" fill="#fdcf54"/>
<polygon points="411.5,381.8 416.6,374.8 411.9,373.6 406.8,380.6" fill="#adf760"/>
<polygon points="481.4,346.6 486,343 480.7,341.4 476,345" fill="#f34240"/>
<polygon points="396.3,396 401.6,388 396.9,386.8 391.7,394.8" fill="#65f482"/>
<polygon points="446.5,360.4 451.4,355.2 446.4,353.8 441.5,359" fill="#ffaa4f"/>
<polygon points="491.4,344.7 495.9,341.6 490.5,339.9 486,343" fill="#f33f3c"/>
<polygon points="421.5,376.1 426.5,369.5 421.7,368.2 416.6,374.8" fill="#d7f75d"/>
<polygon points="501.4,343.4 505.9,340.6 500.4,338.8 495.9,341.6" fill="#f33c39"/>
<polygon points="456.5,356.7 461.4,351.8 456.2,350.4 451.4,355.2" fill="#fe814c"/>
<polygon points="406.3,389.3 411.5,381.8 406.8,380.6 401.6,388" fill="#84f56b"/>
<polygon points="431.5,370.9 436.5,364.7 431.6,363.4 426.5,369.5" fill="#fbf35a"/>
<polygon points="466.6,353.4 471.3,349 466.1,347.4 461.4,351.8" fill="#fc594a"/>
<polygon points="391.1,404.4 396.3,396 391.7,394.8 386.4,403.2" fill="#67f4b0"/>
<polygon points="476.6,350.6 481.4,346.6 476,345 471.3,349" fill="#f84b45"/>
<polygon points="441.5,366.1 446.5,360.4 441.5,359 436.5,364.7" fill="#fdcd54"/>
<polygon points="416.3,383.1 421.5,376.1 416.6,374.8 411.5,381.8" fill="#b1f761"/>
<polygon points="486.7,348.3 491.4,344.7 486,343 481.4,346.6" fill="#f34340"/>
<polygon points="401.1,397.3 406.3,389.3 401.6,388 396.3,396" fill="#66f47f"/>
<polygon points="496.9,346.5 501.4,343.4 495.9,341.6 491.4,344.7" fill="#f3403d"/>
<polygon points="451.6,361.9 456.5,356.7 451.4,355.2 446.5,360.4" fill="#ffa950"/>
<polygon points="426.4,377.5 431.5,370.9 426.5,369.5 421.5,376.1" fill="#daf75d"/>
<polygon points="461.7,358.2 466.6,353.4 461.4,351.8 456.5,356.7" fill="#fe7f4c"/>
<polygon points="411.1,390.6 416.3,383.1 411.5,381.8 406.3,389.3" fill="#88f56b"/>
<polygon points="436.5,372.3 441.5,366.1 436.5,364.7 431.5,370.9" fill="#fbf15a"/>
<polygon points="471.9,355 476.6,350.6 471.3,349 466.6,353.4" fill="#fc594a"/>
<polygon points="395.7,405.7 401.1,397.3 396.3,396 391.1,404.4" fill="#68f4ac"/>
<polygon points="482,352.3 486.7,348.3 481.4,346.6 476.6,350.6" fill="#f84b45"/>
<polygon points="446.6,367.6 451.6,361.9 446.5,360.4 441.5,366.1" fill="#fdcb55"/>
<polygon points="421.2,384.5 426.4,377.5 421.5,376.1 416.3,383.1" fill="#b4f761"/>
<polygon points="492.2,350.1 496.9,346.5 491.4,344.7 486.7,348.3" fill="#f34340"/>
<polygon points="405.8,398.6 411.1,390.6 406.3,389.3 401.1,397.3" fill="#66f47c"/>
<polygon points="456.8,363.5 461.7,358.2 456.5,356.7 451.6,361.9" fill="#ffa750"/>
<polygon points="431.4,378.9 436.5,372.3 431.5,370.9 426.4,377.5" fill="#ddf75e"/>
<polygon points="467,359.9 471.9,355 466.6,353.4 461.7,358.2" fill="#fd7f4e"/>
<polygon points="416,392.1 421.2,384.5 416.3,383.1 411.1,390.6" fill="#8cf66a"/>
<polygon points="441.6,373.8 446.6,367.6 441.5,366.1 436.5,372.3" fill="#fcee5a"/>
<polygon points="477.3,356.7 482,352.3 476.6,350.6 471.9,355" fill="#fc5a4a"/>
<polygon points="400.5,407.1 405.8,398.6 401.1,397.3 395.7,405.7" fill="#68f4a8"/>
<polygon points="487.5,354.1 492.2,350.1 486.7,348.3 482,352.3" fill="#f84c46"/>
<polygon points="451.8,369.2 456.8,363.5 451.6,361.9 446.6,367.6" fill="#fdc955"/>
<polygon points="426.2,386 431.4,378.9 426.4,377.5 421.2,384.5" fill="#b7f761"/>
<polygon points="410.7,400.1 416,392.1 411.1,390.6 405.8,398.6" fill="#66f478"/>
<polygon points="462.1,365.2 467,359.9 461.7,358.2 456.8,363.5" fill="#ffa750"/>
<polygon points="436.5,380.5 441.6,373.8 436.5,372.3 431.4,378.9" fill="#e0f75e"/>
<polygon points="472.4,361.6 477.3,356.7 471.9,355 467,359.9" fill="#fd7e4e"/>
<polygon points="421,393.6 426.2,386 421.2,384.5 416,392.1" fill="#90f66b"/>
<polygon points="446.8,375.4 451.8,369.2 446.6,367.6 441.6,373.8" fill="#fced5a"/>
<polygon points="482.7,358.6 487.5,354.1 482,352.3 477.3,356.7" fill="#fc5b4b"/>
<polygon points="405.4,408.6 410.7,400.1 405.8,398.6 400.5,407.1" fill="#69f4a5"/>
<polygon points="457.1,370.9 462.1,365.2 456.8,363.5 451.8,369.2" fill="#fdc855"/>
<polygon points="431.3,387.6 436.5,380.5 431.4,378.9 426.2,386" fill="#baf762"/>
<polygon points="415.7,401.7 421,393.6 416,392.1 410.7,400.1" fill="#67f475"/>
<polygon points="467.5,366.9 472.4,361.6 467,359.9 462.1,365.2" fill="#ffa651"/>
<polygon points="441.6,382.1 446.8,375.4 441.6,373.8 436.5,380.5" fill="#e1f75e"/>
<polygon points="477.9,363.4 482.7,358.6 477.3,356.7 472.4,361.6" fill="#fd7f4e"/>
<polygon points="426,395.2 431.3,387.6 426.2,386 421,393.6" fill="#93f66a"/>
<polygon points="452,377.1 457.1,370.9 451.8,369.2 446.8,375.4" fill="#fceb5a"/>
<polygon points="410.3,410.2 415.7,401.7 410.7,400.1 405.4,408.6" fill="#69f4a2"/>
<polygon points="462.5,372.7 467.5,366.9 462.1,365.2 457.1,370.9" fill="#fdc856"/>
<polygon points="436.4,389.2 441.6,382.1 436.5,380.5 431.3,387.6" fill="#bcf762"/>
<polygon points="420.7,403.3 426,395.2 421,393.6 415.7,401.7" fill="#69f475"/>
<polygon points="473,368.8 477.9,363.4 472.4,361.6 467.5,366.9" fill="#ffa751"/>
<polygon points="446.9,383.8 452,377.1 446.8,375.4 441.6,382.1" fill="#e3f75f"/>
<polygon points="431.2,396.9 436.4,389.2 431.3,387.6 426,395.2" fill="#95f66a"/>
<polygon points="457.4,378.9 462.5,372.7 457.1,370.9 452,377.1" fill="#fcea5b"/>
<polygon points="415.3,411.9 420.7,403.3 415.7,401.7 410.3,410.2" fill="#69f4a0"/>
<polygon points="467.9,374.5 473,368.8 467.5,366.9 462.5,372.7" fill="#fdc856"/>
<polygon points="441.7,391 446.9,383.8 441.6,382.1 436.4,389.2" fill="#bef762"/>
<polygon points="425.8,405 431.2,396.9 426,395.2 420.7,403.3" fill="#6df475"/>
<polygon points="452.3,385.6 457.4,378.9 452,377.1 446.9,383.8" fill="#e4f75f"/>
<polygon points="436.4,398.7 441.7,391 436.4,389.2 431.2,396.9" fill="#97f66a"/>
<polygon points="462.9,380.8 467.9,374.5 462.5,372.7 457.4,378.9" fill="#fcea5b"/>
<polygon points="420.5,413.6 425.8,405 420.7,403.3 415.3,411.9" fill="#6af49e"/>
<polygon points="447,392.8 452.3,385.6 446.9,383.8 441.7,391" fill="#bff763"/>
<polygon points="431.1,406.8 436.4,398.7 431.2,396.9 425.8,405" fill="#6ef475"/>
<polygon points="457.7,387.6 462.9,380.8 457.4,378.9 452.3,385.6" fill="#e5f75f"/>
<polygon points="441.7,400.5 447,392.8 441.7,391 436.4,398.7" fill="#99f66b"/>
<polygon points="425.7,415.5 431.1,406.8 425.8,405 420.5,413.6" fill="#6af49c"/>
<polygon points="452.5,394.8 457.7,387.6 452.3,385.6 447,392.8" fill="#c0f763"/>
<polygon points="436.4,408.7 441.7,400.5 436.4,398.7 431.1,406.8" fill="#70f575"/>
<polygon points="447.2,402.5 452.5,394.8 447,392.8 441.7,400.5" fill="#9af66b"/>
<polygon points="431,417.4 436.4,408.7 431.1,406.8 425.7,415.5" fill="#6af49b"/>
<polygon points="441.8,410.8 447.2,402.5 441.7,400.5 436.4,408.7" fill="#72f576"/>
<polygon points="436.4,419.5 441.8,410.8 436.4,408.7 431,417.4" fill="#6bf49a"/>
</g>
<circle cx="436.3" cy="327.7" r="2.1" fill="#b80d14" stroke="#700000" stroke-width="0.6"/>
<circle cx="436.3" cy="334.3" r="2.1" fill="#b80d14" stroke="#700000" stroke-width="0.6"/>
<circle cx="491.1" cy="346.7" r="2.1" fill="#b80d14" stroke="#700000" stroke-width="0.6"/>
<g font-family="'Liberation Sans',sans-serif" font-size="4.6" fill="#4d4d4d">
<circle cx="337.8" cy="415.3" r="1" fill="#111"/>
<text x="334.8" y="414.1" text-anchor="end">0</text>
<circle cx="336.8" cy="393.7" r="1" fill="#111"/>
<text x="333.8" y="392.5" text-anchor="end">20</text>
<circle cx="335.9" cy="372.1" r="1" fill="#111"/>
<text x="332.9" y="370.9" text-anchor="end">40</text>
<circle cx="335" cy="350.6" r="1" fill="#111"/>
<text x="332" y="349.4" text-anchor="end">60</text>
<circle cx="334.1" cy="329" r="1" fill="#111"/>
<text x="331.1" y="327.8" text-anchor="end">80</text>
<circle cx="333.1" cy="307.4" r="1" fill="#111"/>
<text x="330.1" y="306.2" text-anchor="end">100</text>
<circle cx="339.2" cy="449.3" r="1" fill="#111"/>
<text x="335.2" y="453.3" text-anchor="middle">1</text>
<circle cx="533.4" cy="449.1" r="1" fill="#111"/>
<text x="537.4" y="453.7" text-anchor="middle">1</text>
<circle cx="363.5" cy="461.5" r="1" fill="#111"/>
<text x="357" y="466.5" text-anchor="middle">0.5</text>
<circle cx="509.1" cy="461.3" r="1" fill="#111"/>
<text x="515.6" y="466.3" text-anchor="middle">0.5</text>
<circle cx="387.8" cy="473.7" r="1" fill="#111"/>
<text x="383.3" y="478.7" text-anchor="middle">0</text>
<circle cx="484.8" cy="473.6" r="1" fill="#111"/>
<text x="488.2" y="478.6" text-anchor="middle">0</text>
<circle cx="412" cy="485.9" r="1" fill="#111"/>
<text x="405.5" y="490.9" text-anchor="middle">-0.5</text>
<circle cx="460.6" cy="485.8" r="1" fill="#111"/>
<text x="467.1" y="490.8" text-anchor="middle">-0.5</text>
<circle cx="436.3" cy="498.1" r="1" fill="#111"/>
<text x="431.8" y="503.5" text-anchor="middle">-1</text>
<text x="440.8" y="503.5" text-anchor="middle">-1</text>
<text x="350.5" y="491.9" text-anchor="middle">B: Speed (mm/s)</text>
<text x="521.4" y="491.9" text-anchor="middle">A: Power (W)</text>
<text transform="translate(300.6,380.9) rotate(-90)" text-anchor="middle" font-size="4.75">Reduction of Area (%)</text>
</g>
<text x="419" y="531" text-anchor="middle" font-family="'Liberation Serif',serif" font-size="13.8" fill="#111">(<tspan font-weight="bold">d</tspan>)</text>
<polygon points="192.3,711.2 290,760.4 388,710.9 290.4,672.3" fill="#5b5b5b"/>
<polyline points="293.5,758.7 290.6,757.4 287.9,756 285.1,754.7 282.4,753.3 279.6,752 277,750.6 274.3,749.3 271.7,748 269.1,746.7 266.5,745.3 263.9,744 261.4,742.7 258.9,741.4 256.4,740.1 254,738.8 251.6,737.5 249.2,736.3 246.8,735 244.4,733.7 242.1,732.4 240.6,731.6 238.7,730.5 236.4,729.3 234.2,728 231.9,726.8 229.7,725.5 227.6,724.3 225.4,723.1 223.3,721.8 222.1,721.1 220.1,720 218.1,718.8 216,717.5 214,716.3 212,715.1 210,713.9 209,713.3 207.1,712.1 205.2,710.9 203.3,709.7 201.4,708.5" fill="none" stroke="#25cfc0" stroke-width="1.1"/>
<polyline points="303.2,753.8 300.4,752.5 297.6,751.1 294.8,749.8 292.1,748.5 289.4,747.2 286.7,745.9 284,744.6 281.4,743.3 278.8,742.1 276.2,740.8 273.6,739.5 271.1,738.2 268.6,736.9 266.1,735.7 263.6,734.4 261.2,733.2 258.8,731.9 256.4,730.7 254.1,729.4 252.3,728.5 250.6,727.5 248.3,726.3 246,725.1 243.8,723.8 241.6,722.6 239.4,721.4 237.2,720.2 235.1,718.9 233.8,718.2 231.9,717.1 229.8,715.9 227.8,714.7 225.7,713.5 223.7,712.3 222,711.3 220.7,710.5 218.8,709.4 216.8,708.2 214.9,707 213,705.8 212.1,705.2 210.3,704.1" fill="none" stroke="#2ad860" stroke-width="1.1"/>
<polyline points="313,748.9 310.1,747.6 307.3,746.3 304.5,745 301.7,743.8 299,742.5 296.3,741.3 293.6,740 291,738.7 288.4,737.5 285.8,736.2 283.2,735 280.7,733.7 278.1,732.5 275.7,731.3 273.2,730 270.8,728.8 268.4,727.6 266.9,726.8 264.8,725.7 262.5,724.5 260.2,723.3 257.9,722.1 255.6,720.9 253.4,719.7 251.2,718.5 249,717.3 247.1,716.2 245.8,715.5 243.6,714.3 241.5,713.1 239.5,711.9 237.4,710.7 235.4,709.5 234.4,708.9 232.4,707.7 230.5,706.6 228.5,705.4 226.6,704.2 225.7,703.6 223.8,702.5 222,701.3 220.1,700.1" fill="none" stroke="#67da32" stroke-width="1.1"/>
<polyline points="324.3,743.1 321.4,741.9 318.6,740.7 315.7,739.5 312.9,738.3 310.2,737.1 307.5,735.8 304.8,734.6 302.1,733.4 299.5,732.2 296.8,731 294.3,729.8 291.7,728.6 289.2,727.4 286.7,726.2 284.3,725 281.8,723.8 279.4,722.6 277,721.4 274.7,720.2 272.4,719 270.1,717.8 267.8,716.6 266.7,716 264.5,714.8 262.3,713.6 260.1,712.5 258,711.3 255.9,710.1 254.1,709.1 252.8,708.3 250.7,707.2 248.7,706 246.7,704.8 245,703.8 243.8,703.1 241.9,701.9 240,700.7 238.1,699.6 237.2,699 235.4,697.8 233.6,696.7 232.2,695.7" fill="none" stroke="#c9dc2d" stroke-width="1.1"/>
<polyline points="339.4,735.5 336.4,734.4 333.5,733.3 330.6,732.1 327.7,731 324.9,729.9 323.5,729.3 320.8,728.1 318.1,727 315.4,725.8 312.7,724.7 310.1,723.5 307.5,722.4 305,721.2 302.5,720.1 300,718.9 297.5,717.8 295.1,716.6 293.2,715.7 291.6,714.9 289.2,713.7 286.9,712.5 284.7,711.4 282.4,710.2 280.2,709 278.1,707.9 277,707.3 274.9,706.1 272.8,705 270.8,703.8 268.7,702.6 267.7,702 265.8,700.9 263.9,699.7 262,698.5 261,697.9 259.2,696.7 257.4,695.6 256.5,695 254.8,693.8 253.1,692.6 252.2,692 250.6,690.8 249.2,689.8 248.2,689" fill="none" stroke="#e58e28" stroke-width="1.1"/>
<path d="M190.7,677 L290.4,641.3 L389.6,676.8 M189.7,655.2 L290.4,621.7 L390.6,655 M188.7,633.4 L290.4,602.1 L391.6,633.3 M187.7,611.7 L290.4,582.5 L392.5,611.6 M186.7,589.9 L290.4,562.9 L393.5,589.8 M185.7,568.1 L290.4,543.4 L394.5,568.1 M215.6,668.1 L211.9,561.9 M315.2,650.2 L316.4,549.5 M240.6,659.2 L238.1,555.7 M340,659 L342.5,555.7 M265.5,650.2 L264.2,549.5 M364.8,667.9 L368.5,561.9 M192.3,711.2 L185.7,568.1 M290.4,672.3 L290.4,543.4 M388,710.9 L394.5,568.1" fill="none" stroke="#585858" stroke-width="0.75"/>
<line x1="346.1" y1="607.2" x2="346.1" y2="603" stroke="#555" stroke-width="0.6"/>
<circle cx="346.1" cy="607.2" r="2.1" fill="#fbd5dc" stroke="#c0606e" stroke-width="0.6"/>
<g stroke="#000" stroke-opacity="0.42" stroke-width="0.42" stroke-linejoin="round">
<polygon points="290.4,561 294.4,561.8 290.4,561.5 286.4,560.7" fill="#fd5b2e"/>
<polygon points="294.4,561.3 298.5,562.1 294.4,561.8 290.4,561" fill="#fd522e"/>
<polygon points="286.3,560.6 290.4,561 286.4,560.7 282.3,560.3" fill="#fc472e"/>
<polygon points="298.6,561.8 302.6,562.6 298.5,562.1 294.4,561.3" fill="#fd4a2e"/>
<polygon points="290.4,560.9 294.4,561.3 290.4,561 286.3,560.6" fill="#fc3e2e"/>
<polygon points="282.2,560.7 286.3,560.6 282.3,560.3 278.2,560.4" fill="#fc3a2e"/>
<polygon points="302.7,562.3 306.7,563.1 302.6,562.6 298.6,561.8" fill="#fc422e"/>
<polygon points="294.5,561.4 298.6,561.8 294.4,561.3 290.4,560.9" fill="#fb392e"/>
<polygon points="286.2,561 290.4,560.9 286.3,560.6 282.2,560.7" fill="#fa372d"/>
<polygon points="278,561.2 282.2,560.7 278.2,560.4 274,560.9" fill="#fa372d"/>
<polygon points="307,562.8 311,563.7 306.7,563.1 302.7,562.3" fill="#fc3c2e"/>
<polygon points="298.7,561.9 302.7,562.3 298.6,561.8 294.5,561.4" fill="#fa372d"/>
<polygon points="290.4,561.4 294.5,561.4 290.4,560.9 286.2,561" fill="#f8352d"/>
<polygon points="273.7,562.1 278,561.2 274,560.9 269.7,561.9" fill="#f9362d"/>
<polygon points="282,561.5 286.2,561 282.2,560.7 278,561.2" fill="#f8352c"/>
<polygon points="311.3,563.5 315.3,564.3 311,563.7 307,562.8" fill="#fb392e"/>
<polygon points="302.9,562.4 307,562.8 302.7,562.3 298.7,561.9" fill="#f9362d"/>
<polygon points="269.4,563.6 273.7,562.1 269.7,561.9 265.4,563.3" fill="#f9372d"/>
<polygon points="294.5,561.9 298.7,561.9 294.5,561.4 290.4,561.4" fill="#f7342c"/>
<polygon points="277.8,562.5 282,561.5 278,561.2 273.7,562.1" fill="#f7342c"/>
<polygon points="286.2,561.9 290.4,561.4 286.2,561 282,561.5" fill="#f7332c"/>
<polygon points="315.7,564.2 319.7,565.1 315.3,564.3 311.3,563.5" fill="#fa382d"/>
<polygon points="265,565.5 269.4,563.6 265.4,563.3 261,565.2" fill="#fb382d"/>
<polygon points="307.2,563.1 311.3,563.5 307,562.8 302.9,562.4" fill="#f8342c"/>
<polygon points="273.5,563.9 277.8,562.5 273.7,562.1 269.4,563.6" fill="#f8342c"/>
<polygon points="298.8,562.5 302.9,562.4 298.7,561.9 294.5,561.9" fill="#f6322c"/>
<polygon points="281.9,562.9 286.2,561.9 282,561.5 277.8,562.5" fill="#f6322c"/>
<polygon points="290.3,562.4 294.5,561.9 290.4,561.4 286.2,561.9" fill="#f5312b"/>
<polygon points="260.6,567.9 265,565.5 261,565.2 256.6,567.6" fill="#fc4333"/>
<polygon points="320.1,565.1 324.1,565.9 319.7,565.1 315.7,564.2" fill="#fa372d"/>
<polygon points="269.1,565.8 273.5,563.9 269.4,563.6 265,565.5" fill="#f9362d"/>
<polygon points="311.6,563.8 315.7,564.2 311.3,563.5 307.2,563.1" fill="#f7332c"/>
<polygon points="277.6,564.3 281.9,562.9 277.8,562.5 273.5,563.9" fill="#f6322c"/>
<polygon points="303.1,563.1 307.2,563.1 302.9,562.4 298.8,562.5" fill="#f5312b"/>
<polygon points="286.1,563.4 290.3,562.4 286.2,561.9 281.9,562.9" fill="#f4302b"/>
<polygon points="294.6,563 298.8,562.5 294.5,561.9 290.3,562.4" fill="#f4302b"/>
<polygon points="256.1,570.8 260.6,567.9 256.6,567.6 252.1,570.6" fill="#fd5938"/>
<polygon points="324.6,566 328.6,566.8 324.1,565.9 320.1,565.1" fill="#f9362d"/>
<polygon points="264.6,568.3 269.1,565.8 265,565.5 260.6,567.9" fill="#fb3e33"/>
<polygon points="316.1,564.6 320.1,565.1 315.7,564.2 311.6,563.8" fill="#f6322c"/>
<polygon points="273.2,566.2 277.6,564.3 273.5,563.9 269.1,565.8" fill="#f7352d"/>
<polygon points="307.5,563.9 311.6,563.8 307.2,563.1 303.1,563.1" fill="#f42f2b"/>
<polygon points="281.8,564.8 286.1,563.4 281.9,562.9 277.6,564.3" fill="#f5302b"/>
<polygon points="298.9,563.6 303.1,563.1 298.8,562.5 294.6,563" fill="#f32e2a"/>
<polygon points="290.3,563.9 294.6,563 290.3,562.4 286.1,563.4" fill="#f32e2a"/>
<polygon points="251.6,574.3 256.1,570.8 252.1,570.6 247.6,574" fill="#fe743c"/>
<polygon points="260.1,571.2 264.6,568.3 260.6,567.9 256.1,570.8" fill="#fc5139"/>
<polygon points="329.2,567 333.2,567.8 328.6,566.8 324.6,566" fill="#f9362d"/>
<polygon points="268.7,568.7 273.2,566.2 269.1,565.8 264.6,568.3" fill="#fa3d33"/>
<polygon points="320.6,565.5 324.6,566 320.1,565.1 316.1,564.6" fill="#f5312b"/>
<polygon points="277.4,566.7 281.8,564.8 277.6,564.3 273.2,566.2" fill="#f6342e"/>
<polygon points="311.9,564.7 316.1,564.6 311.6,563.8 307.5,563.9" fill="#f32e2a"/>
<polygon points="286,565.4 290.3,563.9 286.1,563.4 281.8,564.8" fill="#f32f2b"/>
<polygon points="303.3,564.3 307.5,563.9 303.1,563.1 298.9,563.6" fill="#f22d2a"/>
<polygon points="294.6,564.6 298.9,563.6 294.6,563 290.3,563.9" fill="#f22d2a"/>
<polygon points="247,578.2 251.6,574.3 247.6,574 243,577.9" fill="#ff9341"/>
<polygon points="255.6,574.6 260.1,571.2 256.1,570.8 251.6,574.3" fill="#fd6b3e"/>
<polygon points="264.2,571.6 268.7,568.7 264.6,568.3 260.1,571.2" fill="#fc4939"/>
<polygon points="333.8,568.1 337.8,568.9 333.2,567.8 329.2,567" fill="#f8352d"/>
<polygon points="272.9,569.2 277.4,566.7 273.2,566.2 268.7,568.7" fill="#f83b33"/>
<polygon points="325.1,566.5 329.2,567 324.6,566 320.6,565.5" fill="#f5312b"/>
<polygon points="281.6,567.3 286,565.4 281.8,564.8 277.4,566.7" fill="#f4322d"/>
<polygon points="316.4,565.6 320.6,565.5 316.1,564.6 311.9,564.7" fill="#f22d2a"/>
<polygon points="290.3,566 294.6,564.6 290.3,563.9 286,565.4" fill="#f22d2a"/>
<polygon points="307.7,565.2 311.9,564.7 307.5,563.9 303.3,564.3" fill="#f22d2a"/>
<polygon points="299,565.3 303.3,564.3 298.9,563.6 294.6,564.6" fill="#f22d2a"/>
<polygon points="242.3,582.7 247,578.2 243,577.9 238.4,582.4" fill="#feb048"/>
<polygon points="251,578.6 255.6,574.6 251.6,574.3 247,578.2" fill="#fe8a42"/>
<polygon points="259.7,575.1 264.2,571.6 260.1,571.2 255.6,574.6" fill="#fd633e"/>
<polygon points="268.4,572.1 272.9,569.2 268.7,568.7 264.2,571.6" fill="#fb443a"/>
<polygon points="338.5,569.3 342.5,570.1 337.8,568.9 333.8,568.1" fill="#f8352d"/>
<polygon points="237.6,587.8 242.3,582.7 238.4,582.4 233.7,587.5" fill="#fdce4e"/>
<polygon points="277.2,569.7 281.6,567.3 277.4,566.7 272.9,569.2" fill="#f73a33"/>
<polygon points="329.8,567.6 333.8,568.1 329.2,567 325.1,566.5" fill="#f4302b"/>
<polygon points="285.9,567.9 290.3,566 286,565.4 281.6,567.3" fill="#f3322e"/>
<polygon points="321,566.6 325.1,566.5 320.6,565.5 316.4,565.6" fill="#f22d2a"/>
<polygon points="294.7,566.7 299,565.3 294.6,564.6 290.3,566" fill="#f22d2a"/>
<polygon points="312.2,566 316.4,565.6 311.9,564.7 307.7,565.2" fill="#f22d2a"/>
<polygon points="303.5,566.1 307.7,565.2 303.3,564.3 299,565.3" fill="#f22d2a"/>
<polygon points="246.3,583.1 251,578.6 247,578.2 242.3,582.7" fill="#ffaa47"/>
<polygon points="255.1,579.1 259.7,575.1 255.6,574.6 251,578.6" fill="#fe8243"/>
<polygon points="232.9,593.4 237.6,587.8 233.7,587.5 229,593.1" fill="#fced55"/>
<polygon points="263.8,575.6 268.4,572.1 264.2,571.6 259.7,575.1" fill="#fd5d3f"/>
<polygon points="272.6,572.7 277.2,569.7 272.9,569.2 268.4,572.1" fill="#fa433a"/>
<polygon points="343.3,570.5 347.3,571.4 342.5,570.1 338.5,569.3" fill="#f8352d"/>
<polygon points="241.6,588.2 246.3,583.1 242.3,582.7 237.6,587.8" fill="#fdc74e"/>
<polygon points="281.5,570.4 285.9,567.9 281.6,567.3 277.2,569.7" fill="#f53a33"/>
<polygon points="334.5,568.8 338.5,569.3 333.8,568.1 329.8,567.6" fill="#f4302b"/>
<polygon points="290.3,568.7 294.7,566.7 290.3,566 285.9,567.9" fill="#f2312e"/>
<polygon points="325.7,567.6 329.8,567.6 325.1,566.5 321,566.6" fill="#f22d2a"/>
<polygon points="299.1,567.6 303.5,566.1 299,565.3 294.7,566.7" fill="#f22d2a"/>
<polygon points="316.8,567 321,566.6 316.4,565.6 312.2,566" fill="#f22d2a"/>
<polygon points="308,567 312.2,566 307.7,565.2 303.5,566.1" fill="#f22d2a"/>
<polygon points="250.4,583.6 255.1,579.1 251,578.6 246.3,583.1" fill="#ffa448"/>
<polygon points="228.1,599.6 232.9,593.4 229,593.1 224.2,599.2" fill="#e5f75b"/>
<polygon points="259.2,579.6 263.8,575.6 259.7,575.1 255.1,579.1" fill="#fe7b43"/>
<polygon points="236.9,593.9 241.6,588.2 237.6,587.8 232.9,593.4" fill="#fce655"/>
<polygon points="268.1,576.2 272.6,572.7 268.4,572.1 263.8,575.6" fill="#fc5640"/>
<polygon points="276.9,573.4 281.5,570.4 277.2,569.7 272.6,572.7" fill="#f9433a"/>
<polygon points="223.3,606.4 228.1,599.6 224.2,599.2 219.4,606" fill="#c3f760"/>
<polygon points="348.2,571.9 352.1,572.8 347.3,571.4 343.3,570.5" fill="#f9362d"/>
<polygon points="245.7,588.7 250.4,583.6 246.3,583.1 241.6,588.2" fill="#fdc14f"/>
<polygon points="285.8,571.1 290.3,568.7 285.9,567.9 281.5,570.4" fill="#f43934"/>
<polygon points="339.3,570.1 343.3,570.5 338.5,569.3 334.5,568.8" fill="#f4302b"/>
<polygon points="294.7,569.5 299.1,567.6 294.7,566.7 290.3,568.7" fill="#f2312e"/>
<polygon points="330.4,568.8 334.5,568.8 329.8,567.6 325.7,567.6" fill="#f22d2a"/>
<polygon points="303.7,568.5 308,567 303.5,566.1 299.1,567.6" fill="#f22d2a"/>
<polygon points="321.5,568.1 325.7,567.6 321,566.6 316.8,567" fill="#f22d2a"/>
<polygon points="312.6,568 316.8,567 312.2,566 308,567" fill="#f22d2a"/>
<polygon points="254.6,584.2 259.2,579.6 255.1,579.1 250.4,583.6" fill="#ff9d49"/>
<polygon points="232.1,600.1 236.9,593.9 232.9,593.4 228.1,599.6" fill="#ebf75b"/>
<polygon points="218.4,613.8 223.3,606.4 219.4,606 214.5,613.3" fill="#a0f768"/>
<polygon points="263.4,580.2 268.1,576.2 263.8,575.6 259.2,579.6" fill="#fd7445"/>
<polygon points="240.9,594.4 245.7,588.7 241.6,588.2 236.9,593.9" fill="#fce156"/>
<polygon points="272.4,576.9 276.9,573.4 272.6,572.7 268.1,576.2" fill="#fc5141"/>
<polygon points="281.3,574.1 285.8,571.1 281.5,570.4 276.9,573.4" fill="#f8423a"/>
<polygon points="353.1,573.4 357,574.3 352.1,572.8 348.2,571.9" fill="#f9362d"/>
<polygon points="227.2,606.9 232.1,600.1 228.1,599.6 223.3,606.4" fill="#c9f761"/>
<polygon points="249.8,589.3 254.6,584.2 250.4,583.6 245.7,588.7" fill="#febc4f"/>
<polygon points="290.3,572 294.7,569.5 290.3,568.7 285.8,571.1" fill="#f53835"/>
<polygon points="344.2,571.5 348.2,571.9 343.3,570.5 339.3,570.1" fill="#f5302b"/>
<polygon points="213.5,621.7 218.4,613.8 214.5,613.3 209.7,621.3" fill="#7cf574"/>
<polygon points="299.3,570.4 303.7,568.5 299.1,567.6 294.7,569.5" fill="#f2322f"/>
<polygon points="335.2,570.1 339.3,570.1 334.5,568.8 330.4,568.8" fill="#f22d2a"/>
<polygon points="308.2,569.4 312.6,568 308,567 303.7,568.5" fill="#f22e2b"/>
<polygon points="326.2,569.3 330.4,568.8 325.7,567.6 321.5,568.1" fill="#f22d2a"/>
<polygon points="317.2,569.1 321.5,568.1 316.8,567 312.6,568" fill="#f22d2a"/>
<polygon points="258.8,584.8 263.4,580.2 259.2,579.6 254.6,584.2" fill="#fe9649"/>
<polygon points="236.1,600.6 240.9,594.4 236.9,593.9 232.1,600.1" fill="#f1f75c"/>
<polygon points="267.7,580.9 272.4,576.9 268.1,576.2 263.4,580.2" fill="#fd6f46"/>
<polygon points="222.4,614.3 227.2,606.9 223.3,606.4 218.4,613.8" fill="#a6f767"/>
<polygon points="208.6,630.3 213.5,621.7 209.7,621.3 204.8,629.8" fill="#6ef591"/>
<polygon points="245.1,595 249.8,589.3 245.7,588.7 240.9,594.4" fill="#fddb56"/>
<polygon points="276.7,577.6 281.3,574.1 276.9,573.4 272.4,576.9" fill="#fc4c41"/>
<polygon points="285.8,574.9 290.3,572 285.8,571.1 281.3,574.1" fill="#f8413b"/>
<polygon points="358.1,575 362,575.9 357,574.3 353.1,573.4" fill="#fa372d"/>
<polygon points="231.3,607.5 236.1,600.6 232.1,600.1 227.2,606.9" fill="#cff761"/>
<polygon points="203.6,639.5 208.6,630.3 204.8,629.8 199.8,638.9" fill="#72f5bc"/>
<polygon points="254,589.9 258.8,584.8 254.6,584.2 249.8,589.3" fill="#feb750"/>
<polygon points="294.8,572.9 299.3,570.4 294.7,569.5 290.3,572" fill="#f43834"/>
<polygon points="349.1,572.9 353.1,573.4 348.2,571.9 344.2,571.5" fill="#f5312b"/>
<polygon points="217.5,622.3 222.4,614.3 218.4,613.8 213.5,621.7" fill="#82f674"/>
<polygon points="303.8,571.4 308.2,569.4 303.7,568.5 299.3,570.4" fill="#f23330"/>
<polygon points="340.1,571.5 344.2,571.5 339.3,570.1 335.2,570.1" fill="#f22d2a"/>
<polygon points="312.9,570.5 317.2,569.1 312.6,568 308.2,569.4" fill="#f22e2b"/>
<polygon points="331,570.6 335.2,570.1 330.4,568.8 326.2,569.3" fill="#f22d2a"/>
<polygon points="322,570.3 326.2,569.3 321.5,568.1 317.2,569.1" fill="#f22d2a"/>
<polygon points="263,585.5 267.7,580.9 263.4,580.2 258.8,584.8" fill="#fe914a"/>
<polygon points="240.2,601.2 245.1,595 240.9,594.4 236.1,600.6" fill="#f6f75d"/>
<polygon points="198.7,649.3 203.6,639.5 199.8,638.9 194.9,648.7" fill="#75efe5"/>
<polygon points="272.1,581.7 276.7,577.6 272.4,576.9 267.7,580.9" fill="#fd6b46"/>
<polygon points="226.4,614.9 231.3,607.5 227.2,606.9 222.4,614.3" fill="#acf867"/>
<polygon points="212.5,630.9 217.5,622.3 213.5,621.7 208.6,630.3" fill="#6ef58d"/>
<polygon points="249.2,595.6 254,589.9 249.8,589.3 245.1,595" fill="#fdd657"/>
<polygon points="281.2,578.5 285.8,574.9 281.3,574.1 276.7,577.6" fill="#fb4c42"/>
<polygon points="193.7,659.7 198.7,649.3 194.9,648.7 189.9,659" fill="#7adbfb"/>
<polygon points="363.2,576.7 367.1,577.6 362,575.9 358.1,575" fill="#fa382d"/>
<polygon points="290.3,575.9 294.8,572.9 290.3,572 285.8,574.9" fill="#f7413c"/>
<polygon points="235.4,608.1 240.2,601.2 236.1,600.6 231.3,607.5" fill="#d4f762"/>
<polygon points="354.1,574.5 358.1,575 353.1,573.4 349.1,572.9" fill="#f6322b"/>
<polygon points="299.4,573.9 303.8,571.4 299.3,570.4 294.8,572.9" fill="#f33835"/>
<polygon points="258.3,590.7 263,585.5 258.8,584.8 254,589.9" fill="#feb350"/>
<polygon points="207.5,640.1 212.5,630.9 208.6,630.3 203.6,639.5" fill="#73f5b8"/>
<polygon points="221.5,622.9 226.4,614.9 222.4,614.3 217.5,622.3" fill="#89f674"/>
<polygon points="345,572.9 349.1,572.9 344.2,571.5 340.1,571.5" fill="#f22d2a"/>
<polygon points="308.5,572.5 312.9,570.5 308.2,569.4 303.8,571.4" fill="#f23431"/>
<polygon points="335.9,571.9 340.1,571.5 335.2,570.1 331,570.6" fill="#f22d2a"/>
<polygon points="317.6,571.7 322,570.3 317.2,569.1 312.9,570.5" fill="#f22f2c"/>
<polygon points="326.8,571.5 331,570.6 326.2,569.3 322,570.3" fill="#f22d2a"/>
<polygon points="267.4,586.3 272.1,581.7 267.7,580.9 263,585.5" fill="#fe8c4b"/>
<polygon points="244.4,602 249.2,595.6 245.1,595 240.2,601.2" fill="#faf75d"/>
<polygon points="202.5,650 207.5,640.1 203.6,639.5 198.7,649.3" fill="#76f0e0"/>
<polygon points="276.5,582.5 281.2,578.5 276.7,577.6 272.1,581.7" fill="#fd6647"/>
<polygon points="230.5,615.6 235.4,608.1 231.3,607.5 226.4,614.9" fill="#b2f867"/>
<polygon points="216.5,631.6 221.5,622.9 217.5,622.3 212.5,630.9" fill="#6ff589"/>
<polygon points="253.5,596.4 258.3,590.7 254,589.9 249.2,595.6" fill="#fdd257"/>
<polygon points="285.7,579.4 290.3,575.9 285.8,574.9 281.2,578.5" fill="#fa4c42"/>
<polygon points="197.5,660.5 202.5,650 198.7,649.3 193.7,659.7" fill="#7be0fb"/>
<polygon points="368.3,578.5 372.2,579.4 367.1,577.6 363.2,576.7" fill="#fb392e"/>
<polygon points="294.8,576.9 299.4,573.9 294.8,572.9 290.3,575.9" fill="#f6413b"/>
<polygon points="239.5,608.9 244.4,602 240.2,601.2 235.4,608.1" fill="#d9f763"/>
<polygon points="359.2,576.2 363.2,576.7 358.1,575 354.1,574.5" fill="#f6332c"/>
<polygon points="304,575 308.5,572.5 303.8,571.4 299.4,573.9" fill="#f33936"/>
<polygon points="262.6,591.5 267.4,586.3 263,585.5 258.3,590.7" fill="#ffaf50"/>
<polygon points="211.5,640.9 216.5,631.6 212.5,630.9 207.5,640.1" fill="#74f5b4"/>
<polygon points="350,574.5 354.1,574.5 349.1,572.9 345,572.9" fill="#f32e2a"/>
<polygon points="225.5,623.7 230.5,615.6 226.4,614.9 221.5,622.9" fill="#8ef673"/>
<polygon points="313.2,573.7 317.6,571.7 312.9,570.5 308.5,572.5" fill="#f23431"/>
<polygon points="340.8,573.4 345,572.9 340.1,571.5 335.9,571.9" fill="#f22d2a"/>
<polygon points="322.4,573 326.8,571.5 322,570.3 317.6,571.7" fill="#f2302d"/>
<polygon points="331.6,572.9 335.9,571.9 331,570.6 326.8,571.5" fill="#f22d2a"/>
<polygon points="271.8,587.2 276.5,582.5 272.1,581.7 267.4,586.3" fill="#fe884c"/>
<polygon points="248.7,602.7 253.5,596.4 249.2,595.6 244.4,602" fill="#fbf35e"/>
<polygon points="206.5,650.8 211.5,640.9 207.5,640.1 202.5,650" fill="#77f1dc"/>
<polygon points="281,583.5 285.7,579.4 281.2,578.5 276.5,582.5" fill="#fd6348"/>
<polygon points="234.6,616.4 239.5,608.9 235.4,608.1 230.5,615.6" fill="#b7f868"/>
<polygon points="220.5,632.4 225.5,623.7 221.5,622.9 216.5,631.6" fill="#71f585"/>
<polygon points="257.8,597.3 262.6,591.5 258.3,590.7 253.5,596.4" fill="#fdcf57"/>
<polygon points="290.2,580.4 294.8,576.9 290.3,575.9 285.7,579.4" fill="#fb4b42"/>
<polygon points="373.6,580.4 377.5,581.3 372.2,579.4 368.3,578.5" fill="#fc3c2e"/>
<polygon points="201.4,661.3 206.5,650.8 202.5,650 197.5,660.5" fill="#7be3fa"/>
<polygon points="299.5,578 304,575 299.4,573.9 294.8,576.9" fill="#f6423c"/>
<polygon points="364.4,578 368.3,578.5 363.2,576.7 359.2,576.2" fill="#f7342c"/>
<polygon points="243.8,609.7 248.7,602.7 244.4,602 239.5,608.9" fill="#def763"/>
<polygon points="308.8,576.2 313.2,573.7 308.5,572.5 304,575" fill="#f33937"/>
<polygon points="267,592.4 271.8,587.2 267.4,586.3 262.6,591.5" fill="#ffac51"/>
<polygon points="215.5,641.7 220.5,632.4 216.5,631.6 211.5,640.9" fill="#75f5b0"/>
<polygon points="355.1,576.2 359.2,576.2 354.1,574.5 350,574.5" fill="#f32f2a"/>
<polygon points="318,575 322.4,573 317.6,571.7 313.2,573.7" fill="#f23532"/>
<polygon points="229.6,624.5 234.6,616.4 230.5,615.6 225.5,623.7" fill="#93f673"/>
<polygon points="345.9,575 350,574.5 345,572.9 340.8,573.4" fill="#f22d2a"/>
<polygon points="327.3,574.4 331.6,572.9 326.8,571.5 322.4,573" fill="#f2312e"/>
<polygon points="336.6,574.4 340.8,573.4 335.9,571.9 331.6,572.9" fill="#f22d2a"/>
<polygon points="276.3,588.2 281,583.5 276.5,582.5 271.8,587.2" fill="#fe854c"/>
<polygon points="253,603.6 257.8,597.3 253.5,596.4 248.7,602.7" fill="#fcef5e"/>
<polygon points="210.5,651.6 215.5,641.7 211.5,640.9 206.5,650.8" fill="#78f2d9"/>
<polygon points="285.6,584.6 290.2,580.4 285.7,579.4 281,583.5" fill="#fd6149"/>
<polygon points="238.8,617.2 243.8,609.7 239.5,608.9 234.6,616.4" fill="#bcf869"/>
<polygon points="224.7,633.2 229.6,624.5 225.5,623.7 220.5,632.4" fill="#71f582"/>
<polygon points="262.2,598.2 267,592.4 262.6,591.5 257.8,597.3" fill="#fdcc58"/>
<polygon points="294.9,581.6 299.5,578 294.8,576.9 290.2,580.4" fill="#fa4b43"/>
<polygon points="378.9,582.4 382.8,583.3 377.5,581.3 373.6,580.4" fill="#fc432e"/>
<polygon points="205.4,662.2 210.5,651.6 206.5,650.8 201.4,661.3" fill="#7ce7fa"/>
<polygon points="304.2,579.2 308.8,576.2 304,575 299.5,578" fill="#f6413d"/>
<polygon points="369.6,579.9 373.6,580.4 368.3,578.5 364.4,578" fill="#f8352d"/>
<polygon points="248.1,610.6 253,603.6 248.7,602.7 243.8,609.7" fill="#e2f764"/>
<polygon points="313.6,577.5 318,575 313.2,573.7 308.8,576.2" fill="#f33a37"/>
<polygon points="271.5,593.4 276.3,588.2 271.8,587.2 267,592.4" fill="#ffaa52"/>
<polygon points="360.3,578 364.4,578 359.2,576.2 355.1,576.2" fill="#f4302b"/>
<polygon points="219.6,642.6 224.7,633.2 220.5,632.4 215.5,641.7" fill="#75f5ac"/>
<polygon points="322.9,576.4 327.3,574.4 322.4,573 318,575" fill="#f33633"/>
<polygon points="351,576.7 355.1,576.2 350,574.5 345.9,575" fill="#f22d2a"/>
<polygon points="233.8,625.4 238.8,617.2 234.6,616.4 229.6,624.5" fill="#98f773"/>
<polygon points="332.3,575.9 336.6,574.4 331.6,572.9 327.3,574.4" fill="#f2312e"/>
<polygon points="341.6,576 345.9,575 340.8,573.4 336.6,574.4" fill="#f22d2a"/>
<polygon points="280.9,589.2 285.6,584.6 281,583.5 276.3,588.2" fill="#fe824d"/>
<polygon points="257.4,604.6 262.2,598.2 257.8,597.3 253,603.6" fill="#fcec5f"/>
<polygon points="214.6,652.6 219.6,642.6 215.5,641.7 210.5,651.6" fill="#79f2d5"/>
<polygon points="290.2,585.7 294.9,581.6 290.2,580.4 285.6,584.6" fill="#fc5f49"/>
<polygon points="243.1,618.2 248.1,610.6 243.8,609.7 238.8,617.2" fill="#bff869"/>
<polygon points="228.8,634.2 233.8,625.4 229.6,624.5 224.7,633.2" fill="#73f580"/>
<polygon points="299.6,582.8 304.2,579.2 299.5,578 294.9,581.6" fill="#fa4c44"/>
<polygon points="266.7,599.2 271.5,593.4 267,592.4 262.2,598.2" fill="#fdc959"/>
<polygon points="384.3,584.6 388.2,585.5 382.8,583.3 378.9,582.4" fill="#fd4b2e"/>
<polygon points="309,580.5 313.6,577.5 308.8,576.2 304.2,579.2" fill="#f6423e"/>
<polygon points="209.5,663.2 214.6,652.6 210.5,651.6 205.4,662.2" fill="#7deafa"/>
<polygon points="374.9,582 378.9,582.4 373.6,580.4 369.6,579.9" fill="#fa372d"/>
<polygon points="318.5,578.9 322.9,576.4 318,575 313.6,577.5" fill="#f33b38"/>
<polygon points="252.4,611.6 257.4,604.6 253,603.6 248.1,610.6" fill="#e5f765"/>
<polygon points="365.6,579.9 369.6,579.9 364.4,578 360.3,578" fill="#f5312b"/>
<polygon points="276.1,594.5 280.9,589.2 276.3,588.2 271.5,593.4" fill="#ffa752"/>
<polygon points="327.9,577.9 332.3,575.9 327.3,574.4 322.9,576.4" fill="#f33634"/>
<polygon points="356.2,578.5 360.3,578 355.1,576.2 351,576.7" fill="#f22d2a"/>
<polygon points="223.8,643.6 228.8,634.2 224.7,633.2 219.6,642.6" fill="#76f5a9"/>
<polygon points="337.3,577.5 341.6,576 336.6,574.4 332.3,575.9" fill="#f2322f"/>
<polygon points="346.7,577.7 351,576.7 345.9,575 341.6,576" fill="#f22e2b"/>
<polygon points="238.1,626.4 243.1,618.2 238.8,617.2 233.8,625.4" fill="#9cf773"/>
<polygon points="285.5,590.4 290.2,585.7 285.6,584.6 280.9,589.2" fill="#fe804e"/>
<polygon points="261.8,605.6 266.7,599.2 262.2,598.2 257.4,604.6" fill="#fce95f"/>
<polygon points="218.7,653.6 223.8,643.6 219.6,642.6 214.6,652.6" fill="#7af3d2"/>
<polygon points="294.9,586.9 299.6,582.8 294.9,581.6 290.2,585.7" fill="#fc5e4a"/>
<polygon points="247.5,619.2 252.4,611.6 248.1,610.6 243.1,618.2" fill="#c3f86a"/>
<polygon points="233.1,635.2 238.1,626.4 233.8,625.4 228.8,634.2" fill="#77f580"/>
<polygon points="304.4,584.1 309,580.5 304.2,579.2 299.6,582.8" fill="#fa4d45"/>
<polygon points="271.2,600.3 276.1,594.5 271.5,593.4 266.7,599.2" fill="#fdc659"/>
<polygon points="389.8,586.8 393.6,587.8 388.2,585.5 384.3,584.6" fill="#fd542e"/>
<polygon points="313.9,581.9 318.5,578.9 313.6,577.5 309,580.5" fill="#f6433e"/>
<polygon points="380.4,584.1 384.3,584.6 378.9,582.4 374.9,582" fill="#fb392e"/>
<polygon points="213.6,664.3 218.7,653.6 214.6,652.6 209.5,663.2" fill="#7decf9"/>
<polygon points="323.4,580.4 327.9,577.9 322.9,576.4 318.5,578.9" fill="#f33c39"/>
<polygon points="370.9,582 374.9,582 369.6,579.9 365.6,579.9" fill="#f6332c"/>
<polygon points="256.9,612.7 261.8,605.6 257.4,604.6 252.4,611.6" fill="#e8f865"/>
<polygon points="280.7,595.7 285.5,590.4 280.9,589.2 276.1,594.5" fill="#ffa653"/>
<polygon points="332.9,579.5 337.3,577.5 332.3,575.9 327.9,577.9" fill="#f33734"/>
<polygon points="361.4,580.4 365.6,579.9 360.3,578 356.2,578.5" fill="#f32e2a"/>
<polygon points="342.4,579.2 346.7,577.7 341.6,576 337.3,577.5" fill="#f23330"/>
<polygon points="351.9,579.5 356.2,578.5 351,576.7 346.7,577.7" fill="#f22e2b"/>
<polygon points="228,644.6 233.1,635.2 228.8,634.2 223.8,643.6" fill="#77f5a6"/>
<polygon points="242.5,627.4 247.5,619.2 243.1,618.2 238.1,626.4" fill="#9ff774"/>
<polygon points="290.2,591.7 294.9,586.9 290.2,585.7 285.5,590.4" fill="#fd7f4f"/>
<polygon points="266.3,606.8 271.2,600.3 266.7,599.2 261.8,605.6" fill="#fce760"/>
<polygon points="299.7,588.3 304.4,584.1 299.6,582.8 294.9,586.9" fill="#fc5e4b"/>
<polygon points="222.9,654.7 228,644.6 223.8,643.6 218.7,653.6" fill="#7bf4d0"/>
<polygon points="251.9,620.3 256.9,612.7 252.4,611.6 247.5,619.2" fill="#c6f86b"/>
<polygon points="237.4,636.3 242.5,627.4 238.1,626.4 233.1,635.2" fill="#7bf67f"/>
<polygon points="309.3,585.6 313.9,581.9 309,580.5 304.4,584.1" fill="#fa4d45"/>
<polygon points="275.9,601.6 280.7,595.7 276.1,594.5 271.2,600.3" fill="#fdc55a"/>
<polygon points="318.9,583.5 323.4,580.4 318.5,578.9 313.9,581.9" fill="#f6443f"/>
<polygon points="385.9,586.4 389.8,586.8 384.3,584.6 380.4,584.1" fill="#fc3d2e"/>
<polygon points="217.8,665.5 222.9,654.7 218.7,653.6 213.6,664.3" fill="#7eeef7"/>
<polygon points="328.5,582 332.9,579.5 327.9,577.9 323.4,580.4" fill="#f33c3a"/>
<polygon points="376.3,584.1 380.4,584.1 374.9,582 370.9,582" fill="#f8352c"/>
<polygon points="261.4,613.9 266.3,606.8 261.8,605.6 256.9,612.7" fill="#eaf866"/>
<polygon points="285.4,597 290.2,591.7 285.5,590.4 280.7,595.7" fill="#ffa554"/>
<polygon points="338,581.2 342.4,579.2 337.3,577.5 332.9,579.5" fill="#f33835"/>
<polygon points="366.8,582.5 370.9,582 365.6,579.9 361.4,580.4" fill="#f4302b"/>
<polygon points="347.6,581 351.9,579.5 346.7,577.7 342.4,579.2" fill="#f23431"/>
<polygon points="357.2,581.4 361.4,580.4 356.2,578.5 351.9,579.5" fill="#f22f2c"/>
<polygon points="232.3,645.8 237.4,636.3 233.1,635.2 228,644.6" fill="#77f5a4"/>
<polygon points="246.9,628.6 251.9,620.3 247.5,619.2 242.5,627.4" fill="#a2f774"/>
<polygon points="295,593 299.7,588.3 294.9,586.9 290.2,591.7" fill="#fd8050"/>
<polygon points="271,608.1 275.9,601.6 271.2,600.3 266.3,606.8" fill="#fce661"/>
<polygon points="304.6,589.7 309.3,585.6 304.4,584.1 299.7,588.3" fill="#fc5f4c"/>
<polygon points="227.2,656 232.3,645.8 228,644.6 222.9,654.7" fill="#7cf4ce"/>
<polygon points="256.4,621.6 261.4,613.9 256.9,612.7 251.9,620.3" fill="#c8f86b"/>
<polygon points="241.8,637.5 246.9,628.6 242.5,627.4 237.4,636.3" fill="#7ff67f"/>
<polygon points="314.3,587.1 318.9,583.5 313.9,581.9 309.3,585.6" fill="#fa4e46"/>
<polygon points="280.6,602.9 285.4,597 280.7,595.7 275.9,601.6" fill="#fdc45b"/>
<polygon points="323.9,585.1 328.5,582 323.4,580.4 318.9,583.5" fill="#f64540"/>
<polygon points="222,666.8 227.2,656 222.9,654.7 217.8,665.5" fill="#7feef4"/>
<polygon points="381.8,586.4 385.9,586.4 380.4,584.1 376.3,584.1" fill="#f9372d"/>
<polygon points="333.6,583.7 338,581.2 332.9,579.5 328.5,582" fill="#f43e3a"/>
<polygon points="372.2,584.6 376.3,584.1 370.9,582 366.8,582.5" fill="#f6322b"/>
<polygon points="266,615.2 271,608.1 266.3,606.8 261.4,613.9" fill="#ecf867"/>
<polygon points="343.2,583 347.6,581 342.4,579.2 338,581.2" fill="#f33936"/>
<polygon points="290.2,598.4 295,593 290.2,591.7 285.4,597" fill="#ffa455"/>
<polygon points="362.6,583.5 366.8,582.5 361.4,580.4 357.2,581.4" fill="#f3312d"/>
<polygon points="352.9,582.9 357.2,581.4 351.9,579.5 347.6,581" fill="#f23431"/>
<polygon points="236.7,647.1 241.8,637.5 237.4,636.3 232.3,645.8" fill="#79f5a2"/>
<polygon points="251.4,629.9 256.4,621.6 251.9,620.3 246.9,628.6" fill="#a5f774"/>
<polygon points="299.9,594.5 304.6,589.7 299.7,588.3 295,593" fill="#fd7f51"/>
<polygon points="275.6,609.4 280.6,602.9 275.9,601.6 271,608.1" fill="#fce462"/>
<polygon points="309.6,591.3 314.3,587.1 309.3,585.6 304.6,589.7" fill="#fc604c"/>
<polygon points="231.6,657.3 236.7,647.1 232.3,645.8 227.2,656" fill="#7cf4cc"/>
<polygon points="261,622.9 266,615.2 261.4,613.9 256.4,621.6" fill="#caf86c"/>
<polygon points="246.3,638.8 251.4,629.9 246.9,628.6 241.8,637.5" fill="#81f680"/>
<polygon points="319.3,588.7 323.9,585.1 318.9,583.5 314.3,587.1" fill="#fa5047"/>
<polygon points="285.3,604.3 290.2,598.4 285.4,597 280.6,602.9" fill="#fdc35b"/>
<polygon points="329,586.8 333.6,583.7 328.5,582 323.9,585.1" fill="#f74741"/>
<polygon points="226.4,668.1 231.6,657.3 227.2,656 222,666.8" fill="#80eef3"/>
<polygon points="338.8,585.6 343.2,583 338,581.2 333.6,583.7" fill="#f5403c"/>
<polygon points="377.7,586.9 381.8,586.4 376.3,584.1 372.2,584.6" fill="#f7342c"/>
<polygon points="348.5,584.9 352.9,582.9 347.6,581 343.2,583" fill="#f43a37"/>
<polygon points="270.7,616.6 275.6,609.4 271,608.1 266,615.2" fill="#edf868"/>
<polygon points="295.1,599.9 299.9,594.5 295,593 290.2,598.4" fill="#ffa455"/>
<polygon points="368,585.6 372.2,584.6 366.8,582.5 362.6,583.5" fill="#f4342f"/>
<polygon points="358.3,585 362.6,583.5 357.2,581.4 352.9,582.9" fill="#f33632"/>
<polygon points="241.1,648.4 246.3,638.8 241.8,637.5 236.7,647.1" fill="#7af5a1"/>
<polygon points="255.9,631.3 261,622.9 256.4,621.6 251.4,629.9" fill="#a7f774"/>
<polygon points="304.8,596.1 309.6,591.3 304.6,589.7 299.9,594.5" fill="#fd8152"/>
<polygon points="280.4,610.9 285.3,604.3 280.6,602.9 275.6,609.4" fill="#fce462"/>
<polygon points="314.6,593 319.3,588.7 314.3,587.1 309.6,591.3" fill="#fc624d"/>
<polygon points="236,658.7 241.1,648.4 236.7,647.1 231.6,657.3" fill="#7df5ca"/>
<polygon points="265.6,624.3 270.7,616.6 266,615.2 261,622.9" fill="#ccf86d"/>
<polygon points="250.8,640.3 255.9,631.3 251.4,629.9 246.3,638.8" fill="#84f680"/>
<polygon points="324.4,590.5 329,586.8 323.9,585.1 319.3,588.7" fill="#fb5048"/>
<polygon points="290.2,605.9 295.1,599.9 290.2,598.4 285.3,604.3" fill="#fdc45c"/>
<polygon points="334.2,588.7 338.8,585.6 333.6,583.7 329,586.8" fill="#f84842"/>
<polygon points="344.1,587.5 348.5,584.9 343.2,583 338.8,585.6" fill="#f6413d"/>
<polygon points="230.8,669.6 236,658.7 231.6,657.3 226.4,668.1" fill="#81eff1"/>
<polygon points="353.9,587 358.3,585 352.9,582.9 348.5,584.9" fill="#f53c38"/>
<polygon points="373.5,587.9 377.7,586.9 372.2,584.6 368,585.6" fill="#f63630"/>
<polygon points="363.7,587.1 368,585.6 362.6,583.5 358.3,585" fill="#f43934"/>
<polygon points="275.4,618 280.4,610.9 275.6,609.4 270.7,616.6" fill="#eef868"/>
<polygon points="300,601.5 304.8,596.1 299.9,594.5 295.1,599.9" fill="#ffa556"/>
<polygon points="245.7,649.9 250.8,640.3 246.3,638.8 241.1,648.4" fill="#7af5a0"/>
<polygon points="260.6,632.7 265.6,624.3 261,622.9 255.9,631.3" fill="#a9f775"/>
<polygon points="309.8,597.8 314.6,593 309.6,591.3 304.8,596.1" fill="#fe8351"/>
<polygon points="285.2,612.4 290.2,605.9 285.3,604.3 280.4,610.9" fill="#fce463"/>
<polygon points="319.7,594.8 324.4,590.5 319.3,588.7 314.6,593" fill="#fd654e"/>
<polygon points="240.5,660.2 245.7,649.9 241.1,648.4 236,658.7" fill="#7ef5c9"/>
<polygon points="270.4,625.9 275.4,618 270.7,616.6 265.6,624.3" fill="#cdf86e"/>
<polygon points="329.6,592.4 334.2,588.7 329,586.8 324.4,590.5" fill="#fc5248"/>
<polygon points="255.4,641.8 260.6,632.7 255.9,631.3 250.8,640.3" fill="#86f681"/>
<polygon points="295.1,607.5 300,601.5 295.1,599.9 290.2,605.9" fill="#fdc55d"/>
<polygon points="339.5,590.7 344.1,587.5 338.8,585.6 334.2,588.7" fill="#f94a43"/>
<polygon points="349.4,589.6 353.9,587 348.5,584.9 344.1,587.5" fill="#f7443e"/>
<polygon points="235.3,671.2 240.5,660.2 236,658.7 230.8,669.6" fill="#82efef"/>
<polygon points="359.3,589.2 363.7,587.1 358.3,585 353.9,587" fill="#f63f39"/>
<polygon points="369.3,589.4 373.5,587.9 368,585.6 363.7,587.1" fill="#f63b36"/>
<polygon points="305,603.2 309.8,597.8 304.8,596.1 300,601.5" fill="#ffa757"/>
<polygon points="280.2,619.7 285.2,612.4 280.4,610.9 275.4,618" fill="#eef869"/>
<polygon points="250.3,651.5 255.4,641.8 250.8,640.3 245.7,649.9" fill="#7bf59f"/>
<polygon points="265.3,634.3 270.4,625.9 265.6,624.3 260.6,632.7" fill="#aaf775"/>
<polygon points="315,599.6 319.7,594.8 314.6,593 309.8,597.8" fill="#fe8652"/>
<polygon points="290.2,614.1 295.1,607.5 290.2,605.9 285.2,612.4" fill="#fce464"/>
<polygon points="324.9,596.7 329.6,592.4 324.4,590.5 319.7,594.8" fill="#fd694e"/>
<polygon points="245.1,661.9 250.3,651.5 245.7,649.9 240.5,660.2" fill="#7ff5c8"/>
<polygon points="275.2,627.5 280.2,619.7 275.4,618 270.4,625.9" fill="#cef86e"/>
<polygon points="334.9,594.4 339.5,590.7 334.2,588.7 329.6,592.4" fill="#fc534a"/>
<polygon points="260.1,643.4 265.3,634.3 260.6,632.7 255.4,641.8" fill="#87f681"/>
<polygon points="300.1,609.2 305,603.2 300,601.5 295.1,607.5" fill="#fdc65e"/>
<polygon points="344.9,592.8 349.4,589.6 344.1,587.5 339.5,590.7" fill="#fa4d45"/>
<polygon points="354.9,591.8 359.3,589.2 353.9,587 349.4,589.6" fill="#f8463f"/>
<polygon points="364.9,591.5 369.3,589.4 363.7,587.1 359.3,589.2" fill="#f8413b"/>
<polygon points="239.8,672.9 245.1,661.9 240.5,660.2 235.3,671.2" fill="#82efee"/>
<polygon points="310.1,605.1 315,599.6 309.8,597.8 305,603.2" fill="#ffa957"/>
<polygon points="285.1,621.4 290.2,614.1 285.2,612.4 280.2,619.7" fill="#eef86a"/>
<polygon points="255,653.2 260.1,643.4 255.4,641.8 250.3,651.5" fill="#7cf69e"/>
<polygon points="270.1,636 275.2,627.5 270.4,625.9 265.3,634.3" fill="#abf876"/>
<polygon points="320.1,601.5 324.9,596.7 319.7,594.8 315,599.6" fill="#fe8a53"/>
<polygon points="295.2,615.9 300.1,609.2 295.1,607.5 290.2,614.1" fill="#fce564"/>
<polygon points="330.2,598.7 334.9,594.4 329.6,592.4 324.9,596.7" fill="#fd6e4f"/>
<polygon points="249.7,663.6 255,653.2 250.3,651.5 245.1,661.9" fill="#80f5c8"/>
<polygon points="280.1,629.3 285.1,621.4 280.2,619.7 275.2,627.5" fill="#cdf86f"/>
<polygon points="340.3,596.5 344.9,592.8 339.5,590.7 334.9,594.4" fill="#fc584b"/>
<polygon points="264.9,645.2 270.1,636 265.3,634.3 260.1,643.4" fill="#89f681"/>
<polygon points="305.2,611.1 310.1,605.1 305,603.2 300.1,609.2" fill="#fdc75e"/>
<polygon points="350.3,595 354.9,591.8 349.4,589.6 344.9,592.8" fill="#fb4e45"/>
<polygon points="360.4,594.2 364.9,591.5 359.3,589.2 354.9,591.8" fill="#f94841"/>
<polygon points="244.5,674.7 249.7,663.6 245.1,661.9 239.8,672.9" fill="#83f0ee"/>
<polygon points="315.3,607 320.1,601.5 315,599.6 310.1,605.1" fill="#ffac58"/>
<polygon points="290.1,623.2 295.2,615.9 290.2,614.1 285.1,621.4" fill="#eef86a"/>
<polygon points="259.7,655 264.9,645.2 260.1,643.4 255,653.2" fill="#7cf69f"/>
<polygon points="275,637.8 280.1,629.3 275.2,627.5 270.1,636" fill="#acf876"/>
<polygon points="325.4,603.6 330.2,598.7 324.9,596.7 320.1,601.5" fill="#fe8e54"/>
<polygon points="300.2,617.8 305.2,611.1 300.1,609.2 295.2,615.9" fill="#fce665"/>
<polygon points="335.6,600.8 340.3,596.5 334.9,594.4 330.2,598.7" fill="#fd7450"/>
<polygon points="254.5,665.4 259.7,655 255,653.2 249.7,663.6" fill="#81f5c8"/>
<polygon points="285.1,631.1 290.1,623.2 285.1,621.4 280.1,629.3" fill="#cdf870"/>
<polygon points="345.7,598.8 350.3,595 344.9,592.8 340.3,596.5" fill="#fc5e4b"/>
<polygon points="269.8,647 275,637.8 270.1,636 264.9,645.2" fill="#89f682"/>
<polygon points="310.4,613.1 315.3,607 310.1,605.1 305.2,611.1" fill="#fdc95f"/>
<polygon points="355.9,597.3 360.4,594.2 354.9,591.8 350.3,595" fill="#fb5147"/>
<polygon points="249.2,676.6 254.5,665.4 249.7,663.6 244.5,674.7" fill="#83f0ed"/>
<polygon points="320.6,609.1 325.4,603.6 320.1,601.5 315.3,607" fill="#ffaf59"/>
<polygon points="295.2,625.1 300.2,617.8 295.2,615.9 290.1,623.2" fill="#ecf86b"/>
<polygon points="264.6,656.9 269.8,647 264.9,645.2 259.7,655" fill="#7df69f"/>
<polygon points="279.9,639.7 285.1,631.1 280.1,629.3 275,637.8" fill="#acf877"/>
<polygon points="330.8,605.8 335.6,600.8 330.2,598.7 325.4,603.6" fill="#fe9354"/>
<polygon points="305.4,619.8 310.4,613.1 305.2,611.1 300.2,617.8" fill="#fce966"/>
<polygon points="341,603.1 345.7,598.8 340.3,596.5 335.6,600.8" fill="#fd7a51"/>
<polygon points="259.3,667.4 264.6,656.9 259.7,655 254.5,665.4" fill="#81f6c8"/>
<polygon points="351.3,601.1 355.9,597.3 350.3,595 345.7,598.8" fill="#fd664c"/>
<polygon points="290.1,633.1 295.2,625.1 290.1,623.2 285.1,631.1" fill="#ccf870"/>
<polygon points="274.7,649 279.9,639.7 275,637.8 269.8,647" fill="#89f683"/>
<polygon points="315.7,615.2 320.6,609.1 315.3,607 310.4,613.1" fill="#fdcc60"/>
<polygon points="325.9,611.3 330.8,605.8 325.4,603.6 320.6,609.1" fill="#ffb35a"/>
<polygon points="254,678.6 259.3,667.4 254.5,665.4 249.2,676.6" fill="#83f0ed"/>
<polygon points="300.4,627.2 305.4,619.8 300.2,617.8 295.2,625.1" fill="#ebf86c"/>
<polygon points="269.5,658.9 274.7,649 269.8,647 264.6,656.9" fill="#7ef6a0"/>
<polygon points="285,641.8 290.1,633.1 285.1,631.1 279.9,639.7" fill="#abf878"/>
<polygon points="336.2,608.1 341,603.1 335.6,600.8 330.8,605.8" fill="#fe9855"/>
<polygon points="310.7,622 315.7,615.2 310.4,613.1 305.4,619.8" fill="#fceb67"/>
<polygon points="346.6,605.5 351.3,601.1 345.7,598.8 341,603.1" fill="#fd8151"/>
<polygon points="264.2,669.5 269.5,658.9 264.6,656.9 259.3,667.4" fill="#82f5c8"/>
<polygon points="295.3,635.2 300.4,627.2 295.2,625.1 290.1,633.1" fill="#cbf871"/>
<polygon points="279.8,651.1 285,641.8 279.9,639.7 274.7,649" fill="#89f684"/>
<polygon points="321,617.5 325.9,611.3 320.6,609.1 315.7,615.2" fill="#fdd061"/>
<polygon points="331.4,613.6 336.2,608.1 330.8,605.8 325.9,611.3" fill="#feb75b"/>
<polygon points="258.9,680.8 264.2,669.5 259.3,667.4 254,678.6" fill="#83f0ed"/>
<polygon points="305.6,629.4 310.7,622 305.4,619.8 300.4,627.2" fill="#e9f86d"/>
<polygon points="274.5,661 279.8,651.1 274.7,649 269.5,658.9" fill="#7ff6a1"/>
<polygon points="290.1,643.9 295.3,635.2 290.1,633.1 285,641.8" fill="#aaf879"/>
<polygon points="341.8,610.5 346.6,605.5 341,603.1 336.2,608.1" fill="#ff9f56"/>
<polygon points="316,624.3 321,617.5 315.7,615.2 310.7,622" fill="#fcee67"/>
<polygon points="269.2,671.7 274.5,661 269.5,658.9 264.2,669.5" fill="#83f6c9"/>
<polygon points="300.5,637.5 305.6,629.4 300.4,627.2 295.3,635.2" fill="#c9f872"/>
<polygon points="326.5,619.8 331.4,613.6 325.9,611.3 321,617.5" fill="#fdd462"/>
<polygon points="284.9,653.3 290.1,643.9 285,641.8 279.8,651.1" fill="#89f685"/>
<polygon points="336.9,616.1 341.8,610.5 336.2,608.1 331.4,613.6" fill="#febc5c"/>
<polygon points="263.8,683 269.2,671.7 264.2,669.5 258.9,680.8" fill="#83f0ee"/>
<polygon points="310.9,631.7 316,624.3 310.7,622 305.6,629.4" fill="#e6f86d"/>
<polygon points="295.3,646.2 300.5,637.5 295.3,635.2 290.1,643.9" fill="#a8f87b"/>
<polygon points="279.6,663.3 284.9,653.3 279.8,651.1 274.5,661" fill="#7ff6a3"/>
<polygon points="321.4,626.7 326.5,619.8 321,617.5 316,624.3" fill="#fbf269"/>
<polygon points="305.8,639.8 310.9,631.7 305.6,629.4 300.5,637.5" fill="#c7f873"/>
<polygon points="274.3,674 279.6,663.3 274.5,661 269.2,671.7" fill="#84f6cb"/>
<polygon points="332,622.3 336.9,616.1 331.4,613.6 326.5,619.8" fill="#fdd863"/>
<polygon points="290.1,655.6 295.3,646.2 290.1,643.9 284.9,653.3" fill="#87f686"/>
<polygon points="316.4,634.2 321.4,626.7 316,624.3 310.9,631.7" fill="#e3f86e"/>
<polygon points="268.9,685.4 274.3,674 269.2,671.7 263.8,683" fill="#83efee"/>
<polygon points="300.6,648.6 305.8,639.8 300.5,637.5 295.3,646.2" fill="#a7f87b"/>
<polygon points="284.8,665.7 290.1,655.6 284.9,653.3 279.6,663.3" fill="#80f6a5"/>
<polygon points="327,629.2 332,622.3 326.5,619.8 321.4,626.7" fill="#fbf66a"/>
<polygon points="311.2,642.3 316.4,634.2 310.9,631.7 305.8,639.8" fill="#c4f873"/>
<polygon points="279.4,676.5 284.8,665.7 279.6,663.3 274.3,674" fill="#84f6cc"/>
<polygon points="295.4,658.1 300.6,648.6 295.3,646.2 290.1,655.6" fill="#85f687"/>
<polygon points="321.9,636.8 327,629.2 321.4,626.7 316.4,634.2" fill="#dff86f"/>
<polygon points="274,688 279.4,676.5 274.3,674 268.9,685.4" fill="#83eff0"/>
<polygon points="306,651.2 311.2,642.3 305.8,639.8 300.6,648.6" fill="#a4f77d"/>
<polygon points="290.1,668.2 295.4,658.1 290.1,655.6 284.8,665.7" fill="#81f6a8"/>
<polygon points="316.7,645 321.9,636.8 316.4,634.2 311.2,642.3" fill="#c1f874"/>
<polygon points="284.7,679.1 290.1,668.2 284.8,665.7 279.4,676.5" fill="#85f5ce"/>
<polygon points="300.7,660.7 306,651.2 300.6,648.6 295.4,658.1" fill="#84f688"/>
<polygon points="279.3,690.6 284.7,679.1 279.4,676.5 274,688" fill="#83eff1"/>
<polygon points="311.5,653.9 316.7,645 311.2,642.3 306,651.2" fill="#a1f77e"/>
<polygon points="295.4,670.9 300.7,660.7 295.4,658.1 290.1,668.2" fill="#81f6ab"/>
<polygon points="290,681.8 295.4,670.9 290.1,668.2 284.7,679.1" fill="#85f5d0"/>
<polygon points="306.2,663.4 311.5,653.9 306,651.2 300.7,660.7" fill="#81f689"/>
<polygon points="284.6,693.4 290,681.8 284.7,679.1 279.3,690.6" fill="#83eff3"/>
<polygon points="300.9,673.7 306.2,663.4 300.7,660.7 295.4,670.9" fill="#82f6ad"/>
<polygon points="295.5,684.7 300.9,673.7 295.4,670.9 290,681.8" fill="#85f5d2"/>
<polygon points="290,696.4 295.5,684.7 290,681.8 284.6,693.4" fill="#82eef6"/>
</g>
<circle cx="290.2" cy="584.9" r="2.1" fill="#b80d14" stroke="#700000" stroke-width="0.6"/>
<circle cx="236.7" cy="668.9" r="2.1" fill="#b80d14" stroke="#700000" stroke-width="0.6"/>
<g font-family="'Liberation Sans',sans-serif" font-size="4.6" fill="#4d4d4d">
<circle cx="190.7" cy="677" r="1" fill="#111"/>
<text x="187.7" y="675.8" text-anchor="end">0</text>
<circle cx="189.7" cy="655.2" r="1" fill="#111"/>
<text x="186.7" y="654" text-anchor="end">10</text>
<circle cx="188.7" cy="633.4" r="1" fill="#111"/>
<text x="185.7" y="632.2" text-anchor="end">20</text>
<circle cx="187.7" cy="611.7" r="1" fill="#111"/>
<text x="184.7" y="610.5" text-anchor="end">30</text>
<circle cx="186.7" cy="589.9" r="1" fill="#111"/>
<text x="183.7" y="588.7" text-anchor="end">40</text>
<circle cx="185.7" cy="568.1" r="1" fill="#111"/>
<text x="182.7" y="566.9" text-anchor="end">50</text>
<circle cx="192.3" cy="711.2" r="1" fill="#111"/>
<text x="188.3" y="715.2" text-anchor="middle">1</text>
<circle cx="388" cy="710.9" r="1" fill="#111"/>
<text x="392" y="715.5" text-anchor="middle">1</text>
<circle cx="216.7" cy="723.5" r="1" fill="#111"/>
<text x="210.2" y="728.5" text-anchor="middle">0.5</text>
<circle cx="363.5" cy="723.3" r="1" fill="#111"/>
<text x="370" y="728.3" text-anchor="middle">0.5</text>
<circle cx="241.1" cy="735.8" r="1" fill="#111"/>
<text x="236.6" y="740.8" text-anchor="middle">0</text>
<circle cx="339" cy="735.7" r="1" fill="#111"/>
<text x="342.4" y="740.7" text-anchor="middle">0</text>
<circle cx="265.6" cy="748.1" r="1" fill="#111"/>
<text x="259.1" y="753.1" text-anchor="middle">-0.5</text>
<circle cx="314.5" cy="748.1" r="1" fill="#111"/>
<text x="321" y="753.1" text-anchor="middle">-0.5</text>
<circle cx="290" cy="760.4" r="1" fill="#111"/>
<text x="285.5" y="765.8" text-anchor="middle">-1</text>
<text x="294.5" y="765.8" text-anchor="middle">-1</text>
<text x="203.6" y="754.2" text-anchor="middle">B: Speed (mm/s)</text>
<text x="376" y="754.2" text-anchor="middle">A: Power (W)</text>
<text transform="translate(153.2,642.1) rotate(-90)" text-anchor="middle" font-size="4.75">Elongation at Fracture (%)</text>
</g>
<text x="274.5" y="787" text-anchor="middle" font-family="'Liberation Serif',serif" font-size="13.8" fill="#111">(<tspan font-weight="bold">e</tspan>)</text>
</svg></body></html>
